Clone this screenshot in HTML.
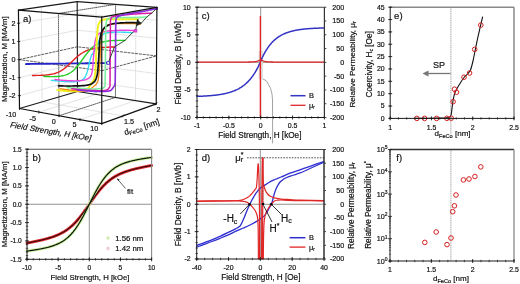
<!DOCTYPE html>
<html><head><meta charset="utf-8"><style>html,body{margin:0;padding:0;background:#fff;width:520px;height:284px;overflow:hidden}svg{display:block}</style></head><body>
<svg width="520" height="284" viewBox="0 0 520 284" style="font-family:'Liberation Sans',Arial,sans-serif">
<style>text{stroke:#1a1a1a;stroke-width:0.2px;paint-order:stroke}</style>
<rect width="520" height="284" fill="#fff"/>
<line x1="27" y1="204.25" x2="151.6" y2="204.25" stroke="#777" stroke-width="0.8" />
<line x1="89.3" y1="149.2" x2="89.3" y2="259.3" stroke="#777" stroke-width="0.8" />
<path d="M27,243.05 L27.78,242.9 L28.56,242.76 L29.34,242.61 L30.12,242.46 L30.89,242.31 L31.67,242.15 L32.45,242 L33.23,241.84 L34.01,241.69 L34.79,241.53 L35.57,241.37 L36.34,241.2 L37.12,241.04 L37.9,240.87 L38.68,240.7 L39.46,240.52 L40.24,240.35 L41.02,240.17 L41.8,239.98 L42.58,239.8 L43.35,239.6 L44.13,239.41 L44.91,239.21 L45.69,239 L46.47,238.79 L47.25,238.58 L48.03,238.36 L48.8,238.13 L49.58,237.89 L50.36,237.65 L51.14,237.4 L51.92,237.15 L52.7,236.88 L53.48,236.61 L54.26,236.32 L55.03,236.03 L55.81,235.72 L56.59,235.41 L57.37,235.08 L58.15,234.74 L58.93,234.38 L59.71,234.02 L60.49,233.63 L61.27,233.23 L62.04,232.82 L62.82,232.39 L63.6,231.93 L64.38,231.47 L65.16,230.98 L65.94,230.47 L66.72,229.94 L67.5,229.38 L68.27,228.81 L69.05,228.21 L69.83,227.59 L70.61,226.94 L71.39,226.27 L72.17,225.57 L72.95,224.84 L73.72,224.09 L74.5,223.31 L75.28,222.51 L76.06,221.68 L76.84,220.82 L77.62,219.93 L78.4,219.02 L79.18,218.09 L79.95,217.13 L80.73,216.15 L81.51,215.14 L82.29,214.12 L83.07,213.07 L83.85,212.01 L84.63,210.93 L85.41,209.84 L86.19,208.74 L86.96,207.62 L87.74,206.5 L88.52,205.38 L89.3,204.25 L90.08,203.12 L90.86,202 L91.64,200.88 L92.42,199.76 L93.19,198.66 L93.97,197.57 L94.75,196.49 L95.53,195.43 L96.31,194.38 L97.09,193.36 L97.87,192.35 L98.64,191.37 L99.42,190.41 L100.2,189.48 L100.98,188.57 L101.76,187.68 L102.54,186.82 L103.32,185.99 L104.1,185.19 L104.88,184.41 L105.65,183.66 L106.43,182.93 L107.21,182.23 L107.99,181.56 L108.77,180.91 L109.55,180.29 L110.33,179.69 L111.11,179.12 L111.88,178.56 L112.66,178.03 L113.44,177.52 L114.22,177.03 L115,176.57 L115.78,176.11 L116.56,175.68 L117.33,175.27 L118.11,174.87 L118.89,174.48 L119.67,174.12 L120.45,173.76 L121.23,173.42 L122.01,173.09 L122.79,172.78 L123.56,172.47 L124.34,172.18 L125.12,171.89 L125.9,171.62 L126.68,171.35 L127.46,171.1 L128.24,170.85 L129.02,170.61 L129.79,170.37 L130.57,170.14 L131.35,169.92 L132.13,169.71 L132.91,169.5 L133.69,169.29 L134.47,169.09 L135.25,168.9 L136.02,168.7 L136.8,168.52 L137.58,168.33 L138.36,168.15 L139.14,167.98 L139.92,167.8 L140.7,167.63 L141.48,167.46 L142.25,167.3 L143.03,167.13 L143.81,166.97 L144.59,166.81 L145.37,166.66 L146.15,166.5 L146.93,166.35 L147.71,166.19 L148.48,166.04 L149.26,165.89 L150.04,165.74 L150.82,165.6 L151.6,165.45" fill="none" stroke="#dc2a2e" stroke-width="2.9" stroke-linejoin="round" stroke-linecap="round" />
<path d="M27,251.1 L27.78,250.99 L28.56,250.88 L29.34,250.77 L30.12,250.65 L30.89,250.54 L31.67,250.42 L32.45,250.3 L33.23,250.18 L34.01,250.06 L34.79,249.94 L35.57,249.81 L36.34,249.68 L37.12,249.55 L37.9,249.41 L38.68,249.28 L39.46,249.13 L40.24,248.99 L41.02,248.84 L41.8,248.69 L42.58,248.53 L43.35,248.37 L44.13,248.2 L44.91,248.03 L45.69,247.85 L46.47,247.67 L47.25,247.47 L48.03,247.27 L48.8,247.07 L49.58,246.85 L50.36,246.63 L51.14,246.39 L51.92,246.15 L52.7,245.9 L53.48,245.63 L54.26,245.35 L55.03,245.06 L55.81,244.75 L56.59,244.43 L57.37,244.09 L58.15,243.73 L58.93,243.36 L59.71,242.97 L60.49,242.56 L61.27,242.12 L62.04,241.66 L62.82,241.18 L63.6,240.67 L64.38,240.14 L65.16,239.58 L65.94,238.98 L66.72,238.36 L67.5,237.7 L68.27,237.02 L69.05,236.29 L69.83,235.53 L70.61,234.73 L71.39,233.9 L72.17,233.02 L72.95,232.1 L73.72,231.15 L74.5,230.15 L75.28,229.11 L76.06,228.02 L76.84,226.9 L77.62,225.73 L78.4,224.52 L79.18,223.27 L79.95,221.98 L80.73,220.65 L81.51,219.29 L82.29,217.89 L83.07,216.46 L83.85,215 L84.63,213.52 L85.41,212.01 L86.19,210.48 L86.96,208.94 L87.74,207.38 L88.52,205.82 L89.3,204.25 L90.08,202.68 L90.86,201.12 L91.64,199.56 L92.42,198.02 L93.19,196.49 L93.97,194.98 L94.75,193.5 L95.53,192.04 L96.31,190.61 L97.09,189.21 L97.87,187.85 L98.64,186.52 L99.42,185.23 L100.2,183.98 L100.98,182.77 L101.76,181.6 L102.54,180.48 L103.32,179.39 L104.1,178.35 L104.88,177.35 L105.65,176.4 L106.43,175.48 L107.21,174.6 L107.99,173.77 L108.77,172.97 L109.55,172.21 L110.33,171.48 L111.11,170.8 L111.88,170.14 L112.66,169.52 L113.44,168.92 L114.22,168.36 L115,167.83 L115.78,167.32 L116.56,166.84 L117.33,166.38 L118.11,165.94 L118.89,165.53 L119.67,165.14 L120.45,164.77 L121.23,164.41 L122.01,164.07 L122.79,163.75 L123.56,163.44 L124.34,163.15 L125.12,162.87 L125.9,162.6 L126.68,162.35 L127.46,162.11 L128.24,161.87 L129.02,161.65 L129.79,161.43 L130.57,161.23 L131.35,161.03 L132.13,160.83 L132.91,160.65 L133.69,160.47 L134.47,160.3 L135.25,160.13 L136.02,159.97 L136.8,159.81 L137.58,159.66 L138.36,159.51 L139.14,159.37 L139.92,159.22 L140.7,159.09 L141.48,158.95 L142.25,158.82 L143.03,158.69 L143.81,158.56 L144.59,158.44 L145.37,158.32 L146.15,158.2 L146.93,158.08 L147.71,157.96 L148.48,157.85 L149.26,157.73 L150.04,157.62 L150.82,157.51 L151.6,157.4" fill="none" stroke="#cfeea0" stroke-width="3.0" stroke-linejoin="round" stroke-linecap="round" />
<path d="M27,243.05 L27.78,242.9 L28.56,242.76 L29.34,242.61 L30.12,242.46 L30.89,242.31 L31.67,242.15 L32.45,242 L33.23,241.84 L34.01,241.69 L34.79,241.53 L35.57,241.37 L36.34,241.2 L37.12,241.04 L37.9,240.87 L38.68,240.7 L39.46,240.52 L40.24,240.35 L41.02,240.17 L41.8,239.98 L42.58,239.8 L43.35,239.6 L44.13,239.41 L44.91,239.21 L45.69,239 L46.47,238.79 L47.25,238.58 L48.03,238.36 L48.8,238.13 L49.58,237.89 L50.36,237.65 L51.14,237.4 L51.92,237.15 L52.7,236.88 L53.48,236.61 L54.26,236.32 L55.03,236.03 L55.81,235.72 L56.59,235.41 L57.37,235.08 L58.15,234.74 L58.93,234.38 L59.71,234.02 L60.49,233.63 L61.27,233.23 L62.04,232.82 L62.82,232.39 L63.6,231.93 L64.38,231.47 L65.16,230.98 L65.94,230.47 L66.72,229.94 L67.5,229.38 L68.27,228.81 L69.05,228.21 L69.83,227.59 L70.61,226.94 L71.39,226.27 L72.17,225.57 L72.95,224.84 L73.72,224.09 L74.5,223.31 L75.28,222.51 L76.06,221.68 L76.84,220.82 L77.62,219.93 L78.4,219.02 L79.18,218.09 L79.95,217.13 L80.73,216.15 L81.51,215.14 L82.29,214.12 L83.07,213.07 L83.85,212.01 L84.63,210.93 L85.41,209.84 L86.19,208.74 L86.96,207.62 L87.74,206.5 L88.52,205.38 L89.3,204.25 L90.08,203.12 L90.86,202 L91.64,200.88 L92.42,199.76 L93.19,198.66 L93.97,197.57 L94.75,196.49 L95.53,195.43 L96.31,194.38 L97.09,193.36 L97.87,192.35 L98.64,191.37 L99.42,190.41 L100.2,189.48 L100.98,188.57 L101.76,187.68 L102.54,186.82 L103.32,185.99 L104.1,185.19 L104.88,184.41 L105.65,183.66 L106.43,182.93 L107.21,182.23 L107.99,181.56 L108.77,180.91 L109.55,180.29 L110.33,179.69 L111.11,179.12 L111.88,178.56 L112.66,178.03 L113.44,177.52 L114.22,177.03 L115,176.57 L115.78,176.11 L116.56,175.68 L117.33,175.27 L118.11,174.87 L118.89,174.48 L119.67,174.12 L120.45,173.76 L121.23,173.42 L122.01,173.09 L122.79,172.78 L123.56,172.47 L124.34,172.18 L125.12,171.89 L125.9,171.62 L126.68,171.35 L127.46,171.1 L128.24,170.85 L129.02,170.61 L129.79,170.37 L130.57,170.14 L131.35,169.92 L132.13,169.71 L132.91,169.5 L133.69,169.29 L134.47,169.09 L135.25,168.9 L136.02,168.7 L136.8,168.52 L137.58,168.33 L138.36,168.15 L139.14,167.98 L139.92,167.8 L140.7,167.63 L141.48,167.46 L142.25,167.3 L143.03,167.13 L143.81,166.97 L144.59,166.81 L145.37,166.66 L146.15,166.5 L146.93,166.35 L147.71,166.19 L148.48,166.04 L149.26,165.89 L150.04,165.74 L150.82,165.6 L151.6,165.45" fill="none" stroke="#3a0a0a" stroke-width="1.1" stroke-linejoin="round" stroke-linecap="round" />
<path d="M27,251.1 L27.78,250.99 L28.56,250.88 L29.34,250.77 L30.12,250.65 L30.89,250.54 L31.67,250.42 L32.45,250.3 L33.23,250.18 L34.01,250.06 L34.79,249.94 L35.57,249.81 L36.34,249.68 L37.12,249.55 L37.9,249.41 L38.68,249.28 L39.46,249.13 L40.24,248.99 L41.02,248.84 L41.8,248.69 L42.58,248.53 L43.35,248.37 L44.13,248.2 L44.91,248.03 L45.69,247.85 L46.47,247.67 L47.25,247.47 L48.03,247.27 L48.8,247.07 L49.58,246.85 L50.36,246.63 L51.14,246.39 L51.92,246.15 L52.7,245.9 L53.48,245.63 L54.26,245.35 L55.03,245.06 L55.81,244.75 L56.59,244.43 L57.37,244.09 L58.15,243.73 L58.93,243.36 L59.71,242.97 L60.49,242.56 L61.27,242.12 L62.04,241.66 L62.82,241.18 L63.6,240.67 L64.38,240.14 L65.16,239.58 L65.94,238.98 L66.72,238.36 L67.5,237.7 L68.27,237.02 L69.05,236.29 L69.83,235.53 L70.61,234.73 L71.39,233.9 L72.17,233.02 L72.95,232.1 L73.72,231.15 L74.5,230.15 L75.28,229.11 L76.06,228.02 L76.84,226.9 L77.62,225.73 L78.4,224.52 L79.18,223.27 L79.95,221.98 L80.73,220.65 L81.51,219.29 L82.29,217.89 L83.07,216.46 L83.85,215 L84.63,213.52 L85.41,212.01 L86.19,210.48 L86.96,208.94 L87.74,207.38 L88.52,205.82 L89.3,204.25 L90.08,202.68 L90.86,201.12 L91.64,199.56 L92.42,198.02 L93.19,196.49 L93.97,194.98 L94.75,193.5 L95.53,192.04 L96.31,190.61 L97.09,189.21 L97.87,187.85 L98.64,186.52 L99.42,185.23 L100.2,183.98 L100.98,182.77 L101.76,181.6 L102.54,180.48 L103.32,179.39 L104.1,178.35 L104.88,177.35 L105.65,176.4 L106.43,175.48 L107.21,174.6 L107.99,173.77 L108.77,172.97 L109.55,172.21 L110.33,171.48 L111.11,170.8 L111.88,170.14 L112.66,169.52 L113.44,168.92 L114.22,168.36 L115,167.83 L115.78,167.32 L116.56,166.84 L117.33,166.38 L118.11,165.94 L118.89,165.53 L119.67,165.14 L120.45,164.77 L121.23,164.41 L122.01,164.07 L122.79,163.75 L123.56,163.44 L124.34,163.15 L125.12,162.87 L125.9,162.6 L126.68,162.35 L127.46,162.11 L128.24,161.87 L129.02,161.65 L129.79,161.43 L130.57,161.23 L131.35,161.03 L132.13,160.83 L132.91,160.65 L133.69,160.47 L134.47,160.3 L135.25,160.13 L136.02,159.97 L136.8,159.81 L137.58,159.66 L138.36,159.51 L139.14,159.37 L139.92,159.22 L140.7,159.09 L141.48,158.95 L142.25,158.82 L143.03,158.69 L143.81,158.56 L144.59,158.44 L145.37,158.32 L146.15,158.2 L146.93,158.08 L147.71,157.96 L148.48,157.85 L149.26,157.73 L150.04,157.62 L150.82,157.51 L151.6,157.4" fill="none" stroke="#0a1a0a" stroke-width="1.2" stroke-linejoin="round" stroke-linecap="round" />
<line x1="27" y1="149.2" x2="151.6" y2="149.2" stroke="#555" stroke-width="1.1" />
<line x1="151.6" y1="149.2" x2="151.6" y2="259.3" stroke="#888" stroke-width="1.1" />
<line x1="27" y1="148.7" x2="27" y2="259.8" stroke="#1a1a1a" stroke-width="1" />
<line x1="26.5" y1="259.3" x2="152.1" y2="259.3" stroke="#1a1a1a" stroke-width="1" />
<line x1="27" y1="258.1" x2="27" y2="260.5" stroke="#1a1a1a" stroke-width="0.7" />
<line x1="33.23" y1="258.1" x2="33.23" y2="260.5" stroke="#1a1a1a" stroke-width="0.7" />
<line x1="39.46" y1="258.1" x2="39.46" y2="260.5" stroke="#1a1a1a" stroke-width="0.7" />
<line x1="45.69" y1="258.1" x2="45.69" y2="260.5" stroke="#1a1a1a" stroke-width="0.7" />
<line x1="51.92" y1="258.1" x2="51.92" y2="260.5" stroke="#1a1a1a" stroke-width="0.7" />
<line x1="58.15" y1="258.1" x2="58.15" y2="260.5" stroke="#1a1a1a" stroke-width="0.7" />
<line x1="64.38" y1="258.1" x2="64.38" y2="260.5" stroke="#1a1a1a" stroke-width="0.7" />
<line x1="70.61" y1="258.1" x2="70.61" y2="260.5" stroke="#1a1a1a" stroke-width="0.7" />
<line x1="76.84" y1="258.1" x2="76.84" y2="260.5" stroke="#1a1a1a" stroke-width="0.7" />
<line x1="83.07" y1="258.1" x2="83.07" y2="260.5" stroke="#1a1a1a" stroke-width="0.7" />
<line x1="89.3" y1="258.1" x2="89.3" y2="260.5" stroke="#1a1a1a" stroke-width="0.7" />
<line x1="95.53" y1="258.1" x2="95.53" y2="260.5" stroke="#1a1a1a" stroke-width="0.7" />
<line x1="101.76" y1="258.1" x2="101.76" y2="260.5" stroke="#1a1a1a" stroke-width="0.7" />
<line x1="107.99" y1="258.1" x2="107.99" y2="260.5" stroke="#1a1a1a" stroke-width="0.7" />
<line x1="114.22" y1="258.1" x2="114.22" y2="260.5" stroke="#1a1a1a" stroke-width="0.7" />
<line x1="120.45" y1="258.1" x2="120.45" y2="260.5" stroke="#1a1a1a" stroke-width="0.7" />
<line x1="126.68" y1="258.1" x2="126.68" y2="260.5" stroke="#1a1a1a" stroke-width="0.7" />
<line x1="132.91" y1="258.1" x2="132.91" y2="260.5" stroke="#1a1a1a" stroke-width="0.7" />
<line x1="139.14" y1="258.1" x2="139.14" y2="260.5" stroke="#1a1a1a" stroke-width="0.7" />
<line x1="145.37" y1="258.1" x2="145.37" y2="260.5" stroke="#1a1a1a" stroke-width="0.7" />
<line x1="151.6" y1="258.1" x2="151.6" y2="260.5" stroke="#1a1a1a" stroke-width="0.7" />
<line x1="27" y1="257.3" x2="27" y2="261.3" stroke="#1a1a1a" stroke-width="0.8" />
<text x="27" y="269.8" font-size="6.6" text-anchor="middle" fill="#111" >-10</text>
<line x1="58.15" y1="257.3" x2="58.15" y2="261.3" stroke="#1a1a1a" stroke-width="0.8" />
<text x="58.15" y="269.8" font-size="6.6" text-anchor="middle" fill="#111" >-5</text>
<line x1="89.3" y1="257.3" x2="89.3" y2="261.3" stroke="#1a1a1a" stroke-width="0.8" />
<text x="89.3" y="269.8" font-size="6.6" text-anchor="middle" fill="#111" >0</text>
<line x1="120.45" y1="257.3" x2="120.45" y2="261.3" stroke="#1a1a1a" stroke-width="0.8" />
<text x="120.45" y="269.8" font-size="6.6" text-anchor="middle" fill="#111" >5</text>
<line x1="151.6" y1="257.3" x2="151.6" y2="261.3" stroke="#1a1a1a" stroke-width="0.8" />
<text x="151.6" y="269.8" font-size="6.6" text-anchor="middle" fill="#111" >10</text>
<line x1="25.8" y1="259.3" x2="28.2" y2="259.3" stroke="#1a1a1a" stroke-width="0.7" />
<line x1="25.8" y1="255.63" x2="28.2" y2="255.63" stroke="#1a1a1a" stroke-width="0.7" />
<line x1="25.8" y1="251.96" x2="28.2" y2="251.96" stroke="#1a1a1a" stroke-width="0.7" />
<line x1="25.8" y1="248.29" x2="28.2" y2="248.29" stroke="#1a1a1a" stroke-width="0.7" />
<line x1="25.8" y1="244.62" x2="28.2" y2="244.62" stroke="#1a1a1a" stroke-width="0.7" />
<line x1="25.8" y1="240.95" x2="28.2" y2="240.95" stroke="#1a1a1a" stroke-width="0.7" />
<line x1="25.8" y1="237.28" x2="28.2" y2="237.28" stroke="#1a1a1a" stroke-width="0.7" />
<line x1="25.8" y1="233.61" x2="28.2" y2="233.61" stroke="#1a1a1a" stroke-width="0.7" />
<line x1="25.8" y1="229.94" x2="28.2" y2="229.94" stroke="#1a1a1a" stroke-width="0.7" />
<line x1="25.8" y1="226.27" x2="28.2" y2="226.27" stroke="#1a1a1a" stroke-width="0.7" />
<line x1="25.8" y1="222.6" x2="28.2" y2="222.6" stroke="#1a1a1a" stroke-width="0.7" />
<line x1="25.8" y1="218.93" x2="28.2" y2="218.93" stroke="#1a1a1a" stroke-width="0.7" />
<line x1="25.8" y1="215.26" x2="28.2" y2="215.26" stroke="#1a1a1a" stroke-width="0.7" />
<line x1="25.8" y1="211.59" x2="28.2" y2="211.59" stroke="#1a1a1a" stroke-width="0.7" />
<line x1="25.8" y1="207.92" x2="28.2" y2="207.92" stroke="#1a1a1a" stroke-width="0.7" />
<line x1="25.8" y1="204.25" x2="28.2" y2="204.25" stroke="#1a1a1a" stroke-width="0.7" />
<line x1="25.8" y1="200.58" x2="28.2" y2="200.58" stroke="#1a1a1a" stroke-width="0.7" />
<line x1="25.8" y1="196.91" x2="28.2" y2="196.91" stroke="#1a1a1a" stroke-width="0.7" />
<line x1="25.8" y1="193.24" x2="28.2" y2="193.24" stroke="#1a1a1a" stroke-width="0.7" />
<line x1="25.8" y1="189.57" x2="28.2" y2="189.57" stroke="#1a1a1a" stroke-width="0.7" />
<line x1="25.8" y1="185.9" x2="28.2" y2="185.9" stroke="#1a1a1a" stroke-width="0.7" />
<line x1="25.8" y1="182.23" x2="28.2" y2="182.23" stroke="#1a1a1a" stroke-width="0.7" />
<line x1="25.8" y1="178.56" x2="28.2" y2="178.56" stroke="#1a1a1a" stroke-width="0.7" />
<line x1="25.8" y1="174.89" x2="28.2" y2="174.89" stroke="#1a1a1a" stroke-width="0.7" />
<line x1="25.8" y1="171.22" x2="28.2" y2="171.22" stroke="#1a1a1a" stroke-width="0.7" />
<line x1="25.8" y1="167.55" x2="28.2" y2="167.55" stroke="#1a1a1a" stroke-width="0.7" />
<line x1="25.8" y1="163.88" x2="28.2" y2="163.88" stroke="#1a1a1a" stroke-width="0.7" />
<line x1="25.8" y1="160.21" x2="28.2" y2="160.21" stroke="#1a1a1a" stroke-width="0.7" />
<line x1="25.8" y1="156.54" x2="28.2" y2="156.54" stroke="#1a1a1a" stroke-width="0.7" />
<line x1="25.8" y1="152.87" x2="28.2" y2="152.87" stroke="#1a1a1a" stroke-width="0.7" />
<line x1="25.8" y1="149.2" x2="28.2" y2="149.2" stroke="#1a1a1a" stroke-width="0.7" />
<line x1="25" y1="259.3" x2="29" y2="259.3" stroke="#1a1a1a" stroke-width="0.8" />
<text x="21.8" y="261.6" font-size="6.6" text-anchor="end" fill="#111" >-1.5</text>
<line x1="25" y1="240.95" x2="29" y2="240.95" stroke="#1a1a1a" stroke-width="0.8" />
<text x="21.8" y="243.25" font-size="6.6" text-anchor="end" fill="#111" >-1.0</text>
<line x1="25" y1="222.6" x2="29" y2="222.6" stroke="#1a1a1a" stroke-width="0.8" />
<text x="21.8" y="224.9" font-size="6.6" text-anchor="end" fill="#111" >-0.5</text>
<line x1="25" y1="204.25" x2="29" y2="204.25" stroke="#1a1a1a" stroke-width="0.8" />
<text x="21.8" y="206.55" font-size="6.6" text-anchor="end" fill="#111" >0.0</text>
<line x1="25" y1="185.9" x2="29" y2="185.9" stroke="#1a1a1a" stroke-width="0.8" />
<text x="21.8" y="188.2" font-size="6.6" text-anchor="end" fill="#111" >0.5</text>
<line x1="25" y1="167.55" x2="29" y2="167.55" stroke="#1a1a1a" stroke-width="0.8" />
<text x="21.8" y="169.85" font-size="6.6" text-anchor="end" fill="#111" >1.0</text>
<line x1="25" y1="149.2" x2="29" y2="149.2" stroke="#1a1a1a" stroke-width="0.8" />
<text x="21.8" y="151.5" font-size="6.6" text-anchor="end" fill="#111" >1.5</text>
<text x="32.4" y="160.6" font-size="9.5" text-anchor="start" fill="#111" >b)</text>
<text x="130" y="194.4" font-size="8" text-anchor="middle" fill="#111" >fit</text>
<line x1="125.4" y1="188.4" x2="117.6" y2="179.2" stroke="#222" stroke-width="0.7" />
<path d="M116.8,178.3 L119.6,179.6 L118.2,181.0 Z" fill="#222"/>
<circle cx="108" cy="238" r="1.5" fill="#cfe6a6" stroke="#e0f0c8" stroke-width="0.6"/>
<circle cx="108" cy="248.5" r="1.4" fill="#f6dde0" stroke="#e8b0b8" stroke-width="0.6"/>
<text x="115.2" y="240.8" font-size="7.8" text-anchor="start" fill="#111" >1.56 nm</text>
<text x="115.2" y="251.3" font-size="7.8" text-anchor="start" fill="#111" >1.42 nm</text>
<text x="90" y="279.5" font-size="7.75" text-anchor="middle" fill="#111" >Field Strength, H [kOe]</text>
<text x="7.3" y="204.4" font-size="7.78" text-anchor="middle" fill="#111" transform="rotate(-90 7.3 204.4)">Magnetization, M [MA/m]</text>
<line x1="197" y1="62.35" x2="324.4" y2="62.35" stroke="#777" stroke-width="0.8" />
<line x1="260.7" y1="7.2" x2="260.7" y2="117.5" stroke="#777" stroke-width="0.8" />
<rect x="259" y="51.5" width="3.5" height="27.5" fill="#e4e0e0" stroke="#d8d0d0" stroke-width="0.5"/>
<path d="M263.2,79.2 L266,80.5 L268.4,84.2 L270.6,88.5 L272,94 L272.5,100 L272.6,118 L272.6,143" fill="none" stroke="#8a8a8a" stroke-width="0.8" stroke-linejoin="round" stroke-linecap="round" />
<path d="M197,96.39 L197.5,96.37 L198,96.35 L198.5,96.34 L199,96.32 L199.5,96.3 L200,96.28 L200.5,96.26 L201,96.23 L201.5,96.21 L202,96.19 L202.5,96.16 L203,96.14 L203.49,96.11 L203.99,96.09 L204.49,96.06 L204.99,96.03 L205.49,96 L205.99,95.97 L206.49,95.94 L206.99,95.91 L207.49,95.87 L207.99,95.84 L208.49,95.8 L208.99,95.77 L209.49,95.73 L209.99,95.69 L210.49,95.65 L210.99,95.6 L211.49,95.56 L211.99,95.51 L212.49,95.47 L212.99,95.42 L213.49,95.37 L213.99,95.32 L214.49,95.26 L214.99,95.21 L215.49,95.15 L215.99,95.09 L216.48,95.03 L216.98,94.97 L217.48,94.9 L217.98,94.83 L218.48,94.76 L218.98,94.69 L219.48,94.62 L219.98,94.54 L220.48,94.46 L220.98,94.38 L221.48,94.29 L221.98,94.2 L222.48,94.11 L222.98,94.02 L223.48,93.92 L223.98,93.82 L224.48,93.71 L224.98,93.61 L225.48,93.49 L225.98,93.38 L226.48,93.26 L226.98,93.14 L227.48,93.01 L227.98,92.88 L228.48,92.74 L228.97,92.6 L229.47,92.46 L229.97,92.3 L230.47,92.15 L230.97,91.99 L231.47,91.82 L231.97,91.65 L232.47,91.47 L232.97,91.29 L233.47,91.1 L233.97,90.9 L234.47,90.7 L234.97,90.49 L235.47,90.27 L235.97,90.05 L236.47,89.81 L236.97,89.57 L237.47,89.33 L237.97,89.07 L238.47,88.81 L238.97,88.53 L239.47,88.25 L239.97,87.95 L240.47,87.65 L240.97,87.34 L241.47,87.01 L241.96,86.68 L242.46,86.33 L242.96,85.98 L243.46,85.61 L243.96,85.22 L244.46,84.83 L244.96,84.42 L245.46,84 L245.96,83.56 L246.46,83.11 L246.96,82.64 L247.46,82.16 L247.96,81.66 L248.46,81.14 L248.96,80.61 L249.46,80.06 L249.96,79.49 L250.46,78.9 L250.96,78.29 L251.46,77.66 L251.96,77 L252.46,76.33 L252.96,75.63 L253.46,74.91 L253.96,74.17 L254.45,73.4 L254.95,72.6 L255.45,71.78 L255.95,70.93 L256.45,70.05 L256.95,69.14 L257.45,68.2 L257.95,67.23 L258.45,66.22 L258.95,65.18 L259.45,64.11 L259.95,63 L260.45,61.83 L260.95,60.62 L261.45,59.45 L261.95,58.33 L262.45,57.24 L262.95,56.2 L263.45,55.19 L263.95,54.21 L264.45,53.27 L264.95,52.37 L265.45,51.49 L265.95,50.65 L266.45,49.84 L266.95,49.05 L267.44,48.29 L267.94,47.56 L268.44,46.86 L268.94,46.18 L269.44,45.52 L269.94,44.89 L270.44,44.28 L270.94,43.69 L271.44,43.12 L271.94,42.57 L272.44,42.05 L272.94,41.54 L273.44,41.04 L273.94,40.57 L274.44,40.11 L274.94,39.67 L275.44,39.24 L275.94,38.83 L276.44,38.44 L276.94,38.05 L277.44,37.68 L277.94,37.33 L278.44,36.98 L278.94,36.65 L279.44,36.33 L279.93,36.03 L280.43,35.73 L280.93,35.44 L281.43,35.16 L281.93,34.9 L282.43,34.64 L282.93,34.39 L283.43,34.15 L283.93,33.92 L284.43,33.7 L284.93,33.48 L285.43,33.27 L285.93,33.07 L286.43,32.88 L286.93,32.69 L287.43,32.51 L287.93,32.34 L288.43,32.17 L288.93,32.01 L289.43,31.86 L289.93,31.71 L290.43,31.56 L290.93,31.42 L291.43,31.29 L291.93,31.16 L292.43,31.03 L292.92,30.91 L293.42,30.79 L293.92,30.68 L294.42,30.57 L294.92,30.47 L295.42,30.36 L295.92,30.27 L296.42,30.17 L296.92,30.08 L297.42,29.99 L297.92,29.91 L298.42,29.83 L298.92,29.75 L299.42,29.67 L299.92,29.6 L300.42,29.53 L300.92,29.46 L301.42,29.4 L301.92,29.33 L302.42,29.27 L302.92,29.21 L303.42,29.16 L303.92,29.1 L304.42,29.05 L304.92,29 L305.41,28.95 L305.91,28.9 L306.41,28.85 L306.91,28.81 L307.41,28.77 L307.91,28.73 L308.41,28.69 L308.91,28.65 L309.41,28.61 L309.91,28.58 L310.41,28.54 L310.91,28.51 L311.41,28.48 L311.91,28.44 L312.41,28.41 L312.91,28.39 L313.41,28.36 L313.91,28.33 L314.41,28.31 L314.91,28.28 L315.41,28.26 L315.91,28.23 L316.41,28.21 L316.91,28.19 L317.41,28.17 L317.91,28.15 L318.4,28.13 L318.9,28.11 L319.4,28.09 L319.9,28.08 L320.4,28.06 L320.9,28.04 L321.4,28.03 L321.9,28.01 L322.4,28 L322.9,27.98 L323.4,27.97 L323.9,27.96 L324.4,27.94" fill="none" stroke="#3434c4" stroke-width="1.5" stroke-linejoin="round" stroke-linecap="round" />
<path d="M197,62.07 L197.64,62.07 L198.27,62.07 L198.91,62.07 L199.55,62.07 L200.19,62.07 L200.82,62.07 L201.46,62.07 L202.1,62.07 L202.73,62.07 L203.37,62.07 L204.01,62.07 L204.64,62.07 L205.28,62.07 L205.92,62.07 L206.56,62.07 L207.19,62.07 L207.83,62.07 L208.47,62.07 L209.1,62.07 L209.74,62.07 L210.38,62.07 L211.01,62.07 L211.65,62.07 L212.29,62.07 L212.93,62.07 L213.56,62.07 L214.2,62.07 L214.84,62.07 L215.47,62.07 L216.11,62.07 L216.75,62.07 L217.38,62.07 L218.02,62.07 L218.66,62.07 L219.3,62.07 L219.93,62.07 L220.57,62.07 L221.21,62.07 L221.84,62.07 L222.48,62.07 L223.12,62.07 L223.75,62.07 L224.39,62.07 L225.03,62.07 L225.66,62.07 L226.3,62.07 L226.94,62.07 L227.58,62.07 L228.21,62.07 L228.85,62.07 L229.49,62.07 L230.12,62.07 L230.76,62.07 L231.4,62.07 L232.03,62.07 L232.67,62.07 L233.31,62.07 L233.95,62.07 L234.58,62.07 L235.22,62.07 L235.86,62.07 L236.49,62.07 L237.13,62.07 L237.77,62.07 L238.41,62.07 L239.04,62.07 L239.68,62.07 L240.32,62.07 L240.95,62.07 L241.59,62.07 L242.23,62.07 L242.86,62.07 L243.5,62.06 L244.14,62.06 L244.77,62.06 L245.41,62.05 L246.05,62.05 L246.69,62.04 L247.32,62.04 L247.96,62.03 L248.6,62.02 L249.23,62.01 L249.87,61.99 L250.51,61.97 L251.14,61.95 L251.78,61.92 L252.42,61.89 L253.06,61.85 L253.69,61.8 L254.33,61.74 L254.97,61.66 L255.6,61.57 L256.24,61.46 L256.88,61.33 L257.51,61.16 L258.15,60.96 L258.79,60.71 L259.43,60.41 L260.06,60.04 L260.7,59.59 L261.34,60.04 L261.97,60.41 L262.61,60.71 L263.25,60.96 L263.88,61.16 L264.52,61.33 L265.16,61.46 L265.8,61.57 L266.43,61.66 L267.07,61.74 L267.71,61.8 L268.34,61.85 L268.98,61.89 L269.62,61.92 L270.25,61.95 L270.89,61.97 L271.53,61.99 L272.17,62.01 L272.8,62.02 L273.44,62.03 L274.08,62.04 L274.71,62.04 L275.35,62.05 L275.99,62.05 L276.62,62.06 L277.26,62.06 L277.9,62.06 L278.54,62.07 L279.17,62.07 L279.81,62.07 L280.45,62.07 L281.08,62.07 L281.72,62.07 L282.36,62.07 L283,62.07 L283.63,62.07 L284.27,62.07 L284.91,62.07 L285.54,62.07 L286.18,62.07 L286.82,62.07 L287.45,62.07 L288.09,62.07 L288.73,62.07 L289.37,62.07 L290,62.07 L290.64,62.07 L291.28,62.07 L291.91,62.07 L292.55,62.07 L293.19,62.07 L293.82,62.07 L294.46,62.07 L295.1,62.07 L295.74,62.07 L296.37,62.07 L297.01,62.07 L297.65,62.07 L298.28,62.07 L298.92,62.07 L299.56,62.07 L300.19,62.07 L300.83,62.07 L301.47,62.07 L302.11,62.07 L302.74,62.07 L303.38,62.07 L304.02,62.07 L304.65,62.07 L305.29,62.07 L305.93,62.07 L306.56,62.07 L307.2,62.07 L307.84,62.07 L308.47,62.07 L309.11,62.07 L309.75,62.07 L310.39,62.07 L311.02,62.07 L311.66,62.07 L312.3,62.07 L312.93,62.07 L313.57,62.07 L314.21,62.07 L314.84,62.07 L315.48,62.07 L316.12,62.07 L316.76,62.07 L317.39,62.07 L318.03,62.07 L318.67,62.07 L319.3,62.07 L319.94,62.07 L320.58,62.07 L321.21,62.07 L321.85,62.07 L322.49,62.07 L323.13,62.07 L323.76,62.07 L324.4,62.07" fill="none" stroke="#e02626" stroke-width="1.3" stroke-linejoin="round" stroke-linecap="round" />
<line x1="260.4" y1="16" x2="260.4" y2="117.5" stroke="#e02626" stroke-width="1.4" />
<line x1="197" y1="7.2" x2="324.4" y2="7.2" stroke="#444" stroke-width="1.1" />
<line x1="324.4" y1="7.2" x2="324.4" y2="117.5" stroke="#333" stroke-width="1.0" />
<line x1="197" y1="6.7" x2="197" y2="118" stroke="#1a1a1a" stroke-width="1" />
<line x1="196.5" y1="117.5" x2="324.9" y2="117.5" stroke="#1a1a1a" stroke-width="1" />
<line x1="197" y1="116.3" x2="197" y2="118.7" stroke="#1a1a1a" stroke-width="0.7" />
<line x1="203.37" y1="116.3" x2="203.37" y2="118.7" stroke="#1a1a1a" stroke-width="0.7" />
<line x1="209.74" y1="116.3" x2="209.74" y2="118.7" stroke="#1a1a1a" stroke-width="0.7" />
<line x1="216.11" y1="116.3" x2="216.11" y2="118.7" stroke="#1a1a1a" stroke-width="0.7" />
<line x1="222.48" y1="116.3" x2="222.48" y2="118.7" stroke="#1a1a1a" stroke-width="0.7" />
<line x1="228.85" y1="116.3" x2="228.85" y2="118.7" stroke="#1a1a1a" stroke-width="0.7" />
<line x1="235.22" y1="116.3" x2="235.22" y2="118.7" stroke="#1a1a1a" stroke-width="0.7" />
<line x1="241.59" y1="116.3" x2="241.59" y2="118.7" stroke="#1a1a1a" stroke-width="0.7" />
<line x1="247.96" y1="116.3" x2="247.96" y2="118.7" stroke="#1a1a1a" stroke-width="0.7" />
<line x1="254.33" y1="116.3" x2="254.33" y2="118.7" stroke="#1a1a1a" stroke-width="0.7" />
<line x1="260.7" y1="116.3" x2="260.7" y2="118.7" stroke="#1a1a1a" stroke-width="0.7" />
<line x1="267.07" y1="116.3" x2="267.07" y2="118.7" stroke="#1a1a1a" stroke-width="0.7" />
<line x1="273.44" y1="116.3" x2="273.44" y2="118.7" stroke="#1a1a1a" stroke-width="0.7" />
<line x1="279.81" y1="116.3" x2="279.81" y2="118.7" stroke="#1a1a1a" stroke-width="0.7" />
<line x1="286.18" y1="116.3" x2="286.18" y2="118.7" stroke="#1a1a1a" stroke-width="0.7" />
<line x1="292.55" y1="116.3" x2="292.55" y2="118.7" stroke="#1a1a1a" stroke-width="0.7" />
<line x1="298.92" y1="116.3" x2="298.92" y2="118.7" stroke="#1a1a1a" stroke-width="0.7" />
<line x1="305.29" y1="116.3" x2="305.29" y2="118.7" stroke="#1a1a1a" stroke-width="0.7" />
<line x1="311.66" y1="116.3" x2="311.66" y2="118.7" stroke="#1a1a1a" stroke-width="0.7" />
<line x1="318.03" y1="116.3" x2="318.03" y2="118.7" stroke="#1a1a1a" stroke-width="0.7" />
<line x1="324.4" y1="116.3" x2="324.4" y2="118.7" stroke="#1a1a1a" stroke-width="0.7" />
<line x1="197" y1="115.5" x2="197" y2="119.5" stroke="#1a1a1a" stroke-width="0.8" />
<text x="197" y="127.8" font-size="6.9" text-anchor="middle" fill="#111" >-1</text>
<line x1="228.85" y1="115.5" x2="228.85" y2="119.5" stroke="#1a1a1a" stroke-width="0.8" />
<text x="228.85" y="127.8" font-size="6.9" text-anchor="middle" fill="#111" >-0.5</text>
<line x1="260.7" y1="115.5" x2="260.7" y2="119.5" stroke="#1a1a1a" stroke-width="0.8" />
<text x="260.7" y="127.8" font-size="6.9" text-anchor="middle" fill="#111" >0</text>
<line x1="292.55" y1="115.5" x2="292.55" y2="119.5" stroke="#1a1a1a" stroke-width="0.8" />
<text x="292.55" y="127.8" font-size="6.9" text-anchor="middle" fill="#111" >0.5</text>
<line x1="324.4" y1="115.5" x2="324.4" y2="119.5" stroke="#1a1a1a" stroke-width="0.8" />
<text x="324.4" y="127.8" font-size="6.9" text-anchor="middle" fill="#111" >1</text>
<line x1="195.8" y1="117.5" x2="198.2" y2="117.5" stroke="#1a1a1a" stroke-width="0.7" />
<line x1="195.8" y1="111.98" x2="198.2" y2="111.98" stroke="#1a1a1a" stroke-width="0.7" />
<line x1="195.8" y1="106.47" x2="198.2" y2="106.47" stroke="#1a1a1a" stroke-width="0.7" />
<line x1="195.8" y1="100.95" x2="198.2" y2="100.95" stroke="#1a1a1a" stroke-width="0.7" />
<line x1="195.8" y1="95.44" x2="198.2" y2="95.44" stroke="#1a1a1a" stroke-width="0.7" />
<line x1="195.8" y1="89.92" x2="198.2" y2="89.92" stroke="#1a1a1a" stroke-width="0.7" />
<line x1="195.8" y1="84.41" x2="198.2" y2="84.41" stroke="#1a1a1a" stroke-width="0.7" />
<line x1="195.8" y1="78.9" x2="198.2" y2="78.9" stroke="#1a1a1a" stroke-width="0.7" />
<line x1="195.8" y1="73.38" x2="198.2" y2="73.38" stroke="#1a1a1a" stroke-width="0.7" />
<line x1="195.8" y1="67.87" x2="198.2" y2="67.87" stroke="#1a1a1a" stroke-width="0.7" />
<line x1="195.8" y1="62.35" x2="198.2" y2="62.35" stroke="#1a1a1a" stroke-width="0.7" />
<line x1="195.8" y1="56.83" x2="198.2" y2="56.83" stroke="#1a1a1a" stroke-width="0.7" />
<line x1="195.8" y1="51.32" x2="198.2" y2="51.32" stroke="#1a1a1a" stroke-width="0.7" />
<line x1="195.8" y1="45.8" x2="198.2" y2="45.8" stroke="#1a1a1a" stroke-width="0.7" />
<line x1="195.8" y1="40.29" x2="198.2" y2="40.29" stroke="#1a1a1a" stroke-width="0.7" />
<line x1="195.8" y1="34.78" x2="198.2" y2="34.78" stroke="#1a1a1a" stroke-width="0.7" />
<line x1="195.8" y1="29.26" x2="198.2" y2="29.26" stroke="#1a1a1a" stroke-width="0.7" />
<line x1="195.8" y1="23.75" x2="198.2" y2="23.75" stroke="#1a1a1a" stroke-width="0.7" />
<line x1="195.8" y1="18.23" x2="198.2" y2="18.23" stroke="#1a1a1a" stroke-width="0.7" />
<line x1="195.8" y1="12.72" x2="198.2" y2="12.72" stroke="#1a1a1a" stroke-width="0.7" />
<line x1="195.8" y1="7.2" x2="198.2" y2="7.2" stroke="#1a1a1a" stroke-width="0.7" />
<line x1="195" y1="117.5" x2="199" y2="117.5" stroke="#1a1a1a" stroke-width="0.8" />
<text x="190.6" y="119.8" font-size="6.9" text-anchor="end" fill="#111" >-10</text>
<line x1="195" y1="89.92" x2="199" y2="89.92" stroke="#1a1a1a" stroke-width="0.8" />
<text x="190.6" y="92.22" font-size="6.9" text-anchor="end" fill="#111" >-5</text>
<line x1="195" y1="62.35" x2="199" y2="62.35" stroke="#1a1a1a" stroke-width="0.8" />
<text x="190.6" y="64.65" font-size="6.9" text-anchor="end" fill="#111" >0</text>
<line x1="195" y1="34.78" x2="199" y2="34.78" stroke="#1a1a1a" stroke-width="0.8" />
<text x="190.6" y="37.08" font-size="6.9" text-anchor="end" fill="#111" >5</text>
<line x1="195" y1="7.2" x2="199" y2="7.2" stroke="#1a1a1a" stroke-width="0.8" />
<text x="190.6" y="9.5" font-size="6.9" text-anchor="end" fill="#111" >10</text>
<line x1="324.4" y1="117.5" x2="326.4" y2="117.5" stroke="#333" stroke-width="0.9" />
<text x="344.3" y="119.9" font-size="7.2" text-anchor="end" fill="#111" >-200</text>
<line x1="324.4" y1="103.71" x2="326.4" y2="103.71" stroke="#333" stroke-width="0.9" />
<text x="344.3" y="106.11" font-size="7.2" text-anchor="end" fill="#111" >-150</text>
<line x1="324.4" y1="89.92" x2="326.4" y2="89.92" stroke="#333" stroke-width="0.9" />
<text x="344.3" y="92.33" font-size="7.2" text-anchor="end" fill="#111" >-100</text>
<line x1="324.4" y1="76.14" x2="326.4" y2="76.14" stroke="#333" stroke-width="0.9" />
<text x="344.3" y="78.54" font-size="7.2" text-anchor="end" fill="#111" >-50</text>
<line x1="324.4" y1="62.35" x2="326.4" y2="62.35" stroke="#333" stroke-width="0.9" />
<text x="344.3" y="64.75" font-size="7.2" text-anchor="end" fill="#111" >0</text>
<line x1="324.4" y1="48.56" x2="326.4" y2="48.56" stroke="#333" stroke-width="0.9" />
<text x="344.3" y="50.96" font-size="7.2" text-anchor="end" fill="#111" >50</text>
<line x1="324.4" y1="34.78" x2="326.4" y2="34.78" stroke="#333" stroke-width="0.9" />
<text x="344.3" y="37.18" font-size="7.2" text-anchor="end" fill="#111" >100</text>
<line x1="324.4" y1="20.99" x2="326.4" y2="20.99" stroke="#333" stroke-width="0.9" />
<text x="344.3" y="23.39" font-size="7.2" text-anchor="end" fill="#111" >150</text>
<line x1="324.4" y1="7.2" x2="326.4" y2="7.2" stroke="#333" stroke-width="0.9" />
<text x="344.3" y="9.6" font-size="7.2" text-anchor="end" fill="#111" >200</text>
<line x1="324.4" y1="7.2" x2="324.4" y2="117.5" stroke="#333" stroke-width="1" />
<text x="201.8" y="19.1" font-size="9.5" text-anchor="start" fill="#111" >c)</text>
<line x1="290.5" y1="95.7" x2="305.5" y2="95.7" stroke="#3434c4" stroke-width="1.5" />
<line x1="290.5" y1="105.3" x2="305.5" y2="105.3" stroke="#e02626" stroke-width="1.3" />
<text x="309" y="98.2" font-size="7.4" text-anchor="start" fill="#111" >B</text>
<text x="309" y="107.8" font-size="7.4" text-anchor="start" fill="#111" >μ<tspan font-size="4.5" dy="1.2">r</tspan></text>
<text x="259.8" y="138.4" font-size="8.2" text-anchor="middle" fill="#111" >Field Strength, H [kOe]</text>
<text x="181.2" y="62.7" font-size="8.5" text-anchor="middle" fill="#111" transform="rotate(-90 181.2 62.7)">Field Density, B [nWb]</text>
<text x="354.6" y="64.4" font-size="8.1" text-anchor="middle" fill="#111" transform="rotate(-90 354.6 64.4)">Relative Permeability, μ<tspan font-size="5.2" dy="1.3">r</tspan></text>
<line x1="196.7" y1="204.25" x2="324" y2="204.25" stroke="#777" stroke-width="0.8" />
<line x1="260.35" y1="149.5" x2="260.35" y2="259" stroke="#777" stroke-width="0.8" />
<line x1="247" y1="157.8" x2="324.0" y2="157.8" stroke="#222" stroke-width="0.8" stroke-dasharray="1.6,1.2"/>
<line x1="263.1" y1="157.8" x2="263.1" y2="204" stroke="#222" stroke-width="0.7" stroke-dasharray="0.8,0.8"/>
<path d="M323.8,161.5 C321.5,162.3 313.97,164.92 310,166.3 C306.03,167.68 303.33,168.65 300,169.8 C296.67,170.95 293.15,172 290,173.2 C286.85,174.4 283.77,175.9 281.1,177 C278.43,178.1 276.1,178.85 274,179.8 C271.9,180.75 270.33,181.6 268.5,182.7 C266.67,183.8 264.42,185.47 263,186.4 C261.58,187.33 260.83,187.6 260,188.3 C259.17,189 258.67,189.78 258,190.6 C257.33,191.42 256.67,192.23 256,193.2 C255.33,194.17 254.7,195.23 254,196.4 C253.3,197.57 252.5,198.88 251.8,200.2 C251.1,201.52 250.4,203.03 249.8,204.3 C249.2,205.57 248.72,206.63 248.2,207.8 C247.68,208.97 247.48,209.38 246.7,211.3 C245.92,213.22 244.55,216.92 243.5,219.3 C242.45,221.68 241.4,224.18 240.4,225.6 C239.4,227.02 238.3,227.27 237.5,227.8 C236.7,228.33 237.23,227.98 235.6,228.8 C233.97,229.62 230.3,231.45 227.7,232.7 C225.1,233.95 222.65,235.1 220,236.3 C217.35,237.5 214.47,238.82 211.8,239.9 C209.13,240.98 206.48,241.9 204,242.8 C201.52,243.7 198.08,244.88 196.9,245.3" fill="none" stroke="#2e2ed0" stroke-width="1.3" stroke-linejoin="round" stroke-linecap="round" />
<path d="M196.9,247 C198.08,246.57 201.52,245.32 204,244.4 C206.48,243.48 209.13,242.52 211.8,241.5 C214.47,240.48 217.35,239.37 220,238.3 C222.65,237.23 225.03,236.28 227.7,235.1 C230.37,233.92 233.37,232.38 236,231.2 C238.63,230.02 241.17,229.03 243.5,228 C245.83,226.97 247.88,226.07 250,225 C252.12,223.93 254.37,222.7 256.2,221.6 C258.03,220.5 259.68,219.32 261,218.4 C262.32,217.48 263.13,217.08 264.1,216.1 C265.07,215.12 265.95,213.85 266.8,212.5 C267.65,211.15 268.45,209.37 269.2,208 C269.95,206.63 270.7,205.72 271.3,204.3 C271.9,202.88 272.33,201.13 272.8,199.5 C273.27,197.87 273.57,196.25 274.1,194.5 C274.63,192.75 275.3,190.65 276,189 C276.7,187.35 277.58,185.8 278.3,184.6 C279.02,183.4 279.6,182.58 280.3,181.8 C281,181.02 281.72,180.48 282.5,179.9 C283.28,179.32 284.05,178.82 285,178.3 C285.95,177.78 286.7,177.35 288.2,176.8 C289.7,176.25 292.03,175.65 294,175 C295.97,174.35 297.33,173.98 300,172.9 C302.67,171.82 306.03,170.28 310,168.5 C313.97,166.72 321.5,163.25 323.8,162.2" fill="none" stroke="#2e2ed0" stroke-width="1.3" stroke-linejoin="round" stroke-linecap="round" />
<path d="M196.9,201.1 C201.58,201.05 218.15,200.9 225,200.8 C231.85,200.7 235.22,200.62 238,200.5 C240.78,200.38 240.57,200.38 241.7,200.1 C242.83,199.82 243.77,199.27 244.8,198.8 C245.83,198.33 246.95,197.93 247.9,197.3 C248.85,196.67 249.63,195.85 250.5,195 C251.37,194.15 252.35,193.1 253.1,192.2 C253.85,191.3 254.45,190.4 255,189.6 C255.55,188.8 256.05,189 256.4,187.4 C256.75,185.8 256.9,182.9 257.1,180 C257.3,177.1 257.43,172.7 257.6,170 C257.77,167.3 257.93,164.13 258.1,163.8 C258.27,163.47 258.45,165.3 258.6,168 C258.75,170.7 258.88,175.5 259,180 C259.12,184.5 259.22,189.17 259.3,195 C259.38,200.83 259.45,204.33 259.5,215 C259.55,225.67 259.58,251.67 259.6,259" fill="none" stroke="#e02626" stroke-width="1.2" stroke-linejoin="round" stroke-linecap="round" />
<path d="M196.9,201.3 C201.58,201.25 218.15,201.07 225,201 C231.85,200.93 235.22,200.88 238,200.9 C240.78,200.92 240.62,201 241.7,201.1 C242.78,201.2 243.62,201.3 244.5,201.5 C245.38,201.7 246.12,201.83 247,202.3 C247.88,202.77 248.92,203.55 249.8,204.3 C250.68,205.05 251.5,205.88 252.3,206.8 C253.1,207.72 253.9,208.68 254.6,209.8 C255.3,210.92 256,212.13 256.5,213.5 C257,214.87 257.33,215.92 257.6,218 C257.87,220.08 257.98,222.33 258.1,226 C258.22,229.67 258.25,234.5 258.3,240 C258.35,245.5 258.38,255.83 258.4,259" fill="none" stroke="#e02626" stroke-width="1.2" stroke-linejoin="round" stroke-linecap="round" />
<path d="M323.8,200.6 C319.83,200.52 305.63,200.27 300,200.1 C294.37,199.93 293.15,199.77 290,199.6 C286.85,199.43 283.52,199.33 281.1,199.1 C278.68,198.87 276.93,198.52 275.5,198.2 C274.07,197.88 273.43,197.57 272.5,197.2 C271.57,196.83 270.72,196.53 269.9,196 C269.08,195.47 268.32,194.82 267.6,194 C266.88,193.18 266.13,192.18 265.6,191.1 C265.07,190.02 264.75,188.68 264.4,187.5 C264.05,186.32 263.73,185.58 263.5,184 C263.27,182.42 263.15,180.67 263,178 C262.85,175.33 262.7,171.37 262.6,168 C262.5,164.63 262.48,157.47 262.4,157.8 C262.32,158.13 262.2,162.97 262.1,170 C262,177.03 261.88,185.17 261.8,200 C261.72,214.83 261.63,249.17 261.6,259" fill="none" stroke="#e02626" stroke-width="1.2" stroke-linejoin="round" stroke-linecap="round" />
<path d="M323.8,200.9 C319.83,200.85 305.97,200.7 300,200.6 C294.03,200.5 291.17,200.4 288,200.3 C284.83,200.2 282.75,200.02 281,200 C279.25,199.98 278.65,200 277.5,200.2 C276.35,200.4 275.13,200.52 274.1,201.2 C273.07,201.88 272.18,203.25 271.3,204.3 C270.42,205.35 269.58,206.3 268.8,207.5 C268.02,208.7 267.23,210.08 266.6,211.5 C265.97,212.92 265.43,213.92 265,216 C264.57,218.08 264.25,220 264,224 C263.75,228 263.62,234.17 263.5,240 C263.38,245.83 263.33,255.83 263.3,259" fill="none" stroke="#e02626" stroke-width="1.2" stroke-linejoin="round" stroke-linecap="round" />
<path d="M262.6,259 C262.62,251.67 262.65,228.17 262.7,215 C262.75,201.83 262.83,189.5 262.9,180 C262.97,170.5 263.07,161.67 263.1,158" fill="none" stroke="#e02626" stroke-width="1.2" stroke-linejoin="round" stroke-linecap="round" />
<circle cx="249.5" cy="204.2" r="1.3" fill="#000"/>
<circle cx="263.1" cy="204" r="1.3" fill="#000"/>
<circle cx="271.2" cy="204.3" r="1.3" fill="#000"/>
<line x1="240.3" y1="214" x2="248.8" y2="205" stroke="#000" stroke-width="0.8" />
<line x1="272" y1="222" x2="263.5" y2="205.4" stroke="#000" stroke-width="0.8" />
<line x1="281.5" y1="214.5" x2="272" y2="205" stroke="#000" stroke-width="0.8" />
<line x1="196.7" y1="149.5" x2="324" y2="149.5" stroke="#444" stroke-width="1.1" />
<line x1="324" y1="149.5" x2="324" y2="259" stroke="#333" stroke-width="1.0" />
<line x1="196.7" y1="149" x2="196.7" y2="259.5" stroke="#1a1a1a" stroke-width="1" />
<line x1="196.2" y1="259" x2="324.5" y2="259" stroke="#1a1a1a" stroke-width="1" />
<line x1="196.7" y1="257.8" x2="196.7" y2="260.2" stroke="#1a1a1a" stroke-width="0.7" />
<line x1="204.66" y1="257.8" x2="204.66" y2="260.2" stroke="#1a1a1a" stroke-width="0.7" />
<line x1="212.61" y1="257.8" x2="212.61" y2="260.2" stroke="#1a1a1a" stroke-width="0.7" />
<line x1="220.57" y1="257.8" x2="220.57" y2="260.2" stroke="#1a1a1a" stroke-width="0.7" />
<line x1="228.52" y1="257.8" x2="228.52" y2="260.2" stroke="#1a1a1a" stroke-width="0.7" />
<line x1="236.48" y1="257.8" x2="236.48" y2="260.2" stroke="#1a1a1a" stroke-width="0.7" />
<line x1="244.44" y1="257.8" x2="244.44" y2="260.2" stroke="#1a1a1a" stroke-width="0.7" />
<line x1="252.39" y1="257.8" x2="252.39" y2="260.2" stroke="#1a1a1a" stroke-width="0.7" />
<line x1="260.35" y1="257.8" x2="260.35" y2="260.2" stroke="#1a1a1a" stroke-width="0.7" />
<line x1="268.31" y1="257.8" x2="268.31" y2="260.2" stroke="#1a1a1a" stroke-width="0.7" />
<line x1="276.26" y1="257.8" x2="276.26" y2="260.2" stroke="#1a1a1a" stroke-width="0.7" />
<line x1="284.22" y1="257.8" x2="284.22" y2="260.2" stroke="#1a1a1a" stroke-width="0.7" />
<line x1="292.18" y1="257.8" x2="292.18" y2="260.2" stroke="#1a1a1a" stroke-width="0.7" />
<line x1="300.13" y1="257.8" x2="300.13" y2="260.2" stroke="#1a1a1a" stroke-width="0.7" />
<line x1="308.09" y1="257.8" x2="308.09" y2="260.2" stroke="#1a1a1a" stroke-width="0.7" />
<line x1="316.04" y1="257.8" x2="316.04" y2="260.2" stroke="#1a1a1a" stroke-width="0.7" />
<line x1="324" y1="257.8" x2="324" y2="260.2" stroke="#1a1a1a" stroke-width="0.7" />
<line x1="196.7" y1="257" x2="196.7" y2="261" stroke="#1a1a1a" stroke-width="0.8" />
<text x="196.7" y="269.9" font-size="6.9" text-anchor="middle" fill="#111" >-40</text>
<line x1="228.52" y1="257" x2="228.52" y2="261" stroke="#1a1a1a" stroke-width="0.8" />
<text x="228.52" y="269.9" font-size="6.9" text-anchor="middle" fill="#111" >-20</text>
<line x1="260.35" y1="257" x2="260.35" y2="261" stroke="#1a1a1a" stroke-width="0.8" />
<text x="260.35" y="269.9" font-size="6.9" text-anchor="middle" fill="#111" >0</text>
<line x1="292.18" y1="257" x2="292.18" y2="261" stroke="#1a1a1a" stroke-width="0.8" />
<text x="292.18" y="269.9" font-size="6.9" text-anchor="middle" fill="#111" >20</text>
<line x1="324" y1="257" x2="324" y2="261" stroke="#1a1a1a" stroke-width="0.8" />
<text x="324" y="269.9" font-size="6.9" text-anchor="middle" fill="#111" >40</text>
<line x1="195.5" y1="259" x2="197.9" y2="259" stroke="#1a1a1a" stroke-width="0.7" />
<line x1="195.5" y1="253.53" x2="197.9" y2="253.53" stroke="#1a1a1a" stroke-width="0.7" />
<line x1="195.5" y1="248.05" x2="197.9" y2="248.05" stroke="#1a1a1a" stroke-width="0.7" />
<line x1="195.5" y1="242.57" x2="197.9" y2="242.57" stroke="#1a1a1a" stroke-width="0.7" />
<line x1="195.5" y1="237.1" x2="197.9" y2="237.1" stroke="#1a1a1a" stroke-width="0.7" />
<line x1="195.5" y1="231.62" x2="197.9" y2="231.62" stroke="#1a1a1a" stroke-width="0.7" />
<line x1="195.5" y1="226.15" x2="197.9" y2="226.15" stroke="#1a1a1a" stroke-width="0.7" />
<line x1="195.5" y1="220.68" x2="197.9" y2="220.68" stroke="#1a1a1a" stroke-width="0.7" />
<line x1="195.5" y1="215.2" x2="197.9" y2="215.2" stroke="#1a1a1a" stroke-width="0.7" />
<line x1="195.5" y1="209.72" x2="197.9" y2="209.72" stroke="#1a1a1a" stroke-width="0.7" />
<line x1="195.5" y1="204.25" x2="197.9" y2="204.25" stroke="#1a1a1a" stroke-width="0.7" />
<line x1="195.5" y1="198.78" x2="197.9" y2="198.78" stroke="#1a1a1a" stroke-width="0.7" />
<line x1="195.5" y1="193.3" x2="197.9" y2="193.3" stroke="#1a1a1a" stroke-width="0.7" />
<line x1="195.5" y1="187.82" x2="197.9" y2="187.82" stroke="#1a1a1a" stroke-width="0.7" />
<line x1="195.5" y1="182.35" x2="197.9" y2="182.35" stroke="#1a1a1a" stroke-width="0.7" />
<line x1="195.5" y1="176.88" x2="197.9" y2="176.88" stroke="#1a1a1a" stroke-width="0.7" />
<line x1="195.5" y1="171.4" x2="197.9" y2="171.4" stroke="#1a1a1a" stroke-width="0.7" />
<line x1="195.5" y1="165.93" x2="197.9" y2="165.93" stroke="#1a1a1a" stroke-width="0.7" />
<line x1="195.5" y1="160.45" x2="197.9" y2="160.45" stroke="#1a1a1a" stroke-width="0.7" />
<line x1="195.5" y1="154.98" x2="197.9" y2="154.98" stroke="#1a1a1a" stroke-width="0.7" />
<line x1="195.5" y1="149.5" x2="197.9" y2="149.5" stroke="#1a1a1a" stroke-width="0.7" />
<line x1="194.7" y1="259" x2="198.7" y2="259" stroke="#1a1a1a" stroke-width="0.8" />
<text x="190.6" y="261.3" font-size="6.9" text-anchor="end" fill="#111" >-2</text>
<line x1="194.7" y1="231.62" x2="198.7" y2="231.62" stroke="#1a1a1a" stroke-width="0.8" />
<text x="190.6" y="233.93" font-size="6.9" text-anchor="end" fill="#111" >-1</text>
<line x1="194.7" y1="204.25" x2="198.7" y2="204.25" stroke="#1a1a1a" stroke-width="0.8" />
<text x="190.6" y="206.55" font-size="6.9" text-anchor="end" fill="#111" >0</text>
<line x1="194.7" y1="176.88" x2="198.7" y2="176.88" stroke="#1a1a1a" stroke-width="0.8" />
<text x="190.6" y="179.18" font-size="6.9" text-anchor="end" fill="#111" >1</text>
<line x1="194.7" y1="149.5" x2="198.7" y2="149.5" stroke="#1a1a1a" stroke-width="0.8" />
<text x="190.6" y="151.8" font-size="6.9" text-anchor="end" fill="#111" >2</text>
<line x1="324" y1="259" x2="326" y2="259" stroke="#333" stroke-width="0.9" />
<text x="344.3" y="261.4" font-size="7.2" text-anchor="end" fill="#111" >-200</text>
<line x1="324" y1="245.31" x2="326" y2="245.31" stroke="#333" stroke-width="0.9" />
<text x="344.3" y="247.71" font-size="7.2" text-anchor="end" fill="#111" >-150</text>
<line x1="324" y1="231.62" x2="326" y2="231.62" stroke="#333" stroke-width="0.9" />
<text x="344.3" y="234.03" font-size="7.2" text-anchor="end" fill="#111" >-100</text>
<line x1="324" y1="217.94" x2="326" y2="217.94" stroke="#333" stroke-width="0.9" />
<text x="344.3" y="220.34" font-size="7.2" text-anchor="end" fill="#111" >-50</text>
<line x1="324" y1="204.25" x2="326" y2="204.25" stroke="#333" stroke-width="0.9" />
<text x="344.3" y="206.65" font-size="7.2" text-anchor="end" fill="#111" >0</text>
<line x1="324" y1="190.56" x2="326" y2="190.56" stroke="#333" stroke-width="0.9" />
<text x="344.3" y="192.96" font-size="7.2" text-anchor="end" fill="#111" >50</text>
<line x1="324" y1="176.88" x2="326" y2="176.88" stroke="#333" stroke-width="0.9" />
<text x="344.3" y="179.28" font-size="7.2" text-anchor="end" fill="#111" >100</text>
<line x1="324" y1="163.19" x2="326" y2="163.19" stroke="#333" stroke-width="0.9" />
<text x="344.3" y="165.59" font-size="7.2" text-anchor="end" fill="#111" >150</text>
<line x1="324" y1="149.5" x2="326" y2="149.5" stroke="#333" stroke-width="0.9" />
<text x="344.3" y="151.9" font-size="7.2" text-anchor="end" fill="#111" >200</text>
<line x1="324" y1="149.5" x2="324" y2="259" stroke="#333" stroke-width="1" />
<text x="201.8" y="161.1" font-size="9.5" text-anchor="start" fill="#111" >d)</text>
<text x="235.2" y="160.6" font-size="9.6" text-anchor="start" fill="#111" >μ<tspan font-size="7.2" dy="1.8">r</tspan><tspan font-size="7" dx="-2.4" dy="-5.6">*</tspan></text>
<text x="223.3" y="221.7" font-size="10" text-anchor="start" fill="#111" >-H<tspan font-size="7" dy="1.8">c</tspan></text>
<text x="281" y="221.6" font-size="10" text-anchor="start" fill="#111" >H<tspan font-size="7" dy="1.8">c</tspan></text>
<text x="269.6" y="231.6" font-size="10" text-anchor="start" fill="#111" >H<tspan font-size="7" dy="-4">*</tspan></text>
<line x1="289.6" y1="237.7" x2="305.4" y2="237.7" stroke="#2e2ed0" stroke-width="1.5" />
<line x1="289.6" y1="247.1" x2="305.4" y2="247.1" stroke="#e02626" stroke-width="1.3" />
<text x="309" y="240.2" font-size="7.4" text-anchor="start" fill="#111" >B</text>
<text x="309" y="249.6" font-size="7.4" text-anchor="start" fill="#111" >μ<tspan font-size="4.5" dy="1.2">r</tspan></text>
<text x="260.85" y="279.8" font-size="8.2" text-anchor="middle" fill="#111" >Field Strength, H [Oe]</text>
<text x="181.4" y="204.4" font-size="8.5" text-anchor="middle" fill="#111" transform="rotate(-90 181.4 204.4)">Field Density, B [nWb]</text>
<text x="353.8" y="205.6" font-size="8.14" text-anchor="middle" fill="#111" transform="rotate(-90 353.8 205.6)">Relative Permeability, μ<tspan font-size="5.2" dy="1.3">r</tspan></text>
<line x1="450.9" y1="7.2" x2="450.9" y2="134" stroke="#a4a4a4" stroke-width="1.0" stroke-dasharray="1.2,0.6"/>
<path d="M416,118.4 C418.33,118.38 426,118.35 430,118.3 C434,118.25 437.17,118.18 440,118.1 C442.83,118.02 445.33,117.95 447,117.8 C448.67,117.65 449.28,117.83 450,117.2 C450.72,116.57 450.92,115.87 451.3,114 C451.68,112.13 451.97,108.5 452.3,106 C452.63,103.5 452.88,101.17 453.3,99 C453.72,96.83 454.18,94.75 454.8,93 C455.42,91.25 456.13,90.08 457,88.5 C457.87,86.92 458.83,85.33 460,83.5 C461.17,81.67 462.67,79.17 464,77.5 C465.33,75.83 466.92,74.75 468,73.5 C469.08,72.25 469.67,72.08 470.5,70 C471.33,67.92 472.25,64.17 473,61 C473.75,57.83 474.25,54.67 475,51 C475.75,47.33 476.67,42.83 477.5,39 C478.33,35.17 479.15,31.67 480,28 C480.85,24.33 482.17,18.83 482.6,17" fill="none" stroke="#111" stroke-width="1.1" stroke-linejoin="round" stroke-linecap="round" />
<circle cx="416.9" cy="118.4" r="2.3" fill="none" stroke="#d42020" stroke-width="1"/>
<circle cx="424.6" cy="118.4" r="2.3" fill="none" stroke="#d42020" stroke-width="1"/>
<circle cx="436.6" cy="118.4" r="2.3" fill="none" stroke="#d42020" stroke-width="1"/>
<circle cx="446.9" cy="118.3" r="2.3" fill="none" stroke="#d42020" stroke-width="1"/>
<circle cx="451.2" cy="118.2" r="2.3" fill="none" stroke="#d42020" stroke-width="1"/>
<circle cx="453.1" cy="101.7" r="2.3" fill="none" stroke="#d42020" stroke-width="1"/>
<circle cx="454.5" cy="89.2" r="2.3" fill="none" stroke="#d42020" stroke-width="1"/>
<circle cx="456.5" cy="92.2" r="2.3" fill="none" stroke="#d42020" stroke-width="1"/>
<circle cx="464" cy="77.2" r="2.3" fill="none" stroke="#d42020" stroke-width="1"/>
<circle cx="469.6" cy="73" r="2.3" fill="none" stroke="#d42020" stroke-width="1"/>
<circle cx="474.7" cy="49.4" r="2.3" fill="none" stroke="#d42020" stroke-width="1"/>
<circle cx="480.8" cy="25.1" r="2.3" fill="none" stroke="#d42020" stroke-width="1"/>
<line x1="390.2" y1="7.2" x2="514" y2="7.2" stroke="#888" stroke-width="1.5" />
<line x1="514" y1="7.2" x2="514" y2="118.4" stroke="#888" stroke-width="1.5" />
<line x1="390.2" y1="6.7" x2="390.2" y2="118.9" stroke="#1a1a1a" stroke-width="1" />
<line x1="389.7" y1="118.4" x2="514.5" y2="118.4" stroke="#1a1a1a" stroke-width="1" />
<line x1="390.2" y1="117.2" x2="390.2" y2="119.6" stroke="#1a1a1a" stroke-width="0.7" />
<line x1="398.45" y1="117.2" x2="398.45" y2="119.6" stroke="#1a1a1a" stroke-width="0.7" />
<line x1="406.71" y1="117.2" x2="406.71" y2="119.6" stroke="#1a1a1a" stroke-width="0.7" />
<line x1="414.96" y1="117.2" x2="414.96" y2="119.6" stroke="#1a1a1a" stroke-width="0.7" />
<line x1="423.21" y1="117.2" x2="423.21" y2="119.6" stroke="#1a1a1a" stroke-width="0.7" />
<line x1="431.47" y1="117.2" x2="431.47" y2="119.6" stroke="#1a1a1a" stroke-width="0.7" />
<line x1="439.72" y1="117.2" x2="439.72" y2="119.6" stroke="#1a1a1a" stroke-width="0.7" />
<line x1="447.97" y1="117.2" x2="447.97" y2="119.6" stroke="#1a1a1a" stroke-width="0.7" />
<line x1="456.23" y1="117.2" x2="456.23" y2="119.6" stroke="#1a1a1a" stroke-width="0.7" />
<line x1="464.48" y1="117.2" x2="464.48" y2="119.6" stroke="#1a1a1a" stroke-width="0.7" />
<line x1="472.73" y1="117.2" x2="472.73" y2="119.6" stroke="#1a1a1a" stroke-width="0.7" />
<line x1="480.99" y1="117.2" x2="480.99" y2="119.6" stroke="#1a1a1a" stroke-width="0.7" />
<line x1="489.24" y1="117.2" x2="489.24" y2="119.6" stroke="#1a1a1a" stroke-width="0.7" />
<line x1="497.49" y1="117.2" x2="497.49" y2="119.6" stroke="#1a1a1a" stroke-width="0.7" />
<line x1="505.75" y1="117.2" x2="505.75" y2="119.6" stroke="#1a1a1a" stroke-width="0.7" />
<line x1="514" y1="117.2" x2="514" y2="119.6" stroke="#1a1a1a" stroke-width="0.7" />
<line x1="390.2" y1="116.4" x2="390.2" y2="120.4" stroke="#1a1a1a" stroke-width="0.8" />
<text x="390.2" y="129.6" font-size="6.9" text-anchor="middle" fill="#111" >1</text>
<line x1="431.47" y1="116.4" x2="431.47" y2="120.4" stroke="#1a1a1a" stroke-width="0.8" />
<text x="431.47" y="129.6" font-size="6.9" text-anchor="middle" fill="#111" >1.5</text>
<line x1="472.73" y1="116.4" x2="472.73" y2="120.4" stroke="#1a1a1a" stroke-width="0.8" />
<text x="472.73" y="129.6" font-size="6.9" text-anchor="middle" fill="#111" >2</text>
<line x1="514" y1="116.4" x2="514" y2="120.4" stroke="#1a1a1a" stroke-width="0.8" />
<text x="514" y="129.6" font-size="6.9" text-anchor="middle" fill="#111" >2.5</text>
<line x1="389" y1="118.4" x2="391.4" y2="118.4" stroke="#1a1a1a" stroke-width="0.7" />
<line x1="389" y1="106.04" x2="391.4" y2="106.04" stroke="#1a1a1a" stroke-width="0.7" />
<line x1="389" y1="93.69" x2="391.4" y2="93.69" stroke="#1a1a1a" stroke-width="0.7" />
<line x1="389" y1="81.33" x2="391.4" y2="81.33" stroke="#1a1a1a" stroke-width="0.7" />
<line x1="389" y1="68.98" x2="391.4" y2="68.98" stroke="#1a1a1a" stroke-width="0.7" />
<line x1="389" y1="56.62" x2="391.4" y2="56.62" stroke="#1a1a1a" stroke-width="0.7" />
<line x1="389" y1="44.27" x2="391.4" y2="44.27" stroke="#1a1a1a" stroke-width="0.7" />
<line x1="389" y1="31.91" x2="391.4" y2="31.91" stroke="#1a1a1a" stroke-width="0.7" />
<line x1="389" y1="19.56" x2="391.4" y2="19.56" stroke="#1a1a1a" stroke-width="0.7" />
<line x1="389" y1="7.2" x2="391.4" y2="7.2" stroke="#1a1a1a" stroke-width="0.7" />
<line x1="388.2" y1="118.4" x2="392.2" y2="118.4" stroke="#1a1a1a" stroke-width="0.8" />
<text x="384.6" y="120.7" font-size="6.9" text-anchor="end" fill="#111" >0</text>
<line x1="388.2" y1="106.04" x2="392.2" y2="106.04" stroke="#1a1a1a" stroke-width="0.8" />
<text x="384.6" y="108.34" font-size="6.9" text-anchor="end" fill="#111" >5</text>
<line x1="388.2" y1="93.69" x2="392.2" y2="93.69" stroke="#1a1a1a" stroke-width="0.8" />
<text x="384.6" y="95.99" font-size="6.9" text-anchor="end" fill="#111" >10</text>
<line x1="388.2" y1="81.33" x2="392.2" y2="81.33" stroke="#1a1a1a" stroke-width="0.8" />
<text x="384.6" y="83.63" font-size="6.9" text-anchor="end" fill="#111" >15</text>
<line x1="388.2" y1="68.98" x2="392.2" y2="68.98" stroke="#1a1a1a" stroke-width="0.8" />
<text x="384.6" y="71.28" font-size="6.9" text-anchor="end" fill="#111" >20</text>
<line x1="388.2" y1="56.62" x2="392.2" y2="56.62" stroke="#1a1a1a" stroke-width="0.8" />
<text x="384.6" y="58.92" font-size="6.9" text-anchor="end" fill="#111" >25</text>
<line x1="388.2" y1="44.27" x2="392.2" y2="44.27" stroke="#1a1a1a" stroke-width="0.8" />
<text x="384.6" y="46.57" font-size="6.9" text-anchor="end" fill="#111" >30</text>
<line x1="388.2" y1="31.91" x2="392.2" y2="31.91" stroke="#1a1a1a" stroke-width="0.8" />
<text x="384.6" y="34.21" font-size="6.9" text-anchor="end" fill="#111" >35</text>
<line x1="388.2" y1="19.56" x2="392.2" y2="19.56" stroke="#1a1a1a" stroke-width="0.8" />
<text x="384.6" y="21.86" font-size="6.9" text-anchor="end" fill="#111" >40</text>
<line x1="388.2" y1="7.2" x2="392.2" y2="7.2" stroke="#1a1a1a" stroke-width="0.8" />
<text x="384.6" y="9.5" font-size="6.9" text-anchor="end" fill="#111" >45</text>
<text x="394.1" y="19.1" font-size="9.5" text-anchor="start" fill="#111" >e)</text>
<text x="438.9" y="67.7" font-size="9" text-anchor="middle" fill="#111" >SP</text>
<line x1="427" y1="73.5" x2="450.5" y2="73.5" stroke="#777" stroke-width="1.3" />
<path d="M422.5,73.5 L428.5,70.6 L428.5,76.4 Z" fill="#777"/>
<text x="434.6" y="136.4" font-size="8" text-anchor="start" fill="#111" >d<tspan font-size="5.6" dy="1.6">FeCo</tspan><tspan dy="-1.6"> [nm]</tspan></text>
<text x="372.2" y="64.3" font-size="8.2" text-anchor="middle" fill="#111" transform="rotate(-90 372.2 64.3)">Coercivity, H<tspan font-size="5.2" dy="1.3">c</tspan><tspan dy="-1.3"> [Oe]</tspan></text>
<line x1="450.9" y1="149.5" x2="450.9" y2="261" stroke="#a4a4a4" stroke-width="1.0" stroke-dasharray="1.2,0.6"/>
<circle cx="424.8" cy="242.4" r="2.3" fill="none" stroke="#d42020" stroke-width="1"/>
<circle cx="436.2" cy="232" r="2.3" fill="none" stroke="#d42020" stroke-width="1"/>
<circle cx="447" cy="244.6" r="2.3" fill="none" stroke="#d42020" stroke-width="1"/>
<circle cx="451" cy="238" r="2.3" fill="none" stroke="#d42020" stroke-width="1"/>
<circle cx="452.7" cy="211.7" r="2.3" fill="none" stroke="#d42020" stroke-width="1"/>
<circle cx="454.4" cy="205.8" r="2.3" fill="none" stroke="#d42020" stroke-width="1"/>
<circle cx="456" cy="195" r="2.3" fill="none" stroke="#d42020" stroke-width="1"/>
<circle cx="463.4" cy="179.9" r="2.3" fill="none" stroke="#d42020" stroke-width="1"/>
<circle cx="469" cy="179" r="2.3" fill="none" stroke="#d42020" stroke-width="1"/>
<circle cx="474.9" cy="176.5" r="2.3" fill="none" stroke="#d42020" stroke-width="1"/>
<circle cx="480.8" cy="166.9" r="2.3" fill="none" stroke="#d42020" stroke-width="1"/>
<line x1="390" y1="149.5" x2="514" y2="149.5" stroke="#333" stroke-width="1.3" />
<line x1="514" y1="149.5" x2="514" y2="261" stroke="#888" stroke-width="1.3" />
<line x1="390" y1="149" x2="390" y2="261.5" stroke="#1a1a1a" stroke-width="1" />
<line x1="389.5" y1="261" x2="514.5" y2="261" stroke="#1a1a1a" stroke-width="1" />
<line x1="390" y1="259.8" x2="390" y2="262.2" stroke="#1a1a1a" stroke-width="0.7" />
<line x1="398.27" y1="259.8" x2="398.27" y2="262.2" stroke="#1a1a1a" stroke-width="0.7" />
<line x1="406.53" y1="259.8" x2="406.53" y2="262.2" stroke="#1a1a1a" stroke-width="0.7" />
<line x1="414.8" y1="259.8" x2="414.8" y2="262.2" stroke="#1a1a1a" stroke-width="0.7" />
<line x1="423.07" y1="259.8" x2="423.07" y2="262.2" stroke="#1a1a1a" stroke-width="0.7" />
<line x1="431.33" y1="259.8" x2="431.33" y2="262.2" stroke="#1a1a1a" stroke-width="0.7" />
<line x1="439.6" y1="259.8" x2="439.6" y2="262.2" stroke="#1a1a1a" stroke-width="0.7" />
<line x1="447.87" y1="259.8" x2="447.87" y2="262.2" stroke="#1a1a1a" stroke-width="0.7" />
<line x1="456.13" y1="259.8" x2="456.13" y2="262.2" stroke="#1a1a1a" stroke-width="0.7" />
<line x1="464.4" y1="259.8" x2="464.4" y2="262.2" stroke="#1a1a1a" stroke-width="0.7" />
<line x1="472.67" y1="259.8" x2="472.67" y2="262.2" stroke="#1a1a1a" stroke-width="0.7" />
<line x1="480.93" y1="259.8" x2="480.93" y2="262.2" stroke="#1a1a1a" stroke-width="0.7" />
<line x1="489.2" y1="259.8" x2="489.2" y2="262.2" stroke="#1a1a1a" stroke-width="0.7" />
<line x1="497.47" y1="259.8" x2="497.47" y2="262.2" stroke="#1a1a1a" stroke-width="0.7" />
<line x1="505.73" y1="259.8" x2="505.73" y2="262.2" stroke="#1a1a1a" stroke-width="0.7" />
<line x1="514" y1="259.8" x2="514" y2="262.2" stroke="#1a1a1a" stroke-width="0.7" />
<line x1="390" y1="259" x2="390" y2="263" stroke="#1a1a1a" stroke-width="0.8" />
<text x="390" y="272.2" font-size="6.9" text-anchor="middle" fill="#111" >1</text>
<line x1="431.33" y1="259" x2="431.33" y2="263" stroke="#1a1a1a" stroke-width="0.8" />
<text x="431.33" y="272.2" font-size="6.9" text-anchor="middle" fill="#111" >1.5</text>
<line x1="472.67" y1="259" x2="472.67" y2="263" stroke="#1a1a1a" stroke-width="0.8" />
<text x="472.67" y="272.2" font-size="6.9" text-anchor="middle" fill="#111" >2</text>
<line x1="514" y1="259" x2="514" y2="263" stroke="#1a1a1a" stroke-width="0.8" />
<text x="514" y="272.2" font-size="6.9" text-anchor="middle" fill="#111" >2.5</text>
<line x1="389.2" y1="254.29" x2="390.8" y2="254.29" stroke="#1a1a1a" stroke-width="0.6" />
<line x1="389.2" y1="250.36" x2="390.8" y2="250.36" stroke="#1a1a1a" stroke-width="0.6" />
<line x1="389.2" y1="247.57" x2="390.8" y2="247.57" stroke="#1a1a1a" stroke-width="0.6" />
<line x1="389.2" y1="245.41" x2="390.8" y2="245.41" stroke="#1a1a1a" stroke-width="0.6" />
<line x1="389.2" y1="243.65" x2="390.8" y2="243.65" stroke="#1a1a1a" stroke-width="0.6" />
<line x1="389.2" y1="242.15" x2="390.8" y2="242.15" stroke="#1a1a1a" stroke-width="0.6" />
<line x1="389.2" y1="240.86" x2="390.8" y2="240.86" stroke="#1a1a1a" stroke-width="0.6" />
<line x1="389.2" y1="239.72" x2="390.8" y2="239.72" stroke="#1a1a1a" stroke-width="0.6" />
<line x1="389.2" y1="231.99" x2="390.8" y2="231.99" stroke="#1a1a1a" stroke-width="0.6" />
<line x1="389.2" y1="228.06" x2="390.8" y2="228.06" stroke="#1a1a1a" stroke-width="0.6" />
<line x1="389.2" y1="225.27" x2="390.8" y2="225.27" stroke="#1a1a1a" stroke-width="0.6" />
<line x1="389.2" y1="223.11" x2="390.8" y2="223.11" stroke="#1a1a1a" stroke-width="0.6" />
<line x1="389.2" y1="221.35" x2="390.8" y2="221.35" stroke="#1a1a1a" stroke-width="0.6" />
<line x1="389.2" y1="219.85" x2="390.8" y2="219.85" stroke="#1a1a1a" stroke-width="0.6" />
<line x1="389.2" y1="218.56" x2="390.8" y2="218.56" stroke="#1a1a1a" stroke-width="0.6" />
<line x1="389.2" y1="217.42" x2="390.8" y2="217.42" stroke="#1a1a1a" stroke-width="0.6" />
<line x1="389.2" y1="209.69" x2="390.8" y2="209.69" stroke="#1a1a1a" stroke-width="0.6" />
<line x1="389.2" y1="205.76" x2="390.8" y2="205.76" stroke="#1a1a1a" stroke-width="0.6" />
<line x1="389.2" y1="202.97" x2="390.8" y2="202.97" stroke="#1a1a1a" stroke-width="0.6" />
<line x1="389.2" y1="200.81" x2="390.8" y2="200.81" stroke="#1a1a1a" stroke-width="0.6" />
<line x1="389.2" y1="199.05" x2="390.8" y2="199.05" stroke="#1a1a1a" stroke-width="0.6" />
<line x1="389.2" y1="197.55" x2="390.8" y2="197.55" stroke="#1a1a1a" stroke-width="0.6" />
<line x1="389.2" y1="196.26" x2="390.8" y2="196.26" stroke="#1a1a1a" stroke-width="0.6" />
<line x1="389.2" y1="195.12" x2="390.8" y2="195.12" stroke="#1a1a1a" stroke-width="0.6" />
<line x1="389.2" y1="187.39" x2="390.8" y2="187.39" stroke="#1a1a1a" stroke-width="0.6" />
<line x1="389.2" y1="183.46" x2="390.8" y2="183.46" stroke="#1a1a1a" stroke-width="0.6" />
<line x1="389.2" y1="180.67" x2="390.8" y2="180.67" stroke="#1a1a1a" stroke-width="0.6" />
<line x1="389.2" y1="178.51" x2="390.8" y2="178.51" stroke="#1a1a1a" stroke-width="0.6" />
<line x1="389.2" y1="176.75" x2="390.8" y2="176.75" stroke="#1a1a1a" stroke-width="0.6" />
<line x1="389.2" y1="175.25" x2="390.8" y2="175.25" stroke="#1a1a1a" stroke-width="0.6" />
<line x1="389.2" y1="173.96" x2="390.8" y2="173.96" stroke="#1a1a1a" stroke-width="0.6" />
<line x1="389.2" y1="172.82" x2="390.8" y2="172.82" stroke="#1a1a1a" stroke-width="0.6" />
<line x1="389.2" y1="165.09" x2="390.8" y2="165.09" stroke="#1a1a1a" stroke-width="0.6" />
<line x1="389.2" y1="161.16" x2="390.8" y2="161.16" stroke="#1a1a1a" stroke-width="0.6" />
<line x1="389.2" y1="158.37" x2="390.8" y2="158.37" stroke="#1a1a1a" stroke-width="0.6" />
<line x1="389.2" y1="156.21" x2="390.8" y2="156.21" stroke="#1a1a1a" stroke-width="0.6" />
<line x1="389.2" y1="154.45" x2="390.8" y2="154.45" stroke="#1a1a1a" stroke-width="0.6" />
<line x1="389.2" y1="152.95" x2="390.8" y2="152.95" stroke="#1a1a1a" stroke-width="0.6" />
<line x1="389.2" y1="151.66" x2="390.8" y2="151.66" stroke="#1a1a1a" stroke-width="0.6" />
<line x1="389.2" y1="150.52" x2="390.8" y2="150.52" stroke="#1a1a1a" stroke-width="0.6" />
<line x1="388" y1="261" x2="392" y2="261" stroke="#1a1a1a" stroke-width="0.8" />
<text x="387.6" y="263.6" font-size="7.2" text-anchor="end" fill="#111" >10<tspan font-size="5" dy="-2.8">0</tspan></text>
<line x1="388" y1="238.7" x2="392" y2="238.7" stroke="#1a1a1a" stroke-width="0.8" />
<text x="387.6" y="241.3" font-size="7.2" text-anchor="end" fill="#111" >10<tspan font-size="5" dy="-2.8">1</tspan></text>
<line x1="388" y1="216.4" x2="392" y2="216.4" stroke="#1a1a1a" stroke-width="0.8" />
<text x="387.6" y="219" font-size="7.2" text-anchor="end" fill="#111" >10<tspan font-size="5" dy="-2.8">2</tspan></text>
<line x1="388" y1="194.1" x2="392" y2="194.1" stroke="#1a1a1a" stroke-width="0.8" />
<text x="387.6" y="196.7" font-size="7.2" text-anchor="end" fill="#111" >10<tspan font-size="5" dy="-2.8">3</tspan></text>
<line x1="388" y1="171.8" x2="392" y2="171.8" stroke="#1a1a1a" stroke-width="0.8" />
<text x="387.6" y="174.4" font-size="7.2" text-anchor="end" fill="#111" >10<tspan font-size="5" dy="-2.8">4</tspan></text>
<line x1="388" y1="149.5" x2="392" y2="149.5" stroke="#1a1a1a" stroke-width="0.8" />
<text x="387.6" y="152.1" font-size="7.2" text-anchor="end" fill="#111" >10<tspan font-size="5" dy="-2.8">5</tspan></text>
<text x="396.3" y="161.1" font-size="9.5" text-anchor="start" fill="#111" >f)</text>
<text x="433" y="281.3" font-size="8" text-anchor="start" fill="#111" >d<tspan font-size="5.6" dy="1.6">FeCo</tspan><tspan dy="-1.6"> [nm]</tspan></text>
<text x="370.6" y="205" font-size="8.2" text-anchor="middle" fill="#111" transform="rotate(-90 370.6 205)">Relative Permeability, μ<tspan font-size="5.5" dy="-3">*</tspan></text>
<path d="M96.13,94.4 L96.06,2.98" fill="none" stroke="#d9d9d9" stroke-width="0.7" stroke-linejoin="round" stroke-linecap="round" />
<path d="M38.88,112.08 L96.13,94.4" fill="none" stroke="#d9d9d9" stroke-width="0.7" stroke-linejoin="round" stroke-linecap="round" />
<path d="M135.47,100.57 L135.88,5.86" fill="none" stroke="#d9d9d9" stroke-width="0.7" stroke-linejoin="round" stroke-linecap="round" />
<path d="M79.97,119.59 L135.47,100.57" fill="none" stroke="#d9d9d9" stroke-width="0.7" stroke-linejoin="round" stroke-linecap="round" />
<path d="M77.44,79.7 L156.32,91.2" fill="none" stroke="#d9d9d9" stroke-width="0.7" stroke-linejoin="round" stroke-linecap="round" />
<path d="M19.36,95.64 L77.44,79.7" fill="none" stroke="#d9d9d9" stroke-width="0.7" stroke-linejoin="round" stroke-linecap="round" />
<path d="M77.39,63.29 L156.44,73.59" fill="none" stroke="#d9d9d9" stroke-width="0.7" stroke-linejoin="round" stroke-linecap="round" />
<path d="M19.17,77.67 L77.39,63.29" fill="none" stroke="#d9d9d9" stroke-width="0.7" stroke-linejoin="round" stroke-linecap="round" />
<path d="M77.28,30.25 L156.7,38.13" fill="none" stroke="#d9d9d9" stroke-width="0.7" stroke-linejoin="round" stroke-linecap="round" />
<path d="M18.78,41.47 L77.28,30.25" fill="none" stroke="#d9d9d9" stroke-width="0.7" stroke-linejoin="round" stroke-linecap="round" />
<path d="M77.23,13.63 L156.82,20.28" fill="none" stroke="#d9d9d9" stroke-width="0.7" stroke-linejoin="round" stroke-linecap="round" />
<path d="M18.58,23.24 L77.23,13.63" fill="none" stroke="#d9d9d9" stroke-width="0.7" stroke-linejoin="round" stroke-linecap="round" />
<path d="M42.09,101.88 L41.35,6.77" fill="none" stroke="#d9d9d9" stroke-width="0.7" stroke-linejoin="round" stroke-linecap="round" />
<path d="M42.09,101.88 L123.09,115.85" fill="none" stroke="#d9d9d9" stroke-width="0.7" stroke-linejoin="round" stroke-linecap="round" />
<path d="M18.98,59.61 L101.77,70.73" fill="none" stroke="#333" stroke-width="0.8" stroke-linejoin="round" stroke-linecap="round" stroke-dasharray="2.2,1.6"/>
<path d="M101.77,70.73 L156.57,55.9" fill="none" stroke="#333" stroke-width="0.8" stroke-linejoin="round" stroke-linecap="round" stroke-dasharray="2.2,1.6"/>
<path d="M156.57,55.9 L77.33,46.8" fill="none" stroke="#333" stroke-width="0.8" stroke-linejoin="round" stroke-linecap="round" stroke-dasharray="2.2,1.6"/>
<path d="M77.33,46.8 L18.98,59.61" fill="none" stroke="#333" stroke-width="0.8" stroke-linejoin="round" stroke-linecap="round" stroke-dasharray="2.2,1.6"/>
<path d="M59.02,115.76 L115.45,97.43" fill="none" stroke="#333" stroke-width="0.8" stroke-linejoin="round" stroke-linecap="round" stroke-dasharray="1,1"/>
<path d="M58.45,13.46 L115.61,4.39" fill="none" stroke="#333" stroke-width="0.8" stroke-linejoin="round" stroke-linecap="round" stroke-dasharray="1,1"/>
<path d="M59.02,115.76 L58.45,13.46" fill="none" stroke="#444" stroke-width="0.8" stroke-linejoin="round" stroke-linecap="round" stroke-dasharray="1,1"/>
<path d="M115.45,97.43 L115.61,4.39" fill="none" stroke="#444" stroke-width="0.8" stroke-linejoin="round" stroke-linecap="round" stroke-dasharray="1,1"/>
<path d="M77.48,91.47 L156.23,103.82" fill="none" stroke="#1a1a1a" stroke-width="1.15" stroke-linejoin="round" stroke-linecap="round" />
<path d="M77.48,91.47 L19.5,108.53" fill="none" stroke="#1a1a1a" stroke-width="1.15" stroke-linejoin="round" stroke-linecap="round" />
<path d="M77.48,91.47 L77.19,1.61" fill="none" stroke="#1a1a1a" stroke-width="1.15" stroke-linejoin="round" stroke-linecap="round" />
<path d="M77.19,1.61 L156.91,7.38" fill="none" stroke="#1a1a1a" stroke-width="1.15" stroke-linejoin="round" stroke-linecap="round" />
<path d="M77.19,1.61 L18.44,10.06" fill="none" stroke="#1a1a1a" stroke-width="1.15" stroke-linejoin="round" stroke-linecap="round" />
<path d="M25.82,64.03 L26.6,64.02 L27.38,64.01 L28.16,64 L28.95,63.99 L29.73,63.98 L30.52,63.97 L31.31,63.96 L32.1,63.95 L32.89,63.94 L33.68,63.93 L34.47,63.92 L35.27,63.91 L36.06,63.9 L36.86,63.89 L37.66,63.88 L38.46,63.87 L39.26,63.86 L40.06,63.85 L40.86,63.84 L41.67,63.83 L42.47,63.82 L43.28,63.81 L44.09,63.8 L44.9,63.79 L45.71,63.78 L46.52,63.77 L47.33,63.76 L48.15,63.75 L48.96,63.74 L49.78,63.73 L50.6,63.72 L51.42,63.71 L52.24,63.7 L53.06,63.69 L53.89,63.68 L54.71,63.67 L55.54,63.66 L56.37,63.65 L57.2,63.64 L57.24,63.63 L57.28,63.63 L57.32,63.63 L57.36,63.63 L57.4,63.63 L57.44,63.63 L57.48,63.63 L57.52,63.63 L57.56,63.63 L57.6,63.63 L57.64,63.63 L57.68,63.63 L57.73,63.63 L57.77,63.63 L57.81,63.63 L57.85,63.63 L57.89,63.63 L57.93,63.63 L57.97,63.63 L58.01,63.63 L58.05,63.62 L58.09,63.62 L58.13,63.62 L58.17,63.62 L58.21,63.62 L58.25,63.62 L58.29,63.62 L58.33,63.62 L58.37,63.62 L58.41,63.62 L58.46,63.62 L58.5,63.62 L58.54,63.62 L58.58,63.62 L58.62,63.62 L58.66,63.62 L58.7,63.62 L58.74,63.62 L58.78,63.62 L58.82,63.61 L58.86,63.61 L58.9,63.61 L58.94,63.61 L58.98,63.61 L59.02,63.61 L59.06,63.61 L59.1,63.61 L59.15,63.61 L59.19,63.61 L59.23,63.61 L59.27,63.61 L59.31,63.61 L59.35,63.61 L59.39,63.61 L59.43,63.61 L59.47,63.61 L59.51,63.61 L59.55,63.61 L59.59,63.61 L59.63,63.6 L59.67,63.6 L59.71,63.6 L59.76,63.6 L59.8,63.6 L59.84,63.6 L59.88,63.6 L59.92,63.6 L59.96,63.6 L60,63.6 L60.04,63.6 L60.08,63.6 L60.12,63.6 L60.16,63.6 L60.2,63.6 L60.24,63.6 L60.28,63.6 L60.32,63.6 L60.37,63.6 L60.41,63.59 L60.45,63.59 L60.49,63.59 L60.53,63.59 L60.57,63.59 L60.61,63.59 L60.65,63.59 L60.69,63.59 L60.73,63.59 L60.77,63.59 L60.81,63.59 L60.85,63.59 L60.9,63.59 L60.94,63.59 L60.98,63.59 L61.02,63.59 L61.06,63.59 L61.1,63.59 L61.14,63.59 L61.18,63.59 L61.22,63.58 L61.26,63.58 L61.3,63.58 L61.34,63.58 L61.38,63.58 L61.43,63.58 L61.47,63.58 L61.51,63.58 L61.55,63.58 L61.59,63.58 L61.63,63.58 L61.67,63.58 L61.71,63.58 L61.75,63.58 L61.79,63.58 L61.83,63.58 L61.87,63.58 L61.92,63.58 L61.96,63.58 L62,63.57 L62.04,63.57 L62.08,63.57 L62.12,63.57 L62.16,63.57 L62.2,63.57 L62.24,63.57 L62.28,63.57 L62.32,63.57 L62.36,63.57 L62.41,63.57 L62.45,63.57 L62.49,63.57 L62.53,63.57 L62.57,63.57 L62.61,63.57 L62.65,63.57 L62.69,63.57 L62.73,63.57 L62.77,63.57 L62.81,63.56 L62.86,63.56 L62.9,63.56 L62.94,63.56 L62.98,63.56 L63.02,63.56 L63.06,63.56 L63.1,63.56 L63.14,63.56 L63.18,63.56 L63.22,63.56 L63.26,63.56 L63.31,63.56 L63.35,63.56 L63.39,63.56 L63.43,63.56 L63.47,63.56 L63.51,63.56 L63.55,63.56 L63.59,63.55 L63.63,63.55 L63.67,63.55 L63.72,63.55 L63.76,63.55 L63.8,63.55 L63.84,63.55 L63.88,63.55 L63.92,63.55 L63.96,63.55 L64,63.55 L64.04,63.55 L64.08,63.55 L64.13,63.55 L64.17,63.55 L64.21,63.55 L64.25,63.55 L64.29,63.55 L64.33,63.55 L64.37,63.54 L64.41,63.54 L64.45,63.54 L64.49,63.54 L64.54,63.54 L64.58,63.54 L64.62,63.54 L64.66,63.54 L64.7,63.54 L64.74,63.54 L64.78,63.54 L64.82,63.54 L64.86,63.54 L64.91,63.54 L64.95,63.54 L64.99,63.54 L65.03,63.54 L65.07,63.54 L65.11,63.54 L65.15,63.53 L65.19,63.53 L65.23,63.53 L65.28,63.53 L65.32,63.53 L65.36,63.53 L65.4,63.53 L65.44,63.53 L65.48,63.53 L65.52,63.53 L65.56,63.53 L65.6,63.53 L65.65,63.53 L65.69,63.53 L65.73,63.53 L65.77,63.53 L65.81,63.53 L65.85,63.53 L65.89,63.53 L65.93,63.53 L65.97,63.52 L66.02,63.52 L66.06,63.52 L66.1,63.52 L66.14,63.52 L66.18,63.52 L66.22,63.52 L66.26,63.52 L66.3,63.52 L66.35,63.52 L66.39,63.52 L66.43,63.52 L66.47,63.52 L66.51,63.52 L66.55,63.52 L66.59,63.52 L66.63,63.52 L66.68,63.52 L66.72,63.52 L66.76,63.51 L66.8,63.51 L66.84,63.51 L66.88,63.51 L66.92,63.51 L66.96,63.51 L67.01,63.51 L67.05,63.51 L67.09,63.51 L67.13,63.51 L67.17,63.51 L67.21,63.51 L67.25,63.51 L67.29,63.51 L67.34,63.51 L67.38,63.51 L67.42,63.51 L67.46,63.51 L67.5,63.51 L67.54,63.5 L67.58,63.5 L67.62,63.5 L67.67,63.5 L67.71,63.5 L67.75,63.5 L67.79,63.5 L67.83,63.5 L67.87,63.5 L67.91,63.5 L67.95,63.5 L68,63.5 L68.04,63.5 L68.08,63.5 L68.12,63.5 L68.16,63.5 L68.2,63.5 L68.24,63.5 L68.29,63.5 L68.33,63.49 L68.37,63.49 L68.41,63.49 L68.45,63.49 L68.49,63.49 L68.53,63.49 L68.58,63.49 L68.62,63.49 L68.66,63.49 L68.7,63.49 L68.74,63.49 L68.78,63.49 L68.82,63.49 L68.86,63.49 L68.91,63.49 L68.95,63.49 L68.99,63.49 L69.03,63.49 L69.07,63.49 L69.11,63.48 L69.15,63.48 L69.2,63.48 L69.24,63.48 L69.28,63.48 L69.32,63.48 L69.36,63.48 L69.4,63.48 L69.44,63.48 L69.49,63.48 L69.53,63.48 L69.57,63.48 L69.61,63.48 L69.65,63.48 L69.69,63.48 L69.73,63.48 L69.78,63.48 L69.82,63.48 L69.86,63.48 L69.9,63.47 L69.94,63.47 L69.98,63.47 L70.03,63.47 L70.07,63.47 L70.11,63.47 L70.15,63.47 L70.19,63.47 L70.23,63.47 L70.27,63.47 L70.32,63.47 L70.36,63.47 L70.4,63.47 L70.44,63.47 L70.48,63.47 L70.52,63.47 L70.56,63.47 L70.61,63.47 L70.65,63.47 L70.69,63.46 L70.73,63.46 L70.77,63.46 L70.81,63.46 L70.86,63.46 L70.9,63.46 L70.94,63.46 L70.98,63.46 L71.02,63.46 L71.06,63.46 L71.11,63.46 L71.15,63.46 L71.19,63.46 L71.23,63.46 L71.27,63.46 L71.31,63.46 L71.35,63.46 L71.4,63.46 L71.44,63.46 L71.48,63.46 L71.52,63.45 L71.56,63.45 L71.6,63.45 L71.65,63.45 L71.69,63.45 L71.73,63.45 L71.77,63.45 L71.81,63.45 L71.85,63.45 L71.9,63.45 L71.94,63.45 L71.98,63.45 L72.02,63.45 L72.06,63.45 L72.1,63.45 L72.15,63.45 L72.19,63.45 L72.23,63.45 L72.27,63.45 L72.31,63.44 L72.35,63.44 L72.4,63.44 L72.44,63.44 L72.48,63.44 L72.52,63.44 L72.56,63.44 L72.6,63.44 L72.65,63.44 L72.69,63.44 L72.73,63.44 L72.77,63.44 L72.81,63.44 L72.85,63.44 L72.9,63.44 L72.94,63.44 L72.98,63.44 L73.02,63.44 L73.06,63.44 L73.1,63.43 L73.15,63.43 L73.19,63.43 L73.23,63.43 L73.27,63.43 L73.31,63.43 L73.36,63.43 L73.4,63.43 L73.44,63.43 L73.48,63.43 L73.52,63.43 L73.56,63.43 L73.61,63.43 L73.65,63.43 L74.51,63.42 L75.36,63.41 L76.23,63.4 L77.09,63.38 L77.95,63.37 L78.82,63.36 L79.68,63.35 L80.55,63.34 L81.42,63.33 L82.29,63.32 L83.16,63.31 L84.04,63.3 L84.91,63.29 L85.79,63.27 L86.67,63.26 L87.55,63.25 L88.43,63.24 L89.31,63.23 L90.19,63.22 L91.08,63.21 L91.96,63.2 L92.85,63.18 L93.74,63.17 L94.63,63.16 L95.53,63.15 L96.42,63.14 L97.32,63.13 L98.21,63.12 L99.11,63.11 L100.01,63.09 L100.92,63.08 L101.82,63.07 L102.72,63.06 L103.63,63.05 L104.54,63.04 L105.45,63.03 L106.36,63.01 L107.27,63 L108.19,62.99" fill="none" stroke="#2424c8" stroke-width="1.8" stroke-linejoin="round" stroke-linecap="round" />
<path d="M32.51,75.44 L33.29,75.44 L34.07,75.44 L34.84,75.43 L35.62,75.43 L36.41,75.42 L37.19,75.41 L37.97,75.39 L38.76,75.38 L39.54,75.36 L40.33,75.34 L41.12,75.31 L41.91,75.28 L42.7,75.24 L43.49,75.2 L44.29,75.15 L45.08,75.09 L45.88,75.03 L46.67,74.95 L47.47,74.87 L48.27,74.78 L49.07,74.67 L49.87,74.55 L50.68,74.42 L51.48,74.27 L52.29,74.1 L53.09,73.92 L53.9,73.71 L54.71,73.48 L55.52,73.23 L56.33,72.95 L57.14,72.64 L57.96,72.31 L58.77,71.94 L59.59,71.54 L60.41,71.1 L61.23,70.63 L62.05,70.13 L62.87,69.58 L63.69,69 L63.73,68.97 L63.77,68.94 L63.81,68.91 L63.85,68.88 L63.89,68.85 L63.93,68.82 L63.97,68.79 L64.01,68.76 L64.05,68.73 L64.09,68.7 L64.13,68.67 L64.17,68.64 L64.21,68.61 L64.25,68.58 L64.29,68.55 L64.33,68.52 L64.37,68.49 L64.41,68.46 L64.45,68.43 L64.49,68.4 L64.53,68.37 L64.57,68.34 L64.61,68.31 L64.65,68.28 L64.69,68.24 L64.73,68.21 L64.77,68.18 L64.81,68.15 L64.85,68.12 L64.89,68.09 L64.93,68.05 L64.97,68.02 L65.01,67.99 L65.05,67.96 L65.1,67.93 L65.14,67.89 L65.18,67.86 L65.22,67.83 L65.26,67.8 L65.3,67.77 L65.34,67.73 L65.38,67.7 L65.42,67.67 L65.46,67.63 L65.5,67.6 L65.54,67.57 L65.58,67.54 L65.62,67.5 L65.66,67.47 L65.7,67.44 L65.74,67.4 L65.78,67.37 L65.82,67.34 L65.86,67.3 L65.9,67.27 L65.94,67.23 L65.98,67.2 L66.02,67.17 L66.06,67.13 L66.1,67.1 L66.14,67.07 L66.18,67.03 L66.22,67 L66.26,66.96 L66.3,66.93 L66.34,66.89 L66.38,66.86 L66.42,66.82 L66.46,66.79 L66.51,66.75 L66.55,66.72 L66.59,66.68 L66.63,66.65 L66.67,66.61 L66.71,66.58 L66.75,66.54 L66.79,66.51 L66.83,66.47 L66.87,66.44 L66.91,66.4 L66.95,66.37 L66.99,66.33 L67.03,66.3 L67.07,66.26 L67.11,66.22 L67.15,66.19 L67.19,66.15 L67.23,66.12 L67.27,66.08 L67.31,66.04 L67.35,66.01 L67.39,65.97 L67.43,65.94 L67.47,65.9 L67.51,65.86 L67.56,65.83 L67.6,65.79 L67.64,65.75 L67.68,65.72 L67.72,65.68 L67.76,65.64 L67.8,65.61 L67.84,65.57 L67.88,65.53 L67.92,65.5 L67.96,65.46 L68,65.42 L68.04,65.38 L68.08,65.35 L68.12,65.31 L68.16,65.27 L68.2,65.23 L68.24,65.2 L68.28,65.16 L68.32,65.12 L68.36,65.08 L68.4,65.05 L68.45,65.01 L68.49,64.97 L68.53,64.93 L68.57,64.9 L68.61,64.86 L68.65,64.82 L68.69,64.78 L68.73,64.74 L68.77,64.71 L68.81,64.67 L68.85,64.63 L68.89,64.59 L68.93,64.55 L68.97,64.51 L69.01,64.48 L69.05,64.44 L69.09,64.4 L69.13,64.36 L69.17,64.32 L69.22,64.28 L69.26,64.24 L69.3,64.21 L69.34,64.17 L69.38,64.13 L69.42,64.09 L69.46,64.05 L69.5,64.01 L69.54,63.97 L69.58,63.93 L69.62,63.89 L69.66,63.86 L69.7,63.82 L69.74,63.78 L69.78,63.74 L69.82,63.7 L69.86,63.66 L69.91,63.62 L69.95,63.58 L69.99,63.54 L70.03,63.5 L70.07,63.46 L70.11,63.42 L70.15,63.38 L70.19,63.34 L70.23,63.31 L70.27,63.27 L70.31,63.23 L70.35,63.19 L70.39,63.15 L70.43,63.11 L70.47,63.07 L70.52,63.03 L70.56,62.99 L70.6,62.95 L70.64,62.91 L70.68,62.87 L70.72,62.83 L70.76,62.79 L70.8,62.75 L70.84,62.71 L70.88,62.67 L70.92,62.63 L70.96,62.59 L71,62.55 L71.04,62.51 L71.08,62.47 L71.13,62.43 L71.17,62.39 L71.21,62.35 L71.25,62.31 L71.29,62.27 L71.33,62.23 L71.37,62.19 L71.41,62.15 L71.45,62.11 L71.49,62.07 L71.53,62.03 L71.57,61.99 L71.61,61.95 L71.66,61.91 L71.7,61.87 L71.74,61.83 L71.78,61.79 L71.82,61.75 L71.86,61.71 L71.9,61.67 L71.94,61.63 L71.98,61.59 L72.02,61.55 L72.06,61.51 L72.1,61.47 L72.14,61.43 L72.19,61.39 L72.23,61.35 L72.27,61.31 L72.31,61.27 L72.35,61.23 L72.39,61.19 L72.43,61.15 L72.47,61.11 L72.51,61.07 L72.55,61.03 L72.59,60.99 L72.64,60.95 L72.68,60.91 L72.72,60.87 L72.76,60.83 L72.8,60.79 L72.84,60.75 L72.88,60.71 L72.92,60.67 L72.96,60.63 L73,60.59 L73.04,60.55 L73.08,60.51 L73.13,60.47 L73.17,60.43 L73.21,60.39 L73.25,60.35 L73.29,60.31 L73.33,60.27 L73.37,60.23 L73.41,60.19 L73.45,60.15 L73.49,60.11 L73.53,60.07 L73.58,60.03 L73.62,59.99 L73.66,59.95 L73.7,59.91 L73.74,59.87 L73.78,59.83 L73.82,59.79 L73.86,59.76 L73.9,59.72 L73.94,59.68 L73.99,59.64 L74.03,59.6 L74.07,59.56 L74.11,59.52 L74.15,59.48 L74.19,59.44 L74.23,59.4 L74.27,59.36 L74.31,59.32 L74.35,59.28 L74.4,59.25 L74.44,59.21 L74.48,59.17 L74.52,59.13 L74.56,59.09 L74.6,59.05 L74.64,59.01 L74.68,58.97 L74.72,58.93 L74.77,58.9 L74.81,58.86 L74.85,58.82 L74.89,58.78 L74.93,58.74 L74.97,58.7 L75.01,58.66 L75.05,58.63 L75.09,58.59 L75.13,58.55 L75.18,58.51 L75.22,58.47 L75.26,58.43 L75.3,58.4 L75.34,58.36 L75.38,58.32 L75.42,58.28 L75.46,58.24 L75.5,58.21 L75.55,58.17 L75.59,58.13 L75.63,58.09 L75.67,58.05 L75.71,58.02 L75.75,57.98 L75.79,57.94 L75.83,57.9 L75.87,57.87 L75.92,57.83 L75.96,57.79 L76,57.75 L76.04,57.72 L76.08,57.68 L76.12,57.64 L76.16,57.61 L76.2,57.57 L76.25,57.53 L76.29,57.49 L76.33,57.46 L76.37,57.42 L76.41,57.38 L76.45,57.35 L76.49,57.31 L76.53,57.27 L76.58,57.24 L76.62,57.2 L76.66,57.16 L76.7,57.13 L76.74,57.09 L76.78,57.06 L76.82,57.02 L76.86,56.98 L76.91,56.95 L76.95,56.91 L76.99,56.88 L77.03,56.84 L77.07,56.8 L77.11,56.77 L77.15,56.73 L77.19,56.7 L77.24,56.66 L77.28,56.63 L77.32,56.59 L77.36,56.56 L77.4,56.52 L77.44,56.49 L77.48,56.45 L77.52,56.42 L77.57,56.38 L77.61,56.35 L77.65,56.31 L77.69,56.28 L77.73,56.24 L77.77,56.21 L77.81,56.17 L77.86,56.14 L77.9,56.1 L77.94,56.07 L77.98,56.04 L78.02,56 L78.06,55.97 L78.1,55.93 L78.14,55.9 L78.19,55.87 L78.23,55.83 L78.27,55.8 L78.31,55.76 L78.35,55.73 L78.39,55.7 L78.43,55.66 L78.48,55.63 L78.52,55.6 L78.56,55.56 L78.6,55.53 L78.64,55.5 L78.68,55.46 L78.72,55.43 L78.77,55.4 L78.81,55.37 L78.85,55.33 L78.89,55.3 L78.93,55.27 L78.97,55.24 L79.01,55.2 L79.06,55.17 L79.1,55.14 L79.14,55.11 L79.18,55.08 L79.22,55.04 L79.26,55.01 L79.3,54.98 L79.35,54.95 L79.39,54.92 L79.43,54.88 L79.47,54.85 L79.51,54.82 L79.55,54.79 L79.6,54.76 L79.64,54.73 L79.68,54.7 L79.72,54.67 L79.76,54.64 L79.8,54.6 L79.84,54.57 L79.89,54.54 L79.93,54.51 L79.97,54.48 L80.01,54.45 L80.86,53.85 L81.72,53.28 L82.57,52.74 L83.43,52.24 L84.29,51.78 L85.15,51.35 L86.02,50.95 L86.88,50.59 L87.75,50.25 L88.61,49.94 L89.48,49.66 L90.35,49.4 L91.23,49.17 L92.1,48.95 L92.97,48.76 L93.85,48.58 L94.73,48.42 L95.61,48.27 L96.49,48.14 L97.37,48.02 L98.26,47.91 L99.14,47.81 L100.03,47.72 L100.92,47.63 L101.81,47.56 L102.7,47.49 L103.59,47.43 L104.49,47.37 L105.38,47.32 L106.28,47.27 L107.18,47.22 L108.08,47.18 L108.98,47.14 L109.89,47.11 L110.79,47.08 L111.7,47.05 L112.61,47.02 L113.51,46.99 L114.43,46.97" fill="none" stroke="#e02020" stroke-width="1.4" stroke-linejoin="round" stroke-linecap="round" />
<path d="M43.8,76.41 L44.57,76.44 L45.35,76.47 L46.12,76.49 L46.9,76.52 L47.67,76.54 L48.45,76.56 L49.23,76.57 L50.01,76.58 L50.79,76.59 L51.57,76.6 L52.35,76.6 L53.14,76.59 L53.92,76.58 L54.71,76.56 L55.5,76.53 L56.29,76.5 L57.08,76.45 L57.87,76.4 L58.66,76.33 L59.45,76.25 L60.25,76.15 L61.04,76.04 L61.84,75.91 L62.64,75.75 L63.44,75.58 L64.24,75.38 L65.04,75.15 L65.85,74.89 L66.65,74.59 L67.45,74.26 L68.26,73.89 L69.07,73.48 L69.88,73.02 L70.69,72.52 L71.5,71.96 L72.31,71.35 L73.12,70.68 L73.94,69.96 L74.75,69.18 L74.79,69.14 L74.83,69.1 L74.87,69.07 L74.91,69.03 L74.95,68.99 L74.99,68.95 L75.03,68.9 L75.07,68.86 L75.11,68.82 L75.15,68.78 L75.19,68.74 L75.23,68.7 L75.27,68.66 L75.31,68.62 L75.35,68.58 L75.39,68.54 L75.43,68.5 L75.47,68.45 L75.51,68.41 L75.55,68.37 L75.59,68.33 L75.63,68.29 L75.67,68.24 L75.71,68.2 L75.75,68.16 L75.79,68.12 L75.83,68.07 L75.87,68.03 L75.91,67.99 L75.95,67.94 L75.99,67.9 L76.03,67.86 L76.07,67.81 L76.11,67.77 L76.15,67.72 L76.19,67.68 L76.23,67.64 L76.27,67.59 L76.31,67.55 L76.35,67.5 L76.39,67.46 L76.43,67.41 L76.47,67.37 L76.51,67.32 L76.55,67.28 L76.59,67.23 L76.63,67.19 L76.67,67.14 L76.71,67.1 L76.75,67.05 L76.79,67 L76.83,66.96 L76.87,66.91 L76.91,66.87 L76.95,66.82 L76.99,66.77 L77.03,66.73 L77.07,66.68 L77.11,66.63 L77.15,66.59 L77.19,66.54 L77.23,66.49 L77.27,66.44 L77.31,66.4 L77.35,66.35 L77.39,66.3 L77.43,66.25 L77.47,66.21 L77.51,66.16 L77.55,66.11 L77.59,66.06 L77.63,66.01 L77.67,65.96 L77.71,65.92 L77.75,65.87 L77.79,65.82 L77.83,65.77 L77.87,65.72 L77.91,65.67 L77.95,65.62 L77.99,65.57 L78.03,65.52 L78.07,65.47 L78.11,65.42 L78.15,65.37 L78.19,65.32 L78.23,65.27 L78.27,65.22 L78.31,65.17 L78.35,65.12 L78.39,65.07 L78.43,65.02 L78.47,64.97 L78.51,64.92 L78.55,64.87 L78.59,64.82 L78.63,64.77 L78.67,64.72 L78.71,64.66 L78.75,64.61 L78.79,64.56 L78.83,64.51 L78.87,64.46 L78.91,64.41 L78.95,64.35 L78.99,64.3 L79.03,64.25 L79.07,64.2 L79.11,64.15 L79.15,64.09 L79.19,64.04 L79.23,63.99 L79.27,63.94 L79.31,63.88 L79.35,63.83 L79.39,63.78 L79.43,63.73 L79.47,63.67 L79.51,63.62 L79.55,63.57 L79.59,63.51 L79.64,63.46 L79.68,63.41 L79.72,63.35 L79.76,63.3 L79.8,63.25 L79.84,63.19 L79.88,63.14 L79.92,63.08 L79.96,63.03 L80,62.98 L80.04,62.92 L80.08,62.87 L80.12,62.81 L80.16,62.76 L80.2,62.7 L80.24,62.65 L80.28,62.6 L80.32,62.54 L80.36,62.49 L80.4,62.43 L80.44,62.38 L80.48,62.32 L80.52,62.27 L80.56,62.21 L80.6,62.16 L80.64,62.1 L80.68,62.05 L80.72,61.99 L80.76,61.94 L80.8,61.88 L80.84,61.83 L80.88,61.77 L80.92,61.72 L80.96,61.66 L81,61.6 L81.04,61.55 L81.08,61.49 L81.12,61.44 L81.17,61.38 L81.21,61.33 L81.25,61.27 L81.29,61.21 L81.33,61.16 L81.37,61.1 L81.41,61.05 L81.45,60.99 L81.49,60.93 L81.53,60.88 L81.57,60.82 L81.61,60.77 L81.65,60.71 L81.69,60.65 L81.73,60.6 L81.77,60.54 L81.81,60.48 L81.85,60.43 L81.89,60.37 L81.93,60.31 L81.97,60.26 L82.01,60.2 L82.05,60.15 L82.09,60.09 L82.13,60.03 L82.17,59.98 L82.22,59.92 L82.26,59.86 L82.3,59.81 L82.34,59.75 L82.38,59.69 L82.42,59.64 L82.46,59.58 L82.5,59.52 L82.54,59.47 L82.58,59.41 L82.62,59.35 L82.66,59.29 L82.7,59.24 L82.74,59.18 L82.78,59.12 L82.82,59.07 L82.86,59.01 L82.9,58.95 L82.94,58.9 L82.98,58.84 L83.02,58.78 L83.06,58.73 L83.11,58.67 L83.15,58.61 L83.19,58.56 L83.23,58.5 L83.27,58.44 L83.31,58.39 L83.35,58.33 L83.39,58.27 L83.43,58.22 L83.47,58.16 L83.51,58.1 L83.55,58.05 L83.59,57.99 L83.63,57.93 L83.67,57.88 L83.71,57.82 L83.75,57.76 L83.79,57.71 L83.84,57.65 L83.88,57.59 L83.92,57.54 L83.96,57.48 L84,57.42 L84.04,57.37 L84.08,57.31 L84.12,57.25 L84.16,57.2 L84.2,57.14 L84.24,57.08 L84.28,57.03 L84.32,56.97 L84.36,56.92 L84.4,56.86 L84.44,56.8 L84.49,56.75 L84.53,56.69 L84.57,56.63 L84.61,56.58 L84.65,56.52 L84.69,56.47 L84.73,56.41 L84.77,56.35 L84.81,56.3 L84.85,56.24 L84.89,56.19 L84.93,56.13 L84.97,56.08 L85.01,56.02 L85.05,55.97 L85.1,55.91 L85.14,55.85 L85.18,55.8 L85.22,55.74 L85.26,55.69 L85.3,55.63 L85.34,55.58 L85.38,55.52 L85.42,55.47 L85.46,55.41 L85.5,55.36 L85.54,55.3 L85.58,55.25 L85.62,55.19 L85.67,55.14 L85.71,55.08 L85.75,55.03 L85.79,54.98 L85.83,54.92 L85.87,54.87 L85.91,54.81 L85.95,54.76 L85.99,54.7 L86.03,54.65 L86.07,54.6 L86.11,54.54 L86.15,54.49 L86.2,54.43 L86.24,54.38 L86.28,54.33 L86.32,54.27 L86.36,54.22 L86.4,54.17 L86.44,54.11 L86.48,54.06 L86.52,54.01 L86.56,53.95 L86.6,53.9 L86.64,53.85 L86.69,53.8 L86.73,53.74 L86.77,53.69 L86.81,53.64 L86.85,53.59 L86.89,53.53 L86.93,53.48 L86.97,53.43 L87.01,53.38 L87.05,53.32 L87.09,53.27 L87.13,53.22 L87.18,53.17 L87.22,53.12 L87.26,53.07 L87.3,53.01 L87.34,52.96 L87.38,52.91 L87.42,52.86 L87.46,52.81 L87.5,52.76 L87.54,52.71 L87.58,52.66 L87.63,52.61 L87.67,52.56 L87.71,52.51 L87.75,52.45 L87.79,52.4 L87.83,52.35 L87.87,52.3 L87.91,52.25 L87.95,52.2 L87.99,52.16 L88.04,52.11 L88.08,52.06 L88.12,52.01 L88.16,51.96 L88.2,51.91 L88.24,51.86 L88.28,51.81 L88.32,51.76 L88.36,51.71 L88.4,51.66 L88.45,51.62 L88.49,51.57 L88.53,51.52 L88.57,51.47 L88.61,51.42 L88.65,51.37 L88.69,51.33 L88.73,51.28 L88.77,51.23 L88.81,51.18 L88.86,51.14 L88.9,51.09 L88.94,51.04 L88.98,50.99 L89.02,50.95 L89.06,50.9 L89.1,50.85 L89.14,50.81 L89.18,50.76 L89.23,50.71 L89.27,50.67 L89.31,50.62 L89.35,50.58 L89.39,50.53 L89.43,50.48 L89.47,50.44 L89.51,50.39 L89.55,50.35 L89.6,50.3 L89.64,50.26 L89.68,50.21 L89.72,50.17 L89.76,50.12 L89.8,50.08 L89.84,50.03 L89.88,49.99 L89.92,49.95 L89.97,49.9 L90.01,49.86 L90.05,49.81 L90.09,49.77 L90.13,49.73 L90.17,49.68 L90.21,49.64 L90.25,49.6 L90.3,49.55 L90.34,49.51 L90.38,49.47 L90.42,49.42 L90.46,49.38 L90.5,49.34 L90.54,49.3 L90.58,49.26 L90.62,49.21 L90.67,49.17 L90.71,49.13 L90.75,49.09 L90.79,49.05 L90.83,49 L90.87,48.96 L90.91,48.92 L90.95,48.88 L91.8,48.07 L92.65,47.31 L93.5,46.61 L94.35,45.96 L95.21,45.37 L96.06,44.82 L96.92,44.32 L97.78,43.87 L98.64,43.47 L99.5,43.1 L100.36,42.77 L101.22,42.47 L102.09,42.2 L102.95,41.96 L103.82,41.75 L104.69,41.56 L105.56,41.4 L106.44,41.25 L107.31,41.12 L108.19,41 L109.06,40.9 L109.94,40.82 L110.82,40.74 L111.7,40.67 L112.59,40.61 L113.47,40.57 L114.36,40.52 L115.24,40.49 L116.13,40.46 L117.02,40.43 L117.91,40.41 L118.81,40.39 L119.7,40.38 L120.6,40.37 L121.49,40.36 L122.39,40.36 L123.29,40.35 L124.19,40.35 L125.1,40.35" fill="none" stroke="#22cc22" stroke-width="1.4" stroke-linejoin="round" stroke-linecap="round" />
<path d="M51.44,80.33 L52.21,80.41 L52.97,80.49 L53.74,80.57 L54.52,80.64 L55.29,80.71 L56.06,80.78 L56.84,80.85 L57.61,80.92 L58.39,80.98 L59.17,81.04 L59.94,81.1 L60.72,81.16 L61.51,81.22 L62.29,81.28 L63.07,81.34 L63.86,81.39 L64.64,81.44 L65.43,81.49 L66.22,81.54 L67.01,81.58 L67.8,81.62 L68.59,81.65 L69.38,81.68 L70.18,81.71 L70.97,81.72 L71.77,81.73 L72.57,81.74 L73.37,81.73 L74.17,81.71 L74.97,81.66 L75.77,81.6 L76.58,81.52 L77.38,81.42 L78.19,81.29 L79,81.13 L79.8,80.94 L80.61,80.68 L81.43,80.33 L82.24,79.88 L82.28,79.85 L82.32,79.83 L82.36,79.8 L82.4,79.78 L82.44,79.75 L82.47,79.72 L82.51,79.7 L82.55,79.67 L82.59,79.64 L82.63,79.62 L82.67,79.59 L82.71,79.56 L82.75,79.53 L82.79,79.51 L82.83,79.48 L82.87,79.45 L82.91,79.42 L82.95,79.39 L82.99,79.36 L83.03,79.33 L83.07,79.3 L83.11,79.27 L83.15,79.24 L83.19,79.21 L83.23,79.18 L83.27,79.14 L83.31,79.11 L83.35,79.08 L83.39,79.05 L83.43,79.01 L83.47,78.98 L83.51,78.95 L83.55,78.91 L83.59,78.88 L83.63,78.84 L83.66,78.81 L83.7,78.77 L83.74,78.74 L83.78,78.7 L83.82,78.67 L83.86,78.63 L83.9,78.59 L83.94,78.55 L83.98,78.51 L84.02,78.47 L84.06,78.43 L84.1,78.38 L84.14,78.34 L84.18,78.29 L84.22,78.24 L84.26,78.19 L84.3,78.14 L84.34,78.09 L84.38,78.03 L84.42,77.98 L84.46,77.92 L84.5,77.87 L84.54,77.81 L84.58,77.75 L84.62,77.69 L84.66,77.63 L84.7,77.56 L84.74,77.5 L84.78,77.44 L84.82,77.37 L84.86,77.3 L84.9,77.24 L84.94,77.17 L84.98,77.1 L85.02,77.03 L85.06,76.96 L85.09,76.89 L85.13,76.81 L85.17,76.74 L85.21,76.66 L85.25,76.59 L85.29,76.51 L85.33,76.43 L85.37,76.35 L85.41,76.28 L85.45,76.2 L85.49,76.12 L85.53,76.03 L85.57,75.95 L85.61,75.87 L85.65,75.79 L85.69,75.7 L85.73,75.62 L85.77,75.53 L85.81,75.44 L85.85,75.36 L85.89,75.27 L85.93,75.18 L85.97,75.09 L86.01,75 L86.05,74.91 L86.09,74.82 L86.13,74.73 L86.17,74.64 L86.21,74.55 L86.25,74.46 L86.29,74.36 L86.33,74.27 L86.37,74.18 L86.41,74.08 L86.45,73.99 L86.49,73.89 L86.53,73.79 L86.57,73.69 L86.61,73.58 L86.65,73.48 L86.69,73.37 L86.73,73.26 L86.77,73.14 L86.81,73.03 L86.85,72.91 L86.89,72.79 L86.93,72.67 L86.97,72.55 L87.01,72.43 L87.04,72.3 L87.08,72.17 L87.12,72.05 L87.16,71.92 L87.2,71.78 L87.24,71.65 L87.28,71.52 L87.32,71.38 L87.36,71.24 L87.4,71.1 L87.44,70.96 L87.48,70.82 L87.52,70.68 L87.56,70.54 L87.6,70.39 L87.64,70.24 L87.68,70.1 L87.72,69.95 L87.76,69.8 L87.8,69.65 L87.84,69.5 L87.88,69.35 L87.92,69.2 L87.96,69.05 L88,68.89 L88.04,68.74 L88.08,68.58 L88.12,68.43 L88.16,68.27 L88.2,68.12 L88.24,67.96 L88.28,67.79 L88.32,67.63 L88.36,67.45 L88.4,67.28 L88.44,67.09 L88.48,66.91 L88.52,66.72 L88.56,66.53 L88.6,66.34 L88.64,66.15 L88.68,65.95 L88.72,65.76 L88.76,65.56 L88.8,65.36 L88.84,65.16 L88.88,64.97 L88.92,64.77 L88.96,64.57 L89,64.38 L89.04,64.18 L89.08,63.99 L89.12,63.8 L89.16,63.62 L89.2,63.44 L89.24,63.26 L89.28,63.08 L89.32,62.91 L89.36,62.74 L89.4,62.58 L89.44,62.42 L89.48,62.26 L89.52,62.1 L89.56,61.94 L89.6,61.78 L89.64,61.62 L89.68,61.46 L89.72,61.3 L89.76,61.14 L89.8,60.98 L89.84,60.82 L89.88,60.66 L89.92,60.5 L89.96,60.34 L90,60.19 L90.04,60.03 L90.08,59.87 L90.12,59.72 L90.16,59.57 L90.2,59.41 L90.24,59.26 L90.28,59.11 L90.32,58.96 L90.36,58.82 L90.4,58.67 L90.44,58.52 L90.48,58.38 L90.52,58.24 L90.56,58.1 L90.6,57.96 L90.64,57.83 L90.68,57.69 L90.72,57.56 L90.76,57.43 L90.8,57.3 L90.84,57.18 L90.88,57.05 L90.92,56.93 L90.97,56.81 L91.01,56.7 L91.05,56.58 L91.09,56.47 L91.13,56.36 L91.17,56.26 L91.21,56.16 L91.25,56.06 L91.29,55.96 L91.33,55.87 L91.37,55.78 L91.41,55.69 L91.45,55.6 L91.49,55.52 L91.53,55.44 L91.57,55.36 L91.61,55.28 L91.65,55.2 L91.69,55.13 L91.73,55.06 L91.77,54.98 L91.81,54.91 L91.85,54.84 L91.89,54.77 L91.93,54.7 L91.97,54.64 L92.02,54.57 L92.06,54.51 L92.1,54.44 L92.14,54.38 L92.18,54.32 L92.22,54.26 L92.26,54.2 L92.3,54.14 L92.34,54.08 L92.38,54.03 L92.42,53.97 L92.46,53.91 L92.5,53.86 L92.54,53.8 L92.58,53.75 L92.62,53.7 L92.66,53.64 L92.7,53.59 L92.74,53.54 L92.78,53.49 L92.83,53.43 L92.87,53.38 L92.91,53.33 L92.95,53.28 L92.99,53.23 L93.03,53.18 L93.07,53.13 L93.11,53.08 L93.15,53.03 L93.19,52.98 L93.23,52.93 L93.27,52.88 L93.31,52.83 L93.35,52.78 L93.39,52.73 L93.43,52.68 L93.47,52.63 L93.52,52.57 L93.56,52.52 L93.6,52.47 L93.64,52.42 L93.68,52.36 L93.72,52.31 L93.76,52.26 L93.8,52.2 L93.84,52.15 L93.88,52.09 L93.92,52.03 L93.96,51.97 L94,51.92 L94.04,51.86 L94.08,51.8 L94.13,51.74 L94.17,51.67 L94.21,51.61 L94.25,51.55 L94.29,51.48 L94.33,51.42 L94.37,51.36 L94.41,51.29 L94.45,51.23 L94.49,51.17 L94.53,51.1 L94.57,51.04 L94.61,50.98 L94.65,50.91 L94.69,50.85 L94.74,50.79 L94.78,50.72 L94.82,50.66 L94.86,50.6 L94.9,50.54 L94.94,50.47 L94.98,50.41 L95.02,50.35 L95.06,50.28 L95.1,50.22 L95.14,50.16 L95.18,50.09 L95.22,50.03 L95.27,49.96 L95.31,49.9 L95.35,49.83 L95.39,49.77 L95.43,49.7 L95.47,49.63 L95.51,49.57 L95.55,49.5 L95.59,49.43 L95.63,49.36 L95.67,49.29 L95.71,49.23 L95.75,49.16 L95.8,49.08 L95.84,49.01 L95.88,48.94 L95.92,48.87 L95.96,48.8 L96,48.72 L96.04,48.65 L96.08,48.57 L96.12,48.5 L96.16,48.42 L96.2,48.34 L96.24,48.26 L96.29,48.18 L96.33,48.1 L96.37,48.02 L96.41,47.94 L96.45,47.86 L96.49,47.77 L96.53,47.69 L96.57,47.6 L96.61,47.51 L96.65,47.42 L96.69,47.33 L96.74,47.24 L96.78,47.15 L96.82,47.05 L96.86,46.95 L96.9,46.84 L96.94,46.73 L96.98,46.62 L97.02,46.51 L97.06,46.39 L97.1,46.28 L97.14,46.16 L97.19,46.03 L97.23,45.91 L97.27,45.78 L97.31,45.66 L97.35,45.53 L97.39,45.4 L97.43,45.26 L97.47,45.13 L97.51,45 L97.55,44.86 L97.59,44.73 L97.64,44.59 L97.68,44.46 L97.72,44.32 L97.76,44.18 L97.8,44.05 L97.84,43.91 L97.88,43.78 L97.92,43.64 L97.96,43.51 L98,43.37 L98.05,43.24 L98.09,43.11 L98.13,42.97 L98.17,42.85 L98.21,42.72 L98.25,42.59 L98.29,42.46 L98.33,42.34 L99.18,40.26 L100.02,38.53 L100.87,37.09 L101.72,35.98 L102.57,34.97 L103.42,34.11 L104.27,33.47 L105.12,33.13 L105.98,32.92 L106.84,32.74 L107.7,32.59 L108.56,32.47 L109.42,32.38 L110.28,32.3 L111.14,32.25 L112.01,32.21 L112.88,32.18 L113.74,32.16 L114.61,32.15 L115.48,32.15 L116.36,32.15 L117.23,32.14 L118.1,32.14 L118.98,32.15 L119.86,32.15 L120.74,32.16 L121.62,32.17 L122.5,32.19 L123.38,32.21 L124.27,32.23 L125.16,32.26 L126.04,32.29 L126.93,32.33 L127.82,32.38 L128.72,32.43 L129.61,32.49 L130.5,32.56 L131.4,32.63 L132.3,32.71" fill="none" stroke="#30d8f0" stroke-width="1.4" stroke-linejoin="round" stroke-linecap="round" />
<path d="M54.88,79.42 L55.65,79.53 L56.41,79.64 L57.18,79.74 L57.95,79.83 L58.72,79.92 L59.49,80 L60.27,80.08 L61.04,80.16 L61.81,80.23 L62.59,80.29 L63.37,80.35 L64.15,80.41 L64.93,80.46 L65.71,80.51 L66.49,80.55 L67.27,80.6 L68.06,80.63 L68.84,80.67 L69.63,80.7 L70.42,80.73 L71.2,80.76 L71.99,80.78 L72.79,80.81 L73.58,80.83 L74.37,80.85 L75.17,80.86 L75.96,80.87 L76.76,80.87 L77.56,80.85 L78.36,80.81 L79.16,80.76 L79.96,80.69 L80.76,80.6 L81.57,80.49 L82.37,80.36 L83.18,80.21 L83.99,80.04 L84.8,79.84 L85.61,79.62 L85.65,79.6 L85.69,79.59 L85.73,79.58 L85.77,79.57 L85.81,79.56 L85.85,79.55 L85.89,79.53 L85.93,79.52 L85.97,79.51 L86.01,79.5 L86.04,79.49 L86.08,79.47 L86.12,79.46 L86.16,79.45 L86.2,79.44 L86.24,79.42 L86.28,79.41 L86.32,79.4 L86.36,79.38 L86.4,79.37 L86.44,79.36 L86.48,79.34 L86.52,79.33 L86.56,79.32 L86.6,79.3 L86.64,79.29 L86.68,79.28 L86.72,79.26 L86.76,79.25 L86.8,79.23 L86.84,79.22 L86.88,79.2 L86.92,79.19 L86.96,79.17 L87,79.16 L87.03,79.14 L87.07,79.12 L87.11,79.11 L87.15,79.09 L87.19,79.07 L87.23,79.06 L87.27,79.04 L87.31,79.02 L87.35,79 L87.39,78.99 L87.43,78.97 L87.47,78.95 L87.51,78.93 L87.55,78.91 L87.59,78.89 L87.63,78.87 L87.67,78.85 L87.71,78.83 L87.75,78.81 L87.79,78.79 L87.83,78.77 L87.87,78.75 L87.91,78.73 L87.95,78.7 L87.99,78.68 L88.03,78.66 L88.07,78.63 L88.11,78.61 L88.15,78.59 L88.19,78.56 L88.23,78.54 L88.27,78.51 L88.31,78.49 L88.34,78.46 L88.38,78.43 L88.42,78.41 L88.46,78.38 L88.5,78.35 L88.54,78.33 L88.58,78.3 L88.62,78.27 L88.66,78.24 L88.7,78.21 L88.74,78.18 L88.78,78.15 L88.82,78.12 L88.86,78.09 L88.9,78.06 L88.94,78.02 L88.98,77.99 L89.02,77.96 L89.06,77.92 L89.1,77.89 L89.14,77.85 L89.18,77.82 L89.22,77.78 L89.26,77.75 L89.3,77.71 L89.34,77.67 L89.38,77.64 L89.42,77.6 L89.46,77.56 L89.5,77.52 L89.54,77.48 L89.58,77.44 L89.62,77.4 L89.66,77.36 L89.7,77.31 L89.74,77.27 L89.78,77.23 L89.82,77.18 L89.86,77.14 L89.9,77.1 L89.94,77.05 L89.98,77 L90.02,76.96 L90.06,76.91 L90.1,76.86 L90.14,76.81 L90.18,76.76 L90.22,76.71 L90.26,76.66 L90.29,76.61 L90.33,76.56 L90.37,76.51 L90.41,76.45 L90.45,76.4 L90.49,76.35 L90.53,76.29 L90.57,76.23 L90.61,76.18 L90.65,76.12 L90.69,76.06 L90.73,76 L90.77,75.94 L90.81,75.88 L90.85,75.82 L90.89,75.76 L90.93,75.7 L90.97,75.64 L91.01,75.57 L91.05,75.51 L91.09,75.44 L91.13,75.38 L91.17,75.31 L91.21,75.24 L91.25,75.16 L91.29,75.07 L91.33,74.98 L91.37,74.87 L91.41,74.76 L91.45,74.64 L91.49,74.52 L91.53,74.38 L91.57,74.24 L91.61,74.1 L91.65,73.94 L91.69,73.78 L91.73,73.61 L91.77,73.44 L91.81,73.26 L91.85,73.07 L91.89,72.88 L91.93,72.68 L91.97,72.47 L92.01,72.26 L92.05,72.05 L92.09,71.83 L92.13,71.6 L92.17,71.37 L92.21,71.13 L92.25,70.89 L92.29,70.64 L92.33,70.39 L92.37,70.13 L92.41,69.87 L92.45,69.61 L92.49,69.34 L92.53,69.07 L92.57,68.79 L92.61,68.5 L92.65,68.17 L92.69,67.8 L92.73,67.41 L92.77,67 L92.81,66.55 L92.84,66.09 L92.88,65.61 L92.92,65.1 L92.96,64.58 L93,64.05 L93.04,63.51 L93.08,62.96 L93.12,62.4 L93.16,61.84 L93.2,61.28 L93.24,60.72 L93.28,60.16 L93.32,59.6 L93.36,59.06 L93.4,58.52 L93.44,57.99 L93.48,57.48 L93.52,56.99 L93.56,56.51 L93.6,56.04 L93.64,55.56 L93.68,55.07 L93.72,54.58 L93.76,54.07 L93.8,53.57 L93.84,53.06 L93.88,52.54 L93.92,52.03 L93.96,51.52 L94,51 L94.04,50.49 L94.08,49.99 L94.12,49.49 L94.16,49 L94.2,48.51 L94.24,48.04 L94.28,47.57 L94.32,47.12 L94.36,46.68 L94.4,46.26 L94.44,45.85 L94.48,45.45 L94.52,45.08 L94.56,44.73 L94.6,44.4 L94.64,44.09 L94.68,43.8 L94.72,43.54 L94.76,43.3 L94.8,43.08 L94.84,42.87 L94.88,42.65 L94.92,42.45 L94.96,42.24 L95,42.04 L95.04,41.84 L95.08,41.65 L95.12,41.45 L95.16,41.27 L95.2,41.08 L95.24,40.9 L95.28,40.72 L95.32,40.55 L95.36,40.38 L95.4,40.21 L95.44,40.05 L95.48,39.89 L95.52,39.73 L95.56,39.57 L95.6,39.42 L95.64,39.27 L95.68,39.13 L95.72,38.99 L95.76,38.85 L95.81,38.72 L95.85,38.58 L95.89,38.45 L95.93,38.33 L95.97,38.21 L96.01,38.09 L96.05,37.97 L96.09,37.86 L96.13,37.75 L96.17,37.64 L96.21,37.53 L96.25,37.43 L96.29,37.33 L96.33,37.24 L96.37,37.14 L96.41,37.05 L96.45,36.97 L96.49,36.88 L96.53,36.8 L96.58,36.72 L96.62,36.65 L96.66,36.57 L96.7,36.5 L96.74,36.43 L96.78,36.37 L96.82,36.3 L96.86,36.24 L96.9,36.18 L96.94,36.12 L96.98,36.06 L97.02,36 L97.06,35.94 L97.1,35.88 L97.14,35.82 L97.18,35.76 L97.22,35.7 L97.27,35.65 L97.31,35.59 L97.35,35.54 L97.39,35.48 L97.43,35.43 L97.47,35.37 L97.51,35.32 L97.55,35.27 L97.59,35.22 L97.63,35.16 L97.67,35.11 L97.71,35.06 L97.75,35.01 L97.79,34.96 L97.84,34.92 L97.88,34.87 L97.92,34.82 L97.96,34.77 L98,34.73 L98.04,34.68 L98.08,34.64 L98.12,34.59 L98.16,34.55 L98.2,34.5 L98.24,34.46 L98.28,34.42 L98.32,34.38 L98.36,34.34 L98.41,34.29 L98.45,34.25 L98.49,34.21 L98.53,34.18 L98.57,34.14 L98.61,34.1 L98.65,34.06 L98.69,34.02 L98.73,33.99 L98.77,33.95 L98.81,33.91 L98.85,33.88 L98.89,33.84 L98.94,33.81 L98.98,33.77 L99.02,33.74 L99.06,33.71 L99.1,33.68 L99.14,33.64 L99.18,33.61 L99.22,33.58 L99.26,33.55 L99.3,33.52 L99.34,33.49 L99.38,33.46 L99.43,33.43 L99.47,33.4 L99.51,33.37 L99.55,33.35 L99.59,33.32 L99.63,33.29 L99.67,33.26 L99.71,33.24 L99.75,33.21 L99.79,33.19 L99.83,33.16 L99.88,33.14 L99.92,33.11 L99.96,33.09 L100,33.07 L100.04,33.04 L100.08,33.02 L100.12,33 L100.16,32.98 L100.2,32.95 L100.24,32.93 L100.28,32.91 L100.33,32.89 L100.37,32.87 L100.41,32.85 L100.45,32.83 L100.49,32.81 L100.53,32.79 L100.57,32.77 L100.61,32.76 L100.65,32.74 L100.69,32.72 L100.73,32.7 L100.78,32.69 L100.82,32.67 L100.86,32.65 L100.9,32.64 L100.94,32.62 L100.98,32.6 L101.02,32.59 L101.06,32.57 L101.1,32.56 L101.14,32.54 L101.19,32.53 L101.23,32.51 L101.27,32.5 L101.31,32.48 L101.35,32.46 L101.39,32.45 L101.43,32.43 L101.47,32.42 L101.51,32.41 L101.55,32.39 L101.6,32.38 L101.64,32.36 L101.68,32.35 L102.52,32.07 L103.36,31.83 L104.21,31.62 L105.06,31.44 L105.9,31.28 L106.75,31.15 L107.6,31.04 L108.46,30.95 L109.31,30.88 L110.16,30.82 L111.02,30.76 L111.88,30.71 L112.74,30.66 L113.6,30.6 L114.46,30.56 L115.32,30.51 L116.19,30.47 L117.05,30.43 L117.92,30.39 L118.79,30.35 L119.66,30.32 L120.53,30.3 L121.4,30.28 L122.28,30.26 L123.15,30.25 L124.03,30.24 L124.91,30.24 L125.79,30.24 L126.67,30.25 L127.55,30.26 L128.43,30.29 L129.32,30.31 L130.21,30.35 L131.09,30.39 L131.98,30.44 L132.87,30.49 L133.77,30.56 L134.66,30.63 L135.56,30.71" fill="none" stroke="#ee44dd" stroke-width="1.4" stroke-linejoin="round" stroke-linecap="round" />
<path d="M57.22,89.99 L57.98,90.11 L58.75,90.22 L59.51,90.33 L60.28,90.42 L61.05,90.52 L61.82,90.6 L62.59,90.68 L63.36,90.75 L64.13,90.82 L64.91,90.88 L65.68,90.94 L66.46,90.99 L67.23,91.03 L68.01,91.07 L68.79,91.1 L69.57,91.13 L70.36,91.15 L71.14,91.17 L71.92,91.18 L72.71,91.18 L73.49,91.19 L74.28,91.18 L75.07,91.17 L75.86,91.16 L76.65,91.14 L77.44,91.12 L78.24,91.09 L79.03,91.06 L79.83,91.03 L80.63,90.98 L81.42,90.87 L82.22,90.72 L83.02,90.51 L83.83,90.26 L84.63,89.95 L85.43,89.6 L86.24,89.19 L87.04,88.74 L87.85,88.24 L87.89,88.21 L87.93,88.18 L87.97,88.15 L88.01,88.13 L88.05,88.09 L88.09,88.06 L88.13,88.03 L88.17,88 L88.21,87.96 L88.25,87.93 L88.29,87.89 L88.33,87.85 L88.36,87.81 L88.4,87.77 L88.44,87.73 L88.48,87.69 L88.52,87.65 L88.56,87.61 L88.6,87.57 L88.64,87.52 L88.68,87.48 L88.72,87.43 L88.76,87.38 L88.8,87.34 L88.84,87.29 L88.88,87.24 L88.92,87.19 L88.96,87.14 L89,87.09 L89.04,87.04 L89.07,86.99 L89.11,86.94 L89.15,86.88 L89.19,86.83 L89.23,86.78 L89.27,86.72 L89.31,86.67 L89.35,86.61 L89.39,86.56 L89.43,86.5 L89.47,86.44 L89.51,86.39 L89.55,86.33 L89.59,86.27 L89.63,86.22 L89.67,86.16 L89.71,86.1 L89.75,86.04 L89.79,85.98 L89.83,85.92 L89.86,85.86 L89.9,85.8 L89.94,85.74 L89.98,85.68 L90.02,85.62 L90.06,85.56 L90.1,85.5 L90.14,85.44 L90.18,85.38 L90.22,85.32 L90.26,85.26 L90.3,85.2 L90.34,85.14 L90.38,85.08 L90.42,85.02 L90.46,84.96 L90.5,84.9 L90.54,84.84 L90.58,84.78 L90.62,84.72 L90.66,84.66 L90.7,84.6 L90.74,84.54 L90.77,84.49 L90.81,84.43 L90.85,84.37 L90.89,84.31 L90.93,84.25 L90.97,84.19 L91.01,84.14 L91.05,84.08 L91.09,84.02 L91.13,83.97 L91.17,83.91 L91.21,83.86 L91.25,83.8 L91.29,83.75 L91.33,83.69 L91.37,83.64 L91.41,83.59 L91.45,83.54 L91.49,83.49 L91.53,83.44 L91.57,83.39 L91.61,83.34 L91.65,83.29 L91.69,83.25 L91.73,83.2 L91.77,83.15 L91.81,83.1 L91.85,83.06 L91.89,83.01 L91.93,82.96 L91.96,82.92 L92,82.87 L92.04,82.82 L92.08,82.78 L92.12,82.73 L92.16,82.68 L92.2,82.64 L92.24,82.59 L92.28,82.54 L92.32,82.49 L92.36,82.45 L92.4,82.4 L92.44,82.35 L92.48,82.3 L92.52,82.25 L92.56,82.2 L92.6,82.14 L92.64,82.09 L92.68,82.04 L92.72,81.98 L92.76,81.93 L92.8,81.87 L92.84,81.82 L92.88,81.76 L92.92,81.7 L92.96,81.64 L93,81.58 L93.04,81.51 L93.08,81.45 L93.12,81.39 L93.16,81.32 L93.2,81.25 L93.24,81.18 L93.28,81.11 L93.32,81.04 L93.36,80.96 L93.4,80.89 L93.44,80.81 L93.48,80.73 L93.52,80.65 L93.56,80.57 L93.6,80.48 L93.64,80.4 L93.68,80.31 L93.72,80.22 L93.76,80.12 L93.8,80.03 L93.84,79.93 L93.88,79.83 L93.91,79.72 L93.95,79.62 L93.99,79.5 L94.03,79.39 L94.07,79.27 L94.11,79.14 L94.15,79.01 L94.19,78.88 L94.23,78.74 L94.27,78.59 L94.31,78.44 L94.35,78.29 L94.39,78.13 L94.43,77.96 L94.47,77.79 L94.51,77.61 L94.55,77.43 L94.59,77.24 L94.63,77.04 L94.67,76.84 L94.71,76.63 L94.75,76.41 L94.79,76.19 L94.83,75.96 L94.87,75.72 L94.91,75.48 L94.95,75.23 L94.99,74.97 L95.03,74.7 L95.07,74.42 L95.11,74.14 L95.15,73.85 L95.19,73.55 L95.23,73.21 L95.27,72.83 L95.31,72.4 L95.35,71.92 L95.39,71.4 L95.43,70.84 L95.47,70.25 L95.51,69.61 L95.55,68.95 L95.59,68.25 L95.63,67.53 L95.67,66.78 L95.7,66.01 L95.74,65.22 L95.78,64.41 L95.82,63.59 L95.86,62.76 L95.9,61.92 L95.94,61.08 L95.98,60.23 L96.02,59.38 L96.06,58.53 L96.1,57.69 L96.14,56.85 L96.18,56.02 L96.22,55.17 L96.26,54.24 L96.3,53.26 L96.34,52.22 L96.38,51.15 L96.42,50.05 L96.46,48.92 L96.5,47.78 L96.54,46.64 L96.58,45.5 L96.61,44.39 L96.65,43.29 L96.69,42.23 L96.73,41.22 L96.77,40.26 L96.81,39.36 L96.85,38.53 L96.89,37.79 L96.93,37.14 L96.97,36.59 L97.01,36.09 L97.05,35.61 L97.09,35.13 L97.13,34.66 L97.17,34.2 L97.21,33.75 L97.25,33.3 L97.29,32.87 L97.33,32.44 L97.37,32.02 L97.41,31.62 L97.45,31.22 L97.5,30.83 L97.54,30.45 L97.58,30.07 L97.62,29.71 L97.66,29.36 L97.7,29.02 L97.74,28.69 L97.78,28.37 L97.82,28.05 L97.86,27.75 L97.9,27.46 L97.94,27.18 L97.98,26.91 L98.02,26.65 L98.06,26.41 L98.1,26.17 L98.14,25.95 L98.18,25.73 L98.22,25.53 L98.26,25.34 L98.3,25.16 L98.34,25 L98.38,24.84 L98.42,24.7 L98.46,24.57 L98.51,24.45 L98.55,24.35 L98.59,24.25 L98.63,24.17 L98.67,24.08 L98.71,24 L98.75,23.92 L98.79,23.83 L98.83,23.75 L98.87,23.67 L98.91,23.59 L98.95,23.52 L98.99,23.44 L99.03,23.36 L99.07,23.29 L99.11,23.21 L99.15,23.14 L99.2,23.07 L99.24,22.99 L99.28,22.92 L99.32,22.85 L99.36,22.78 L99.4,22.71 L99.44,22.65 L99.48,22.58 L99.52,22.51 L99.56,22.45 L99.6,22.39 L99.64,22.32 L99.68,22.26 L99.72,22.2 L99.76,22.14 L99.81,22.08 L99.85,22.02 L99.89,21.96 L99.93,21.9 L99.97,21.85 L100.01,21.79 L100.05,21.74 L100.09,21.68 L100.13,21.63 L100.17,21.58 L100.21,21.52 L100.25,21.47 L100.29,21.42 L100.33,21.37 L100.38,21.32 L100.42,21.28 L100.46,21.23 L100.5,21.18 L100.54,21.14 L100.58,21.09 L100.62,21.05 L100.66,21.01 L100.7,20.96 L100.74,20.92 L100.78,20.88 L100.82,20.84 L100.86,20.8 L100.91,20.76 L100.95,20.72 L100.99,20.69 L101.03,20.65 L101.07,20.61 L101.11,20.58 L101.15,20.54 L101.19,20.51 L101.23,20.48 L101.27,20.44 L101.31,20.41 L101.35,20.38 L101.4,20.35 L101.44,20.32 L101.48,20.29 L101.52,20.26 L101.56,20.23 L101.6,20.21 L101.64,20.18 L101.68,20.16 L101.72,20.13 L101.76,20.11 L101.8,20.08 L101.84,20.06 L101.89,20.04 L101.93,20.01 L101.97,19.99 L102.01,19.97 L102.05,19.95 L102.09,19.93 L102.13,19.91 L102.17,19.89 L102.21,19.88 L102.25,19.86 L102.29,19.84 L102.34,19.83 L102.38,19.81 L102.42,19.8 L102.46,19.78 L102.5,19.77 L102.54,19.76 L102.58,19.74 L102.62,19.73 L102.66,19.72 L102.7,19.71 L102.74,19.7 L102.79,19.69 L102.83,19.68 L102.87,19.67 L102.91,19.66 L102.95,19.65 L102.99,19.65 L103.03,19.64 L103.07,19.63 L103.11,19.63 L103.15,19.62 L103.2,19.62 L103.24,19.61 L103.28,19.6 L103.32,19.6 L103.36,19.59 L103.4,19.59 L103.44,19.58 L103.48,19.58 L103.52,19.57 L103.56,19.57 L103.61,19.56 L103.65,19.55 L103.69,19.55 L103.73,19.54 L103.77,19.54 L103.81,19.53 L103.85,19.53 L103.89,19.52 L104.73,19.43 L105.58,19.35 L106.42,19.29 L107.27,19.25 L108.12,19.22 L108.97,19.2 L109.82,19.19 L110.67,19.18 L111.52,19.19 L112.38,19.2 L113.23,19.21 L114.09,19.23 L114.95,19.25 L115.81,19.27 L116.67,19.28 L117.53,19.29 L118.39,19.3 L119.26,19.3 L120.13,19.29 L120.99,19.28 L121.86,19.27 L122.73,19.26 L123.61,19.25 L124.48,19.24 L125.36,19.23 L126.23,19.22 L127.11,19.21 L127.99,19.2 L128.87,19.19 L129.75,19.18 L130.63,19.17 L131.52,19.17 L132.41,19.16 L133.29,19.15 L134.18,19.15 L135.07,19.14 L135.97,19.14 L136.86,19.13 L137.75,19.13" fill="none" stroke="#f0f020" stroke-width="2.0" stroke-linejoin="round" stroke-linecap="round" />
<path d="M60.03,88.69 L60.79,88.81 L61.56,88.93 L62.32,89.04 L63.09,89.15 L63.85,89.26 L64.62,89.37 L65.39,89.47 L66.16,89.57 L66.93,89.67 L67.71,89.76 L68.48,89.86 L69.25,89.95 L70.03,90.03 L70.81,90.12 L71.58,90.2 L72.36,90.27 L73.14,90.35 L73.93,90.42 L74.71,90.49 L75.49,90.55 L76.28,90.62 L77.06,90.68 L77.85,90.73 L78.64,90.78 L79.43,90.83 L80.22,90.88 L81.01,90.92 L81.81,90.96 L82.6,90.99 L83.4,91.02 L84.19,91.05 L84.99,91.08 L85.79,91.06 L86.59,90.93 L87.39,90.69 L88.2,90.36 L89,89.95 L89.8,89.46 L90.61,88.91 L90.65,88.88 L90.69,88.86 L90.73,88.83 L90.77,88.8 L90.81,88.77 L90.85,88.74 L90.89,88.71 L90.92,88.68 L90.96,88.65 L91,88.62 L91.04,88.59 L91.08,88.56 L91.12,88.53 L91.16,88.5 L91.2,88.48 L91.24,88.45 L91.28,88.41 L91.32,88.38 L91.36,88.35 L91.4,88.32 L91.44,88.29 L91.48,88.26 L91.52,88.23 L91.55,88.2 L91.59,88.17 L91.63,88.14 L91.67,88.11 L91.71,88.08 L91.75,88.04 L91.79,88.01 L91.83,87.98 L91.87,87.95 L91.91,87.92 L91.95,87.89 L91.99,87.85 L92.03,87.82 L92.07,87.79 L92.11,87.76 L92.15,87.73 L92.19,87.69 L92.22,87.66 L92.26,87.63 L92.3,87.6 L92.34,87.56 L92.38,87.53 L92.42,87.5 L92.46,87.47 L92.5,87.43 L92.54,87.4 L92.58,87.37 L92.62,87.33 L92.66,87.3 L92.7,87.27 L92.74,87.23 L92.78,87.2 L92.82,87.17 L92.86,87.13 L92.9,87.1 L92.94,87.07 L92.97,87.03 L93.01,87 L93.05,86.96 L93.09,86.93 L93.13,86.9 L93.17,86.86 L93.21,86.83 L93.25,86.79 L93.29,86.76 L93.33,86.73 L93.37,86.69 L93.41,86.66 L93.45,86.62 L93.49,86.59 L93.53,86.55 L93.57,86.52 L93.61,86.49 L93.65,86.45 L93.69,86.42 L93.73,86.38 L93.77,86.35 L93.81,86.31 L93.84,86.28 L93.88,86.24 L93.92,86.21 L93.96,86.17 L94,86.14 L94.04,86.1 L94.08,86.07 L94.12,86.03 L94.16,86 L94.2,85.97 L94.24,85.93 L94.28,85.9 L94.32,85.86 L94.36,85.83 L94.4,85.79 L94.44,85.76 L94.48,85.72 L94.52,85.69 L94.56,85.66 L94.6,85.62 L94.64,85.59 L94.68,85.56 L94.72,85.52 L94.76,85.49 L94.8,85.46 L94.84,85.42 L94.88,85.39 L94.91,85.36 L94.95,85.33 L94.99,85.29 L95.03,85.26 L95.07,85.23 L95.11,85.19 L95.15,85.16 L95.19,85.12 L95.23,85.09 L95.27,85.05 L95.31,85.02 L95.35,84.98 L95.39,84.95 L95.43,84.91 L95.47,84.88 L95.51,84.84 L95.55,84.8 L95.59,84.77 L95.63,84.73 L95.67,84.69 L95.71,84.65 L95.75,84.61 L95.79,84.57 L95.83,84.53 L95.87,84.49 L95.91,84.45 L95.95,84.4 L95.99,84.36 L96.03,84.32 L96.07,84.27 L96.11,84.23 L96.15,84.18 L96.19,84.13 L96.23,84.08 L96.27,84.04 L96.31,83.99 L96.35,83.94 L96.39,83.88 L96.42,83.83 L96.46,83.78 L96.5,83.72 L96.54,83.67 L96.58,83.61 L96.62,83.55 L96.66,83.5 L96.7,83.44 L96.74,83.38 L96.78,83.31 L96.82,83.25 L96.86,83.19 L96.9,83.12 L96.94,83.05 L96.98,82.99 L97.02,82.92 L97.06,82.85 L97.1,82.77 L97.14,82.7 L97.18,82.62 L97.22,82.55 L97.26,82.47 L97.3,82.39 L97.34,82.31 L97.38,82.23 L97.42,82.14 L97.46,82.06 L97.5,81.97 L97.54,81.88 L97.58,81.79 L97.62,81.7 L97.66,81.61 L97.7,81.51 L97.74,81.42 L97.78,81.32 L97.82,81.22 L97.86,81.11 L97.9,81.01 L97.94,80.9 L97.98,80.8 L98.02,80.69 L98.06,80.57 L98.1,80.43 L98.14,80.27 L98.18,80.09 L98.22,79.9 L98.26,79.69 L98.3,79.47 L98.34,79.22 L98.38,78.96 L98.42,78.69 L98.46,78.4 L98.5,78.1 L98.54,77.79 L98.58,77.46 L98.62,77.12 L98.66,76.76 L98.7,76.39 L98.74,76.02 L98.78,75.63 L98.82,75.23 L98.86,74.82 L98.9,74.4 L98.94,73.98 L98.98,73.54 L99.02,73.1 L99.06,72.65 L99.1,72.19 L99.14,71.72 L99.18,71.25 L99.22,70.77 L99.26,70.29 L99.3,69.8 L99.34,69.31 L99.38,68.82 L99.42,68.32 L99.46,67.81 L99.5,67.31 L99.54,66.8 L99.58,66.3 L99.62,65.79 L99.66,65.28 L99.7,64.77 L99.74,64.26 L99.78,63.73 L99.82,63.15 L99.86,62.54 L99.9,61.89 L99.94,61.21 L99.98,60.5 L100.02,59.77 L100.06,59.01 L100.1,58.24 L100.14,57.46 L100.18,56.67 L100.22,55.87 L100.26,55.07 L100.3,54.27 L100.34,53.48 L100.38,52.7 L100.42,51.93 L100.46,51.18 L100.5,50.45 L100.54,49.75 L100.58,49.08 L100.62,48.43 L100.66,47.83 L100.7,47.26 L100.74,46.74 L100.78,46.25 L100.82,45.75 L100.86,45.26 L100.9,44.77 L100.94,44.28 L100.98,43.8 L101.02,43.32 L101.06,42.85 L101.1,42.38 L101.14,41.92 L101.18,41.46 L101.22,41.01 L101.26,40.57 L101.3,40.14 L101.34,39.71 L101.38,39.29 L101.42,38.88 L101.46,38.48 L101.5,38.09 L101.55,37.71 L101.59,37.35 L101.63,36.99 L101.67,36.64 L101.71,36.31 L101.75,35.99 L101.79,35.68 L101.83,35.39 L101.87,35.11 L101.91,34.85 L101.95,34.6 L101.99,34.36 L102.03,34.15 L102.07,33.95 L102.11,33.76 L102.15,33.6 L102.19,33.44 L102.23,33.29 L102.27,33.13 L102.31,32.98 L102.36,32.84 L102.4,32.69 L102.44,32.55 L102.48,32.41 L102.52,32.27 L102.56,32.14 L102.6,32 L102.64,31.87 L102.68,31.74 L102.72,31.61 L102.76,31.49 L102.8,31.37 L102.84,31.25 L102.88,31.13 L102.92,31.01 L102.96,30.9 L103,30.78 L103.05,30.67 L103.09,30.56 L103.13,30.46 L103.17,30.35 L103.21,30.25 L103.25,30.15 L103.29,30.05 L103.33,29.95 L103.37,29.85 L103.41,29.76 L103.45,29.67 L103.49,29.58 L103.53,29.49 L103.57,29.4 L103.61,29.32 L103.65,29.23 L103.7,29.15 L103.74,29.07 L103.78,28.99 L103.82,28.91 L103.86,28.84 L103.9,28.77 L103.94,28.69 L103.98,28.62 L104.02,28.55 L104.06,28.48 L104.1,28.42 L104.14,28.35 L104.18,28.29 L104.22,28.23 L104.27,28.17 L104.31,28.11 L104.35,28.05 L104.39,27.99 L104.43,27.94 L104.47,27.88 L104.51,27.83 L104.55,27.78 L104.59,27.73 L104.63,27.68 L104.67,27.63 L104.71,27.58 L104.75,27.53 L104.8,27.49 L104.84,27.45 L104.88,27.4 L104.92,27.36 L104.96,27.32 L105,27.28 L105.04,27.24 L105.08,27.2 L105.12,27.17 L105.16,27.13 L105.2,27.09 L105.24,27.05 L105.28,27.01 L105.33,26.98 L105.37,26.94 L105.41,26.9 L105.45,26.87 L105.49,26.83 L105.53,26.79 L105.57,26.76 L105.61,26.72 L105.65,26.69 L105.69,26.65 L105.73,26.62 L105.77,26.58 L105.82,26.55 L105.86,26.52 L105.9,26.48 L105.94,26.45 L105.98,26.41 L106.02,26.38 L106.06,26.35 L106.1,26.32 L106.14,26.28 L106.18,26.25 L106.22,26.22 L106.27,26.19 L106.31,26.16 L106.35,26.13 L106.39,26.1 L106.43,26.06 L106.47,26.03 L106.51,26 L106.55,25.97 L106.59,25.94 L106.63,25.92 L107.47,25.37 L108.31,24.92 L109.16,24.58 L110,24.35 L110.85,24.22 L111.69,24.14 L112.54,24.06 L113.39,23.98 L114.24,23.91 L115.09,23.85 L115.95,23.79 L116.8,23.74 L117.66,23.69 L118.51,23.65 L119.37,23.61 L120.23,23.58 L121.09,23.55 L121.96,23.53 L122.82,23.51 L123.69,23.49 L124.55,23.49 L125.42,23.48 L126.29,23.48 L127.16,23.49 L128.03,23.5 L128.91,23.52 L129.78,23.54 L130.66,23.56 L131.54,23.6 L132.42,23.63 L133.3,23.67 L134.18,23.71 L135.06,23.76 L135.95,23.82 L136.83,23.88 L137.72,23.94 L138.61,24.01 L139.5,24.08 L140.39,24.15" fill="none" stroke="#f08a10" stroke-width="1.3" stroke-linejoin="round" stroke-linecap="round" />
<path d="M58.44,85.76 L59.2,85.81 L59.97,85.85 L60.73,85.88 L61.5,85.91 L62.27,85.94 L63.03,85.97 L63.8,85.99 L64.58,86 L65.35,86.01 L66.12,86.02 L66.9,86.03 L67.67,86.03 L68.45,86.03 L69.23,86.03 L70,86.02 L70.79,86.01 L71.57,86 L72.35,85.99 L73.13,85.97 L73.92,85.95 L74.7,85.93 L75.49,85.91 L76.28,85.9 L77.07,85.88 L77.86,85.86 L78.65,85.84 L79.45,85.82 L80.24,85.79 L81.04,85.76 L81.83,85.72 L82.63,85.67 L83.43,85.61 L84.23,85.53 L85.03,85.45 L85.84,85.34 L86.64,85.22 L87.45,85.09 L88.25,84.93 L89.06,84.75 L89.1,84.74 L89.14,84.73 L89.18,84.72 L89.22,84.71 L89.26,84.7 L89.3,84.69 L89.34,84.68 L89.38,84.67 L89.42,84.66 L89.46,84.65 L89.5,84.64 L89.54,84.63 L89.58,84.62 L89.61,84.61 L89.65,84.59 L89.69,84.58 L89.73,84.57 L89.77,84.56 L89.81,84.55 L89.85,84.53 L89.89,84.52 L89.93,84.51 L89.97,84.5 L90.01,84.48 L90.05,84.47 L90.09,84.46 L90.13,84.44 L90.17,84.43 L90.21,84.42 L90.25,84.4 L90.29,84.39 L90.33,84.37 L90.36,84.36 L90.4,84.34 L90.44,84.33 L90.48,84.31 L90.52,84.3 L90.56,84.28 L90.6,84.27 L90.64,84.25 L90.68,84.23 L90.72,84.22 L90.76,84.2 L90.8,84.18 L90.84,84.17 L90.88,84.15 L90.92,84.13 L90.96,84.11 L91,84.1 L91.04,84.08 L91.08,84.06 L91.12,84.04 L91.16,84.02 L91.2,84 L91.23,83.98 L91.27,83.96 L91.31,83.94 L91.35,83.92 L91.39,83.9 L91.43,83.88 L91.47,83.86 L91.51,83.84 L91.55,83.82 L91.59,83.8 L91.63,83.78 L91.67,83.76 L91.71,83.73 L91.75,83.71 L91.79,83.69 L91.83,83.67 L91.87,83.64 L91.91,83.62 L91.95,83.59 L91.99,83.57 L92.03,83.55 L92.07,83.52 L92.11,83.5 L92.15,83.47 L92.19,83.45 L92.23,83.42 L92.26,83.4 L92.3,83.37 L92.34,83.34 L92.38,83.32 L92.42,83.29 L92.46,83.26 L92.5,83.24 L92.54,83.21 L92.58,83.18 L92.62,83.15 L92.66,83.12 L92.7,83.09 L92.74,83.06 L92.78,83.04 L92.82,83.01 L92.86,82.98 L92.9,82.94 L92.94,82.91 L92.98,82.88 L93.02,82.85 L93.06,82.82 L93.1,82.79 L93.14,82.76 L93.18,82.72 L93.22,82.69 L93.26,82.66 L93.3,82.62 L93.34,82.59 L93.38,82.56 L93.42,82.52 L93.46,82.49 L93.5,82.45 L93.54,82.42 L93.57,82.38 L93.61,82.35 L93.65,82.31 L93.69,82.27 L93.73,82.24 L93.77,82.2 L93.81,82.16 L93.85,82.12 L93.89,82.08 L93.93,82.05 L93.97,82.01 L94.01,81.97 L94.05,81.93 L94.09,81.89 L94.13,81.85 L94.17,81.81 L94.21,81.77 L94.25,81.72 L94.29,81.68 L94.33,81.64 L94.37,81.6 L94.41,81.55 L94.45,81.51 L94.49,81.46 L94.53,81.42 L94.57,81.37 L94.61,81.32 L94.65,81.27 L94.69,81.22 L94.73,81.17 L94.77,81.12 L94.81,81.07 L94.85,81.01 L94.89,80.96 L94.93,80.9 L94.97,80.84 L95.01,80.79 L95.05,80.73 L95.09,80.67 L95.13,80.6 L95.17,80.54 L95.21,80.47 L95.25,80.41 L95.29,80.34 L95.33,80.27 L95.37,80.2 L95.41,80.13 L95.45,80.06 L95.49,79.98 L95.53,79.9 L95.57,79.83 L95.61,79.75 L95.65,79.67 L95.69,79.58 L95.73,79.5 L95.77,79.41 L95.81,79.32 L95.85,79.23 L95.89,79.14 L95.92,79.05 L95.96,78.95 L96,78.86 L96.04,78.76 L96.08,78.66 L96.12,78.55 L96.16,78.45 L96.2,78.34 L96.24,78.23 L96.28,78.12 L96.32,78.01 L96.36,77.89 L96.4,77.78 L96.44,77.66 L96.48,77.54 L96.52,77.41 L96.56,77.28 L96.6,77.16 L96.64,77.03 L96.68,76.89 L96.72,76.76 L96.76,76.62 L96.8,76.48 L96.84,76.33 L96.88,76.19 L96.92,76.04 L96.96,75.89 L97,75.74 L97.04,75.58 L97.08,75.42 L97.12,75.26 L97.16,75.1 L97.2,74.93 L97.24,74.76 L97.28,74.59 L97.32,74.42 L97.36,74.24 L97.4,74.06 L97.44,73.86 L97.48,73.63 L97.52,73.37 L97.56,73.09 L97.6,72.77 L97.64,72.44 L97.68,72.07 L97.72,71.69 L97.76,71.28 L97.8,70.85 L97.84,70.41 L97.88,69.95 L97.92,69.47 L97.96,68.97 L98,68.46 L98.04,67.94 L98.08,67.41 L98.12,66.87 L98.16,66.32 L98.2,65.77 L98.24,65.21 L98.28,64.64 L98.32,64.07 L98.36,63.5 L98.4,62.93 L98.44,62.36 L98.48,61.79 L98.52,61.23 L98.56,60.67 L98.6,60.12 L98.64,59.55 L98.68,58.94 L98.72,58.3 L98.76,57.62 L98.8,56.92 L98.84,56.19 L98.88,55.44 L98.92,54.67 L98.96,53.89 L99,53.09 L99.04,52.29 L99.08,51.48 L99.12,50.68 L99.16,49.87 L99.2,49.07 L99.24,48.28 L99.28,47.5 L99.32,46.73 L99.36,45.99 L99.4,45.27 L99.44,44.57 L99.48,43.9 L99.52,43.27 L99.56,42.67 L99.6,42.12 L99.65,41.61 L99.69,41.14 L99.73,40.72 L99.77,40.36 L99.81,40.06 L99.85,39.78 L99.89,39.52 L99.93,39.26 L99.97,39 L100.01,38.75 L100.05,38.5 L100.09,38.26 L100.13,38.02 L100.17,37.78 L100.21,37.56 L100.25,37.33 L100.29,37.11 L100.33,36.9 L100.37,36.69 L100.41,36.48 L100.45,36.28 L100.49,36.08 L100.54,35.89 L100.58,35.7 L100.62,35.51 L100.66,35.33 L100.7,35.15 L100.74,34.98 L100.78,34.81 L100.82,34.65 L100.86,34.48 L100.9,34.33 L100.94,34.17 L100.98,34.02 L101.02,33.87 L101.06,33.73 L101.1,33.59 L101.14,33.45 L101.18,33.32 L101.22,33.19 L101.27,33.06 L101.31,32.94 L101.35,32.82 L101.39,32.7 L101.43,32.58 L101.47,32.47 L101.51,32.36 L101.55,32.25 L101.59,32.15 L101.63,32.05 L101.67,31.95 L101.71,31.86 L101.75,31.76 L101.79,31.67 L101.83,31.58 L101.88,31.5 L101.92,31.41 L101.96,31.33 L102,31.25 L102.04,31.18 L102.08,31.1 L102.12,31.03 L102.16,30.96 L102.2,30.89 L102.24,30.82 L102.28,30.75 L102.32,30.68 L102.36,30.61 L102.4,30.54 L102.44,30.47 L102.49,30.4 L102.53,30.34 L102.57,30.27 L102.61,30.21 L102.65,30.14 L102.69,30.08 L102.73,30.01 L102.77,29.95 L102.81,29.89 L102.85,29.83 L102.89,29.76 L102.93,29.7 L102.97,29.64 L103.02,29.58 L103.06,29.52 L103.1,29.47 L103.14,29.41 L103.18,29.35 L103.22,29.29 L103.26,29.24 L103.3,29.18 L103.34,29.12 L103.38,29.07 L103.42,29.01 L103.46,28.96 L103.51,28.91 L103.55,28.85 L103.59,28.8 L103.63,28.75 L103.67,28.7 L103.71,28.64 L103.75,28.59 L103.79,28.54 L103.83,28.49 L103.87,28.44 L103.91,28.4 L103.95,28.35 L104,28.3 L104.04,28.25 L104.08,28.2 L104.12,28.16 L104.16,28.11 L104.2,28.07 L104.24,28.02 L104.28,27.98 L104.32,27.93 L104.36,27.89 L104.4,27.84 L104.45,27.8 L104.49,27.76 L104.53,27.72 L104.57,27.67 L104.61,27.63 L104.65,27.59 L104.69,27.55 L104.73,27.51 L104.77,27.47 L104.81,27.43 L104.85,27.39 L104.9,27.35 L104.94,27.31 L104.98,27.28 L105.02,27.24 L105.06,27.2 L105.1,27.17 L105.94,26.49 L106.78,25.94 L107.63,25.49 L108.47,25.11 L109.32,24.77 L110.17,24.46 L111.02,24.2 L111.87,23.97 L112.72,23.77 L113.57,23.61 L114.43,23.49 L115.28,23.4 L116.14,23.32 L117,23.25 L117.86,23.17 L118.72,23.1 L119.58,23.04 L120.45,22.97 L121.31,22.92 L122.18,22.86 L123.05,22.81 L123.92,22.77 L124.79,22.73 L125.66,22.69 L126.53,22.67 L127.41,22.64 L128.28,22.63 L129.16,22.62 L130.04,22.61 L130.92,22.61 L131.8,22.62 L132.69,22.64 L133.57,22.66 L134.46,22.69 L135.35,22.73 L136.23,22.78 L137.12,22.84 L138.02,22.9 L138.91,22.98" fill="none" stroke="#111111" stroke-width="1.7" stroke-linejoin="round" stroke-linecap="round" />
<path d="M66.96,87.58 L67.72,87.64 L68.48,87.71 L69.24,87.77 L70,87.83 L70.76,87.89 L71.53,87.94 L72.29,87.99 L73.06,88.05 L73.83,88.09 L74.59,88.14 L75.36,88.19 L76.14,88.23 L76.91,88.27 L77.68,88.31 L78.45,88.35 L79.23,88.39 L80.01,88.42 L80.78,88.46 L81.56,88.5 L82.34,88.54 L83.12,88.58 L83.91,88.62 L84.69,88.67 L85.47,88.71 L86.26,88.76 L87.05,88.8 L87.84,88.84 L88.63,88.87 L89.42,88.91 L90.21,88.94 L91,88.96 L91.79,88.98 L92.59,88.99 L93.39,89 L94.18,89 L94.98,88.99 L95.78,88.97 L96.58,88.94 L97.39,88.9 L97.43,88.9 L97.46,88.89 L97.5,88.89 L97.54,88.89 L97.58,88.89 L97.62,88.89 L97.66,88.88 L97.7,88.88 L97.74,88.88 L97.78,88.88 L97.82,88.87 L97.86,88.87 L97.9,88.87 L97.93,88.87 L97.97,88.86 L98.01,88.86 L98.05,88.86 L98.09,88.86 L98.13,88.85 L98.17,88.85 L98.21,88.85 L98.25,88.84 L98.29,88.84 L98.33,88.84 L98.37,88.84 L98.4,88.83 L98.44,88.83 L98.48,88.83 L98.52,88.82 L98.56,88.82 L98.6,88.82 L98.64,88.82 L98.68,88.81 L98.72,88.81 L98.76,88.81 L98.8,88.8 L98.84,88.8 L98.88,88.8 L98.92,88.79 L98.95,88.79 L98.99,88.79 L99.03,88.78 L99.07,88.78 L99.11,88.78 L99.15,88.77 L99.19,88.77 L99.23,88.77 L99.27,88.76 L99.31,88.76 L99.35,88.76 L99.39,88.75 L99.43,88.75 L99.47,88.75 L99.5,88.74 L99.54,88.74 L99.58,88.73 L99.62,88.73 L99.66,88.73 L99.7,88.72 L99.74,88.72 L99.78,88.72 L99.82,88.71 L99.86,88.71 L99.9,88.7 L99.94,88.7 L99.98,88.7 L100.02,88.69 L100.05,88.69 L100.09,88.68 L100.13,88.68 L100.17,88.67 L100.21,88.67 L100.25,88.67 L100.29,88.66 L100.33,88.66 L100.37,88.65 L100.41,88.65 L100.45,88.64 L100.49,88.64 L100.53,88.64 L100.57,88.63 L100.61,88.63 L100.65,88.62 L100.68,88.62 L100.72,88.61 L100.76,88.61 L100.8,88.6 L100.84,88.6 L100.88,88.59 L100.92,88.59 L100.96,88.58 L101,88.58 L101.04,88.57 L101.08,88.57 L101.12,88.56 L101.16,88.56 L101.2,88.55 L101.24,88.55 L101.28,88.54 L101.32,88.54 L101.36,88.53 L101.39,88.53 L101.43,88.52 L101.47,88.52 L101.51,88.51 L101.55,88.51 L101.59,88.5 L101.63,88.5 L101.67,88.49 L101.71,88.49 L101.75,88.48 L101.79,88.47 L101.83,88.47 L101.87,88.46 L101.91,88.45 L101.95,88.44 L101.99,88.44 L102.03,88.43 L102.07,88.42 L102.11,88.41 L102.14,88.4 L102.18,88.39 L102.22,88.38 L102.26,88.36 L102.3,88.35 L102.34,88.34 L102.38,88.33 L102.42,88.31 L102.46,88.3 L102.5,88.28 L102.54,88.27 L102.58,88.25 L102.62,88.24 L102.66,88.22 L102.7,88.21 L102.74,88.19 L102.78,88.17 L102.82,88.15 L102.86,88.13 L102.9,88.11 L102.94,88.09 L102.97,88.07 L103.01,88.05 L103.05,88.03 L103.09,88.01 L103.13,87.99 L103.17,87.96 L103.21,87.94 L103.25,87.92 L103.29,87.89 L103.33,87.87 L103.37,87.84 L103.41,87.82 L103.45,87.79 L103.49,87.76 L103.53,87.74 L103.57,87.71 L103.61,87.68 L103.65,87.65 L103.69,87.62 L103.73,87.59 L103.77,87.56 L103.81,87.53 L103.85,87.49 L103.89,87.46 L103.93,87.43 L103.97,87.4 L104,87.36 L104.04,87.33 L104.08,87.29 L104.12,87.26 L104.16,87.22 L104.2,87.19 L104.24,87.16 L104.28,87.12 L104.32,87.09 L104.36,87.05 L104.4,87.01 L104.44,86.96 L104.48,86.91 L104.52,86.86 L104.56,86.8 L104.6,86.73 L104.64,86.65 L104.68,86.57 L104.72,86.48 L104.76,86.38 L104.8,86.27 L104.84,86.14 L104.88,86.01 L104.92,85.86 L104.96,85.55 L105,84.95 L105.04,84.08 L105.08,82.96 L105.12,81.61 L105.16,80.07 L105.2,78.36 L105.24,76.49 L105.28,74.5 L105.32,71.67 L105.36,67.61 L105.41,62.89 L105.45,58.06 L105.49,53.69 L105.53,49.42 L105.57,44.74 L105.62,39.99 L105.66,35.54 L105.7,31.74 L105.74,28.94 L105.78,27.51 L105.82,26.9 L105.86,26.32 L105.9,25.77 L105.94,25.25 L105.98,24.76 L106.02,24.3 L106.06,23.86 L106.1,23.46 L106.15,23.07 L106.19,22.72 L106.23,22.39 L106.27,22.08 L106.31,21.8 L106.35,21.53 L106.39,21.29 L106.43,21.07 L106.47,20.87 L106.51,20.69 L106.55,20.52 L106.59,20.38 L106.63,20.24 L106.67,20.13 L106.71,20.03 L106.75,19.94 L106.79,19.87 L106.83,19.8 L106.87,19.75 L106.91,19.71 L106.95,19.68 L106.99,19.64 L107.03,19.61 L107.07,19.58 L107.11,19.54 L107.15,19.51 L107.19,19.48 L107.23,19.45 L107.27,19.42 L107.31,19.39 L107.35,19.36 L107.39,19.33 L107.43,19.3 L107.47,19.27 L107.51,19.24 L107.55,19.21 L107.59,19.19 L107.64,19.16 L107.68,19.14 L107.72,19.11 L107.76,19.08 L107.8,19.06 L107.84,19.04 L107.88,19.01 L107.92,18.99 L107.96,18.97 L108,18.94 L108.04,18.92 L108.08,18.9 L108.12,18.88 L108.16,18.86 L108.2,18.84 L108.24,18.82 L108.28,18.8 L108.32,18.78 L108.36,18.76 L108.4,18.74 L108.44,18.73 L108.48,18.71 L108.52,18.69 L108.56,18.68 L108.6,18.66 L108.64,18.64 L108.68,18.63 L108.72,18.61 L108.76,18.6 L108.8,18.58 L108.85,18.57 L108.89,18.55 L108.93,18.54 L108.97,18.53 L109.01,18.51 L109.05,18.5 L109.09,18.49 L109.13,18.48 L109.17,18.46 L109.21,18.45 L109.25,18.44 L109.29,18.43 L109.33,18.42 L109.37,18.41 L109.41,18.4 L109.45,18.39 L109.49,18.38 L109.53,18.37 L109.57,18.36 L109.61,18.35 L109.65,18.34 L109.69,18.33 L109.73,18.32 L109.77,18.32 L109.82,18.31 L109.86,18.3 L109.9,18.29 L109.94,18.28 L109.98,18.28 L110.02,18.27 L110.06,18.26 L110.1,18.26 L110.14,18.25 L110.18,18.24 L110.22,18.24 L110.26,18.23 L110.3,18.23 L110.34,18.22 L110.38,18.21 L110.42,18.21 L110.46,18.2 L110.5,18.2 L110.54,18.19 L110.58,18.19 L110.62,18.18 L110.67,18.18 L110.71,18.17 L110.75,18.17 L110.79,18.16 L110.83,18.16 L110.87,18.15 L110.91,18.15 L110.95,18.14 L110.99,18.14 L111.03,18.14 L111.07,18.13 L111.11,18.13 L111.15,18.12 L111.19,18.12 L111.23,18.12 L111.27,18.11 L111.31,18.11 L111.35,18.1 L111.39,18.1 L111.44,18.09 L111.48,18.09 L111.52,18.09 L111.56,18.08 L111.6,18.08 L111.64,18.07 L111.68,18.07 L111.72,18.07 L111.76,18.06 L111.8,18.06 L111.84,18.05 L111.88,18.05 L111.92,18.04 L111.96,18.04 L112,18.03 L112.04,18.03 L112.08,18.03 L112.13,18.02 L112.17,18.02 L112.21,18.01 L112.25,18.01 L112.29,18 L112.33,18 L112.37,17.99 L112.41,17.99 L112.45,17.98 L112.49,17.98 L112.53,17.98 L112.57,17.97 L112.61,17.97 L112.65,17.96 L112.69,17.96 L112.73,17.95 L112.78,17.95 L112.82,17.95 L112.86,17.94 L112.9,17.94 L112.94,17.93 L112.98,17.93 L113.02,17.93 L113.06,17.92 L113.1,17.92 L113.14,17.91 L113.18,17.91 L113.22,17.9 L113.26,17.9 L113.3,17.9 L113.35,17.89 L113.39,17.89 L114.22,17.81 L115.06,17.75 L115.9,17.69 L116.74,17.64 L117.58,17.6 L118.42,17.56 L119.26,17.54 L120.11,17.51 L120.95,17.5 L121.8,17.48 L122.65,17.47 L123.5,17.47 L124.35,17.47 L125.2,17.47 L126.06,17.47 L126.91,17.48 L127.77,17.48 L128.63,17.49 L129.49,17.49 L130.35,17.5 L131.21,17.5 L132.07,17.5 L132.94,17.5 L133.8,17.5 L134.67,17.49 L135.54,17.48 L136.41,17.47 L137.28,17.44 L138.16,17.42 L139.03,17.39 L139.91,17.35 L140.78,17.3 L141.66,17.24 L142.54,17.18 L143.42,17.11 L144.31,17.04 L145.19,16.96 L146.08,16.88 L146.96,16.81" fill="none" stroke="#7cf0a0" stroke-width="1.6" stroke-linejoin="round" stroke-linecap="round" />
<path d="M71.86,88.67 L72.61,88.78 L73.37,88.89 L74.13,89 L74.89,89.1 L75.65,89.19 L76.41,89.28 L77.17,89.37 L77.94,89.45 L78.7,89.53 L79.47,89.61 L80.23,89.68 L81,89.75 L81.77,89.81 L82.54,89.88 L83.31,89.93 L84.08,89.99 L84.86,90.04 L85.63,90.1 L86.41,90.14 L87.19,90.19 L87.96,90.24 L88.74,90.28 L89.52,90.32 L90.3,90.36 L91.09,90.4 L91.87,90.43 L92.66,90.47 L93.44,90.5 L94.23,90.54 L95.02,90.57 L95.81,90.61 L96.6,90.64 L97.39,90.68 L98.18,90.71 L98.98,90.73 L99.77,90.75 L100.57,90.75 L101.37,90.74 L102.17,90.71 L102.21,90.71 L102.24,90.71 L102.28,90.7 L102.32,90.7 L102.36,90.7 L102.4,90.7 L102.44,90.69 L102.48,90.69 L102.52,90.69 L102.56,90.69 L102.6,90.69 L102.63,90.68 L102.67,90.68 L102.71,90.68 L102.75,90.68 L102.79,90.67 L102.83,90.67 L102.87,90.67 L102.91,90.66 L102.95,90.66 L102.99,90.66 L103.02,90.66 L103.06,90.65 L103.1,90.65 L103.14,90.65 L103.18,90.64 L103.22,90.64 L103.26,90.64 L103.3,90.63 L103.34,90.63 L103.38,90.63 L103.42,90.62 L103.45,90.62 L103.49,90.62 L103.53,90.61 L103.57,90.61 L103.61,90.6 L103.65,90.6 L103.69,90.6 L103.73,90.59 L103.77,90.59 L103.81,90.58 L103.85,90.58 L103.88,90.58 L103.92,90.57 L103.96,90.57 L104,90.56 L104.04,90.56 L104.08,90.55 L104.12,90.55 L104.16,90.54 L104.2,90.54 L104.24,90.54 L104.28,90.53 L104.31,90.53 L104.35,90.52 L104.39,90.52 L104.43,90.51 L104.47,90.51 L104.51,90.5 L104.55,90.49 L104.59,90.49 L104.63,90.48 L104.67,90.48 L104.71,90.47 L104.75,90.47 L104.78,90.46 L104.82,90.46 L104.86,90.45 L104.9,90.44 L104.94,90.44 L104.98,90.43 L105.02,90.43 L105.06,90.42 L105.1,90.41 L105.14,90.41 L105.18,90.4 L105.22,90.39 L105.26,90.39 L105.29,90.38 L105.33,90.37 L105.37,90.37 L105.41,90.36 L105.45,90.35 L105.49,90.35 L105.53,90.34 L105.57,90.33 L105.61,90.33 L105.65,90.32 L105.69,90.31 L105.73,90.3 L105.77,90.3 L105.8,90.29 L105.84,90.28 L105.88,90.27 L105.92,90.27 L105.96,90.26 L106,90.25 L106.04,90.24 L106.08,90.23 L106.12,90.22 L106.16,90.22 L106.2,90.21 L106.24,90.2 L106.28,90.19 L106.32,90.18 L106.35,90.17 L106.39,90.17 L106.43,90.16 L106.47,90.15 L106.51,90.14 L106.55,90.13 L106.59,90.12 L106.63,90.11 L106.67,90.1 L106.71,90.09 L106.75,90.08 L106.79,90.07 L106.83,90.06 L106.87,90.05 L106.91,90.04 L106.94,90.03 L106.98,90.02 L107.02,90.01 L107.06,90 L107.1,89.99 L107.14,89.97 L107.18,89.96 L107.22,89.94 L107.26,89.92 L107.3,89.9 L107.34,89.88 L107.38,89.85 L107.42,89.83 L107.46,89.8 L107.5,89.77 L107.53,89.74 L107.57,89.71 L107.61,89.68 L107.65,89.65 L107.69,89.62 L107.73,89.58 L107.77,89.55 L107.81,89.51 L107.85,89.47 L107.89,89.43 L107.93,89.39 L107.97,89.35 L108.01,89.31 L108.05,89.27 L108.09,89.22 L108.13,89.18 L108.17,89.13 L108.21,89.09 L108.24,89.04 L108.28,88.99 L108.32,88.94 L108.36,88.89 L108.4,88.84 L108.44,88.79 L108.48,88.74 L108.52,88.68 L108.56,88.63 L108.6,88.58 L108.64,88.52 L108.68,88.47 L108.72,88.41 L108.76,88.35 L108.8,88.3 L108.84,88.24 L108.88,88.18 L108.92,88.12 L108.96,88.06 L109,88 L109.04,87.94 L109.07,87.88 L109.11,87.82 L109.15,87.75 L109.19,87.69 L109.23,87.63 L109.27,87.57 L109.31,87.52 L109.35,87.47 L109.39,87.43 L109.43,87.38 L109.47,87.34 L109.51,87.29 L109.55,87.24 L109.59,87.18 L109.63,87.12 L109.67,87.04 L109.71,86.96 L109.75,86.86 L109.79,86.74 L109.83,86.61 L109.87,86.45 L109.91,86.28 L109.95,86.08 L109.99,85.86 L110.03,83.2 L110.08,76.83 L110.12,68.45 L110.17,59.78 L110.22,52.53 L110.27,46.07 L110.31,39.05 L110.36,32.24 L110.41,26.37 L110.45,22.2 L110.49,20.48 L110.53,20.24 L110.57,20.01 L110.61,19.8 L110.66,19.59 L110.7,19.4 L110.74,19.22 L110.78,19.05 L110.82,18.88 L110.86,18.73 L110.9,18.59 L110.94,18.45 L110.98,18.33 L111.02,18.21 L111.06,18.1 L111.1,17.99 L111.14,17.9 L111.18,17.81 L111.22,17.72 L111.26,17.65 L111.3,17.58 L111.34,17.51 L111.38,17.45 L111.42,17.4 L111.46,17.35 L111.5,17.3 L111.54,17.26 L111.58,17.22 L111.62,17.18 L111.66,17.15 L111.7,17.12 L111.74,17.1 L111.78,17.07 L111.82,17.05 L111.86,17.03 L111.9,17 L111.94,16.98 L111.98,16.96 L112.02,16.94 L112.06,16.92 L112.1,16.9 L112.14,16.89 L112.18,16.87 L112.22,16.85 L112.26,16.83 L112.3,16.81 L112.34,16.79 L112.38,16.77 L112.42,16.76 L112.46,16.74 L112.5,16.72 L112.54,16.7 L112.58,16.69 L112.62,16.67 L112.66,16.65 L112.7,16.64 L112.74,16.62 L112.78,16.61 L112.82,16.59 L112.86,16.58 L112.9,16.56 L112.94,16.55 L112.98,16.53 L113.02,16.52 L113.06,16.5 L113.1,16.49 L113.14,16.47 L113.18,16.46 L113.22,16.45 L113.26,16.43 L113.3,16.42 L113.34,16.41 L113.38,16.39 L113.42,16.38 L113.47,16.37 L113.51,16.36 L113.55,16.34 L113.59,16.33 L113.63,16.32 L113.67,16.31 L113.71,16.3 L113.75,16.28 L113.79,16.27 L113.83,16.26 L113.87,16.25 L113.91,16.24 L113.95,16.23 L113.99,16.22 L114.03,16.21 L114.07,16.2 L114.11,16.19 L114.15,16.18 L114.19,16.17 L114.23,16.16 L114.27,16.15 L114.31,16.14 L114.35,16.13 L114.39,16.13 L114.43,16.12 L114.47,16.11 L114.51,16.1 L114.55,16.09 L114.59,16.08 L114.63,16.08 L114.67,16.07 L114.71,16.06 L114.75,16.05 L114.79,16.04 L114.83,16.04 L114.87,16.03 L114.91,16.02 L114.95,16.02 L115,16.01 L115.04,16 L115.08,16 L115.12,15.99 L115.16,15.98 L115.2,15.98 L115.24,15.97 L115.28,15.96 L115.32,15.96 L115.36,15.95 L115.4,15.95 L115.44,15.94 L115.48,15.93 L115.52,15.93 L115.56,15.92 L115.6,15.92 L115.64,15.91 L115.68,15.91 L115.72,15.9 L115.76,15.9 L115.8,15.89 L115.84,15.89 L115.88,15.88 L115.92,15.88 L115.96,15.87 L116,15.87 L116.04,15.86 L116.08,15.86 L116.13,15.86 L116.17,15.85 L116.21,15.85 L116.25,15.84 L116.29,15.84 L116.33,15.83 L116.37,15.83 L116.41,15.83 L116.45,15.82 L116.49,15.82 L116.53,15.82 L116.57,15.81 L116.61,15.81 L116.65,15.8 L116.69,15.8 L116.73,15.8 L116.77,15.79 L116.81,15.79 L116.85,15.79 L116.89,15.78 L116.93,15.78 L116.97,15.78 L117.01,15.77 L117.06,15.77 L117.1,15.77 L117.14,15.76 L117.18,15.76 L117.22,15.76 L117.26,15.75 L117.3,15.75 L117.34,15.75 L117.38,15.75 L117.42,15.74 L117.46,15.74 L117.5,15.74 L117.54,15.73 L117.58,15.73 L117.62,15.73 L117.66,15.72 L117.7,15.72 L117.74,15.72 L117.78,15.72 L117.82,15.71 L117.87,15.71 L117.91,15.71 L117.95,15.7 L117.99,15.7 L118.03,15.7 L118.07,15.7 L118.11,15.69 L118.15,15.69 L118.98,15.62 L119.82,15.53 L120.65,15.42 L121.49,15.31 L122.32,15.2 L123.16,15.1 L124,15 L124.85,14.91 L125.69,14.81 L126.53,14.73 L127.38,14.64 L128.23,14.56 L129.07,14.48 L129.92,14.4 L130.77,14.33 L131.63,14.26 L132.48,14.19 L133.33,14.12 L134.19,14.06 L135.05,14 L135.91,13.94 L136.77,13.88 L137.63,13.83 L138.49,13.77 L139.36,13.72 L140.22,13.67 L141.09,13.62 L141.96,13.57 L142.83,13.53 L143.7,13.48 L144.57,13.44 L145.44,13.4 L146.32,13.37 L147.19,13.33 L148.07,13.3 L148.95,13.28 L149.83,13.25 L150.71,13.23 L151.6,13.21" fill="none" stroke="#d81ca8" stroke-width="1.5" stroke-linejoin="round" stroke-linecap="round" />
<path d="M77.21,89.92 L77.96,90.01 L78.71,90.1 L79.47,90.19 L80.22,90.27 L80.98,90.35 L81.74,90.43 L82.5,90.5 L83.26,90.57 L84.02,90.64 L84.78,90.7 L85.55,90.77 L86.31,90.83 L87.08,90.89 L87.84,90.94 L88.61,91 L89.38,91.05 L90.15,91.11 L90.92,91.16 L91.69,91.21 L92.47,91.26 L93.24,91.3 L94.02,91.34 L94.8,91.38 L95.57,91.41 L96.35,91.43 L97.13,91.45 L97.91,91.46 L98.7,91.47 L99.48,91.47 L100.27,91.46 L101.05,91.46 L101.84,91.47 L102.63,91.47 L103.42,91.46 L104.21,91.45 L105,91.43 L105.79,91.38 L106.59,91.32 L107.38,91.23 L107.42,91.23 L107.46,91.22 L107.5,91.22 L107.54,91.21 L107.58,91.21 L107.62,91.2 L107.65,91.19 L107.69,91.19 L107.73,91.18 L107.77,91.18 L107.81,91.17 L107.85,91.17 L107.89,91.16 L107.93,91.15 L107.96,91.15 L108,91.14 L108.04,91.14 L108.08,91.13 L108.12,91.12 L108.16,91.12 L108.2,91.11 L108.24,91.1 L108.28,91.1 L108.31,91.09 L108.35,91.08 L108.39,91.08 L108.43,91.07 L108.47,91.06 L108.51,91.06 L108.55,91.05 L108.59,91.04 L108.63,91.03 L108.66,91.03 L108.7,91.02 L108.74,91.01 L108.78,91 L108.82,90.99 L108.86,90.99 L108.9,90.98 L108.94,90.97 L108.98,90.96 L109.02,90.95 L109.05,90.95 L109.09,90.94 L109.13,90.93 L109.17,90.92 L109.21,90.91 L109.25,90.9 L109.29,90.89 L109.33,90.88 L109.37,90.87 L109.4,90.87 L109.44,90.86 L109.48,90.85 L109.52,90.84 L109.56,90.83 L109.6,90.82 L109.64,90.81 L109.68,90.8 L109.72,90.79 L109.76,90.78 L109.79,90.77 L109.83,90.76 L109.87,90.75 L109.91,90.74 L109.95,90.73 L109.99,90.72 L110.03,90.7 L110.07,90.69 L110.11,90.68 L110.15,90.67 L110.18,90.66 L110.22,90.65 L110.26,90.64 L110.3,90.62 L110.34,90.61 L110.38,90.59 L110.42,90.57 L110.46,90.56 L110.5,90.54 L110.54,90.52 L110.57,90.5 L110.61,90.47 L110.65,90.45 L110.69,90.43 L110.73,90.4 L110.77,90.38 L110.81,90.35 L110.85,90.32 L110.89,90.29 L110.93,90.26 L110.97,90.23 L111.01,90.2 L111.04,90.17 L111.08,90.14 L111.12,90.11 L111.16,90.07 L111.2,90.04 L111.24,90 L111.28,89.97 L111.32,89.93 L111.36,89.89 L111.4,89.85 L111.44,89.81 L111.47,89.77 L111.51,89.73 L111.55,89.69 L111.59,89.65 L111.63,89.61 L111.67,89.56 L111.71,89.52 L111.75,89.48 L111.79,89.43 L111.83,89.39 L111.87,89.34 L111.91,89.29 L111.94,89.25 L111.98,89.2 L112.02,89.15 L112.06,89.1 L112.1,89.05 L112.14,89 L112.18,88.95 L112.22,88.9 L112.26,88.85 L112.3,88.8 L112.34,88.75 L112.38,88.7 L112.42,88.65 L112.46,88.59 L112.49,88.54 L112.53,88.49 L112.57,88.43 L112.61,88.38 L112.65,88.32 L112.69,88.27 L112.73,88.22 L112.77,88.16 L112.81,88.11 L112.85,88.05 L112.89,87.99 L112.93,87.94 L112.97,87.88 L113.01,87.83 L113.04,87.77 L113.08,87.71 L113.12,87.66 L113.16,87.6 L113.2,87.54 L113.24,87.49 L113.28,87.43 L113.32,87.37 L113.36,87.31 L113.4,87.26 L113.44,87.2 L113.48,87.15 L113.52,87.09 L113.56,87.04 L113.6,86.99 L113.63,86.94 L113.67,86.89 L113.71,86.84 L113.75,86.79 L113.79,86.73 L113.83,86.68 L113.87,86.63 L113.91,86.58 L113.95,86.52 L113.99,86.46 L114.03,86.4 L114.07,86.34 L114.11,86.28 L114.15,86.21 L114.19,86.14 L114.23,86.07 L114.26,85.99 L114.3,85.91 L114.34,85.83 L114.38,85.74 L114.42,85.65 L114.46,85.55 L114.5,85.45 L114.54,85.34 L114.58,85.23 L114.62,85.11 L114.66,84.98 L114.7,84.85 L114.74,84.71 L114.78,84.57 L114.82,84.41 L114.86,84.25 L114.9,84.05 L114.94,83.81 L114.98,83.52 L115.02,83.17 L115.06,82.75 L115.1,82.26 L115.14,81.68 L115.18,81.01 L115.22,80.23 L115.26,78.18 L115.31,74.14 L115.36,68.77 L115.41,62.73 L115.46,56.68 L115.51,51.28 L115.56,45.83 L115.61,39.66 L115.66,33.47 L115.71,27.99 L115.75,23.96 L115.8,22.1 L115.84,21.59 L115.88,21.12 L115.92,20.69 L115.96,20.31 L116,19.96 L116.04,19.65 L116.08,19.37 L116.12,19.12 L116.16,18.9 L116.2,18.7 L116.24,18.53 L116.28,18.39 L116.32,18.26 L116.36,18.15 L116.4,18.06 L116.44,17.98 L116.48,17.91 L116.52,17.85 L116.56,17.79 L116.6,17.73 L116.64,17.68 L116.68,17.63 L116.72,17.58 L116.76,17.53 L116.8,17.48 L116.84,17.43 L116.88,17.38 L116.92,17.34 L116.96,17.29 L117,17.25 L117.04,17.21 L117.08,17.16 L117.12,17.12 L117.16,17.08 L117.2,17.04 L117.24,17.01 L117.28,16.97 L117.32,16.93 L117.36,16.9 L117.4,16.87 L117.44,16.83 L117.48,16.8 L117.52,16.77 L117.56,16.74 L117.6,16.71 L117.64,16.68 L117.68,16.65 L117.72,16.62 L117.76,16.6 L117.8,16.57 L117.84,16.55 L117.88,16.52 L117.92,16.5 L117.96,16.47 L118,16.45 L118.04,16.43 L118.08,16.41 L118.12,16.39 L118.16,16.37 L118.2,16.35 L118.24,16.33 L118.28,16.31 L118.32,16.29 L118.36,16.27 L118.4,16.25 L118.44,16.24 L118.48,16.22 L118.52,16.2 L118.56,16.19 L118.6,16.17 L118.64,16.16 L118.68,16.14 L118.72,16.13 L118.76,16.11 L118.8,16.1 L118.84,16.09 L118.88,16.07 L118.92,16.06 L118.96,16.05 L119,16.03 L119.04,16.02 L119.08,16.01 L119.12,15.99 L119.16,15.98 L119.2,15.97 L119.24,15.96 L119.28,15.94 L119.32,15.93 L119.36,15.92 L119.4,15.91 L119.44,15.9 L119.48,15.88 L119.52,15.87 L119.56,15.86 L119.6,15.85 L119.64,15.83 L119.68,15.82 L119.72,15.81 L119.76,15.79 L119.8,15.78 L119.84,15.77 L119.88,15.75 L119.92,15.74 L119.96,15.73 L120,15.71 L120.04,15.7 L120.08,15.68 L120.12,15.67 L120.16,15.65 L120.2,15.64 L120.24,15.63 L120.28,15.61 L120.33,15.6 L120.37,15.58 L120.41,15.57 L120.45,15.56 L120.49,15.54 L120.53,15.53 L120.57,15.52 L120.61,15.5 L120.65,15.49 L120.69,15.48 L120.73,15.46 L120.77,15.45 L120.81,15.44 L120.85,15.42 L120.89,15.41 L120.93,15.4 L120.97,15.39 L121.01,15.37 L121.05,15.36 L121.09,15.35 L121.13,15.34 L121.17,15.32 L121.21,15.31 L121.25,15.3 L121.29,15.29 L121.33,15.28 L121.37,15.26 L121.41,15.25 L121.45,15.24 L121.49,15.23 L121.53,15.22 L121.57,15.21 L121.61,15.19 L121.65,15.18 L121.69,15.17 L121.73,15.16 L121.77,15.15 L121.81,15.14 L121.85,15.13 L121.89,15.12 L121.93,15.1 L121.97,15.09 L122.01,15.08 L122.05,15.07 L122.1,15.06 L122.14,15.05 L122.18,15.04 L122.22,15.03 L122.26,15.02 L122.3,15.01 L122.34,15 L122.38,14.99 L122.42,14.98 L122.46,14.97 L122.5,14.96 L122.54,14.95 L122.58,14.94 L122.62,14.93 L122.66,14.92 L122.7,14.91 L122.74,14.9 L122.78,14.89 L122.82,14.88 L122.86,14.87 L122.9,14.86 L122.94,14.85 L122.98,14.84 L123.02,14.83 L123.06,14.82 L123.1,14.81 L123.14,14.8 L123.18,14.79 L123.22,14.78 L123.26,14.78 L123.31,14.77 L123.35,14.76 L124.17,14.58 L125,14.42 L125.84,14.27 L126.67,14.13 L127.5,14 L128.34,13.86 L129.18,13.71 L130.01,13.56 L130.85,13.4 L131.69,13.25 L132.53,13.1 L133.38,12.96 L134.22,12.82 L135.07,12.68 L135.92,12.54 L136.76,12.41 L137.61,12.28 L138.46,12.14 L139.32,12.01 L140.17,11.87 L141.03,11.73 L141.88,11.59 L142.74,11.44 L143.6,11.29 L144.46,11.13 L145.32,10.96 L146.19,10.8 L147.05,10.62 L147.92,10.45 L148.78,10.27 L149.65,10.08 L150.52,9.9 L151.4,9.7 L152.27,9.51 L153.14,9.31 L154.02,9.12 L154.9,8.91 L155.78,8.71 L156.66,8.5" fill="none" stroke="#8a2be2" stroke-width="1.6" stroke-linejoin="round" stroke-linecap="round" />
<path d="M108.19,62.99 L114.43,46.97 L125.1,40.35 L132.3,32.71 L135.56,30.71 L137.75,19.13 L138.91,22.98 L140.39,24.15 L146.96,16.81 L151.6,13.21 L156.66,8.5" fill="none" stroke="#1a3a1a" stroke-width="0.9" stroke-linejoin="round" stroke-linecap="round" />
<rect x="106.89" y="61.69" width="2.6" height="2.6" fill="#fff" stroke="#2424c8" stroke-width="0.8"/>
<rect x="134.16" y="29.31" width="2.8" height="2.8" fill="#ee44dd" stroke="#c030c0" stroke-width="0.5"/>
<path d="M137.11,20.38 L141.31,22.98 L137.11,25.58 Z" fill="#222" stroke="#111" stroke-width="0.6"/>
<rect x="155.36" y="7.2" width="2.6" height="2.6" fill="#8a2be2"/>
<path d="M19.5,108.53 L101.77,123.58" fill="none" stroke="#111" stroke-width="1.2" stroke-linejoin="round" stroke-linecap="round" />
<path d="M101.77,123.58 L156.23,103.82" fill="none" stroke="#111" stroke-width="1.2" stroke-linejoin="round" stroke-linecap="round" />
<path d="M156.23,103.82 L156.91,7.38" fill="none" stroke="#111" stroke-width="1.2" stroke-linejoin="round" stroke-linecap="round" />
<path d="M19.5,108.53 L18.44,10.06" fill="none" stroke="#111" stroke-width="1.2" stroke-linejoin="round" stroke-linecap="round" />
<path d="M101.77,123.58 L101.77,17.14" fill="none" stroke="#111" stroke-width="1.2" stroke-linejoin="round" stroke-linecap="round" />
<path d="M18.44,10.06 L101.77,17.14" fill="none" stroke="#111" stroke-width="1.2" stroke-linejoin="round" stroke-linecap="round" />
<path d="M101.77,17.14 L156.91,7.38" fill="none" stroke="#111" stroke-width="1.2" stroke-linejoin="round" stroke-linecap="round" />
<line x1="17.86" y1="95.64" x2="20.86" y2="95.64" stroke="#111" stroke-width="0.8"/>
<text x="15.6" y="98.14" font-size="7.2" text-anchor="end" fill="#111" >-2</text>
<line x1="17.67" y1="77.67" x2="20.67" y2="77.67" stroke="#111" stroke-width="0.8"/>
<text x="15.6" y="80.17" font-size="7.2" text-anchor="end" fill="#111" >-1</text>
<line x1="17.48" y1="59.61" x2="20.48" y2="59.61" stroke="#111" stroke-width="0.8"/>
<text x="15.6" y="62.11" font-size="7.2" text-anchor="end" fill="#111" >0</text>
<line x1="17.28" y1="41.47" x2="20.28" y2="41.47" stroke="#111" stroke-width="0.8"/>
<text x="15.6" y="43.97" font-size="7.2" text-anchor="end" fill="#111" >1</text>
<line x1="17.08" y1="23.24" x2="20.08" y2="23.24" stroke="#111" stroke-width="0.8"/>
<text x="15.6" y="25.74" font-size="7.2" text-anchor="end" fill="#111" >2</text>
<line x1="19.5" y1="107.03" x2="19.5" y2="110.03" stroke="#111" stroke-width="0.8"/>
<text x="11" y="116.6" font-size="7.2" text-anchor="middle" fill="#111" >-10</text>
<line x1="38.88" y1="110.58" x2="38.88" y2="113.58" stroke="#111" stroke-width="0.8"/>
<text x="32.7" y="121.1" font-size="7.2" text-anchor="middle" fill="#111" >-5</text>
<line x1="59.02" y1="114.26" x2="59.02" y2="117.26" stroke="#111" stroke-width="0.8"/>
<text x="53.8" y="124" font-size="7.2" text-anchor="middle" fill="#111" >0</text>
<line x1="79.97" y1="118.09" x2="79.97" y2="121.09" stroke="#111" stroke-width="0.8"/>
<text x="74.6" y="127.4" font-size="7.2" text-anchor="middle" fill="#111" >5</text>
<line x1="101.77" y1="122.08" x2="101.77" y2="125.08" stroke="#111" stroke-width="0.8"/>
<text x="94.2" y="131.2" font-size="7.2" text-anchor="middle" fill="#111" >10</text>
<line x1="122.09" y1="117.35" x2="124.09" y2="114.35" stroke="#111" stroke-width="0.8"/>
<text x="129" y="124.2" font-size="7.2" text-anchor="middle" fill="#111" >1.5</text>
<line x1="155.23" y1="105.32" x2="157.23" y2="102.32" stroke="#111" stroke-width="0.8"/>
<text x="158.6" y="112.3" font-size="7.2" text-anchor="middle" fill="#111" >2</text>
<text x="23" y="21.6" font-size="9.5" text-anchor="start" fill="#111" >a)</text>
<text x="0" y="0" font-size="8.1" fill="#111" transform="translate(9.4,127.2) rotate(9.6) skewX(-11)">Field Strength, H [kOe]</text>
<text x="0" y="0" font-size="8.2" fill="#111" transform="translate(125.2,135.2) rotate(-18)">d<tspan font-size="5.6" dy="1.6">FeCo</tspan><tspan dy="-1.6"> [nm]</tspan></text>
<text x="7.3" y="59.25" font-size="7.75" text-anchor="middle" fill="#111" transform="rotate(-90 7.3 59.25)">Magnetization, M [MA/m]</text>
</svg>
</body></html>
